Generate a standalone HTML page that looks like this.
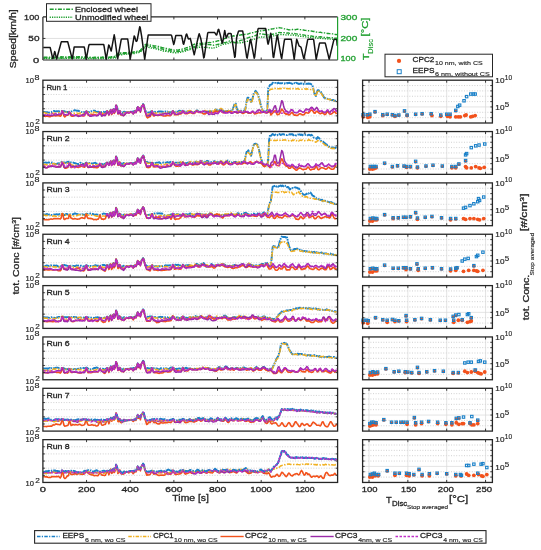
<!DOCTYPE html>
<html><head><meta charset="utf-8"><style>
html,body{margin:0;padding:0;background:#fff;}
svg{display:block;}
text{font-family:"Liberation Sans", Arial, sans-serif;stroke:#262626;stroke-width:0.3px;}
</style></head><body>
<svg width="541" height="550" viewBox="0 0 541 550">
<rect width="541" height="550" fill="#fff"/>
<line x1="42.9" y1="38.45" x2="337.6" y2="38.45" stroke="#d9d9d9" stroke-width="0.8"/>
<polyline points="43.5,58.5 44.5,58.43 45.5,58.55 46.5,58.62 47.5,58.7 48.5,58.57 49.5,58.48 50.5,58.45 51.5,58.62 52.5,58.72 53.5,58.55 54.5,58.36 55.5,58.38 56.5,58.68 57.5,58.51 58.5,58.27 59.5,58.46 60.5,58.32 61.5,58.37 62.5,58.38 63.5,58.35 64.5,58.49 65.5,58.41 66.5,58.34 67.5,58.45 68.5,58.49 69.5,58.19 70.5,58.35 71.5,58.25 72.5,58.34 73.5,58.2 74.5,58.35 75.5,58.33 76.5,58.29 77.5,58.19 78.5,58.26 79.5,58.17 80.5,58.15 81.5,58.36 82.5,58.22 83.5,58.51 84.5,58.48 85.5,58.17 86.5,58.46 87.5,58.32 88.5,58.47 89.5,58.5 90.5,58.27 91.5,58.5 92.5,58.52 93.5,58.69 94.5,58.45 95.5,58.68 96.5,58.43 97.5,58.49 98.5,58.41 99.5,58.65 100.5,58.52 101.5,58.72 102.5,58.48 103.5,58.47 104.5,58.45 105.5,58.25 106.5,58.28 107.5,58.43 108.5,58.19 109.5,58.24 110.5,58.18 111.5,58.22 112.5,58.07 113.5,58.05 114.5,58.07 115.5,58.01 116.5,56.4 117.5,55.11 118.5,54.76 119.5,54.7 120.5,54.61 121.5,54.8 122.5,54.56 123.5,54.4 124.5,54.3 125.5,54.41 126.5,54.15 127.5,54.05 128.5,54.19 129.5,53.9 130.5,53.88 131.5,53.76 132.5,53.55 133.5,53.43 134.5,53.44 135.5,53.06 136.5,52.81 137.5,52.58 138.5,52.62 139.5,52.44 140.5,51.94 141.5,50.87 142.5,49.88 143.5,48.87 144.5,47.91 145.5,47.01 146.5,46.58 147.5,46.89 148.5,47.35 149.5,47.43 150.5,47.44 151.5,48.08 152.5,48.17 153.5,48.26 154.5,48.73 155.5,48.88 156.5,49.05 157.5,49.3 158.5,49.51 159.5,49.88 160.5,50.24 161.5,50.3 162.5,50.61 163.5,51.01 164.5,50.87 165.5,51.27 166.5,51.43 167.5,51.56 168.5,51.75 169.5,52.01 170.5,52.21 171.5,52.24 172.5,52.45 173.5,52.67 174.5,52.76 175.5,52.85 176.5,52.68 177.5,52.57 178.5,52.62 179.5,52.36 180.5,52.19 181.5,52.14 182.5,51.73 183.5,51.49 184.5,51.31 185.5,50.98 186.5,50.78 187.5,50.28 188.5,49.79 189.5,49.89 190.5,49.45 191.5,48.83 192.5,48.77 193.5,48.24 194.5,47.66 195.5,47.61 196.5,47.51 197.5,47.67 198.5,47.3 199.5,47.28 200.5,47.19 201.5,47.09 202.5,46.93 203.5,47.1 204.5,47.34 205.5,47.42 206.5,47.38 207.5,47.49 208.5,47.78 209.5,47.83 210.5,47.97 211.5,47.99 212.5,48.56 213.5,48.3 214.5,47.67 215.5,47.48 216.5,47.13 217.5,46.27 218.5,46.08 219.5,45.69 220.5,45.4 221.5,44.9 222.5,44.48 223.5,44.18 224.5,44.18 225.5,44 226.5,43.45 227.5,43.18 228.5,43.39 229.5,42.72 230.5,42.54 231.5,42.53 232.5,42.64 233.5,42.76 234.5,42.74 235.5,42.65 236.5,42.87 237.5,42.89 238.5,43.14 239.5,42.97 240.5,42.71 241.5,42.5 242.5,42.55 243.5,42.06 244.5,41.62 245.5,41.56 246.5,41.38 247.5,41.27 248.5,40.75 249.5,40.71 250.5,40.42 251.5,39.89 252.5,39.6 253.5,39.49 254.5,39.13 255.5,38.68 256.5,38.26 257.5,38.01 258.5,37.51 259.5,37.16 260.5,36.89 261.5,36.97 262.5,36.94 263.5,37.26 264.5,36.89 265.5,37.04 266.5,37.03 267.5,36.83 268.5,36.97 269.5,36.55 270.5,36.7 271.5,36.56 272.5,35.94 273.5,35.86 274.5,35.89 275.5,35.5 276.5,35.17 277.5,35.03 278.5,34.78 279.5,34.7 280.5,34.58 281.5,34.55 282.5,34.55 283.5,34.68 284.5,34.9 285.5,34.84 286.5,34.93 287.5,34.89 288.5,34.8 289.5,34.93 290.5,35.14 291.5,35.13 292.5,35.06 293.5,35.07 294.5,35.41 295.5,35.48 296.5,35.61 297.5,35.75 298.5,35.95 299.5,36.08 300.5,36.29 301.5,36.42 302.5,36.59 303.5,36.66 304.5,36.65 305.5,36.82 306.5,37.01 307.5,37.05 308.5,37.28 309.5,37.48 310.5,37.38 311.5,37.39 312.5,37.88 313.5,37.84 314.5,38 315.5,37.84 316.5,38.28 317.5,38.24 318.5,38.22 319.5,38.27 320.5,38.4 321.5,38.45 322.5,38.51 323.5,38.49 324.5,38.85 325.5,38.77 326.5,38.87 327.5,38.95 328.5,38.73 329.5,39.15 330.5,39.13 331.5,39.21 332.5,39.33 333.5,39.29 334.5,39.58 335.5,39.48 336.5,39.49 337.5,39.5" fill="none" stroke="#1f9f2f" stroke-width="1.4" stroke-dasharray="1.3 1.2"/>
<polyline points="43.5,58.12 44.5,58.2 45.5,57.67 46.5,57.95 47.5,58.07 48.5,58.1 49.5,58.01 50.5,58.1 51.5,57.94 52.5,57.96 53.5,57.91 54.5,57.75 55.5,57.76 56.5,57.9 57.5,57.77 58.5,57.99 59.5,57.98 60.5,58.03 61.5,57.8 62.5,57.96 63.5,57.67 64.5,57.67 65.5,57.77 66.5,57.78 67.5,57.54 68.5,57.52 69.5,57.76 70.5,57.6 71.5,57.84 72.5,57.73 73.5,57.71 74.5,57.68 75.5,57.76 76.5,57.62 77.5,57.76 78.5,57.55 79.5,57.58 80.5,57.53 81.5,57.71 82.5,57.67 83.5,57.59 84.5,57.96 85.5,57.7 86.5,57.76 87.5,57.85 88.5,58.04 89.5,57.84 90.5,57.96 91.5,57.92 92.5,57.76 93.5,58.06 94.5,58.11 95.5,57.96 96.5,57.96 97.5,57.75 98.5,57.72 99.5,57.83 100.5,57.93 101.5,57.77 102.5,57.84 103.5,57.89 104.5,57.76 105.5,57.79 106.5,57.87 107.5,57.52 108.5,57.73 109.5,57.39 110.5,57.62 111.5,57.54 112.5,57.4 113.5,57.28 114.5,57.35 115.5,57.25 116.5,55.66 117.5,53.89 118.5,54 119.5,53.75 120.5,53.77 121.5,53.7 122.5,53.83 123.5,53.44 124.5,53.5 125.5,53.63 126.5,53.34 127.5,53.21 128.5,53.33 129.5,53.2 130.5,53.22 131.5,52.85 132.5,52.82 133.5,52.72 134.5,52.6 135.5,52.19 136.5,52.33 137.5,51.89 138.5,51.66 139.5,51.57 140.5,51.11 141.5,50.04 142.5,49.11 143.5,48.1 144.5,47.06 145.5,45.98 146.5,45.83 147.5,45.56 148.5,45.83 149.5,46.2 150.5,46.32 151.5,46.38 152.5,46.81 153.5,47.03 154.5,47.04 155.5,47.65 156.5,47.91 157.5,48.12 158.5,48.12 159.5,48.41 160.5,48.49 161.5,48.9 162.5,49.04 163.5,49.42 164.5,49.58 165.5,50 166.5,50.22 167.5,50.52 168.5,50.39 169.5,50.52 170.5,50.94 171.5,50.98 172.5,51.25 173.5,51.4 174.5,51.54 175.5,51.65 176.5,51.5 177.5,51.37 178.5,51.09 179.5,51.29 180.5,50.99 181.5,50.99 182.5,50.7 183.5,50.52 184.5,50.1 185.5,49.82 186.5,49.52 187.5,49.13 188.5,48.86 189.5,48.63 190.5,48.28 191.5,47.75 192.5,47.73 193.5,46.91 194.5,46.57 195.5,46.56 196.5,45.93 197.5,45.84 198.5,45.56 199.5,45.19 200.5,44.78 201.5,44.51 202.5,44.43 203.5,44.38 204.5,44.13 205.5,44.46 206.5,44.43 207.5,44.67 208.5,44.64 209.5,44.58 210.5,44.69 211.5,44.8 212.5,45.02 213.5,45.28 214.5,45.01 215.5,44.89 216.5,44.71 217.5,44.38 218.5,44.21 219.5,43.93 220.5,43.64 221.5,43.29 222.5,43.15 223.5,42.98 224.5,42.59 225.5,42.48 226.5,42.12 227.5,41.71 228.5,41.65 229.5,41.02 230.5,41.3 231.5,41.68 232.5,41.73 233.5,42.05 234.5,42.48 235.5,42.51 236.5,42.03 237.5,41.65 238.5,41.37 239.5,40.93 240.5,40.39 241.5,40.16 242.5,39.82 243.5,39.28 244.5,39.15 245.5,38.66 246.5,38.48 247.5,37.87 248.5,37.6 249.5,37.21 250.5,37.2 251.5,36.87 252.5,36.56 253.5,36.22 254.5,35.82 255.5,35.49 256.5,34.84 257.5,34.75 258.5,34.32 259.5,34.01 260.5,33.71 261.5,34.15 262.5,34.15 263.5,34.09 264.5,34.46 265.5,34.53 266.5,34.55 267.5,34.77 268.5,34.85 269.5,34.62 270.5,34.47 271.5,34.48 272.5,34.23 273.5,33.98 274.5,33.57 275.5,33.41 276.5,33.26 277.5,33.1 278.5,32.68 279.5,32.42 280.5,32.69 281.5,32.63 282.5,32.64 283.5,32.67 284.5,32.75 285.5,33.08 286.5,33.08 287.5,32.98 288.5,32.95 289.5,33.36 290.5,33.42 291.5,33.44 292.5,33.47 293.5,33.25 294.5,33.46 295.5,33.83 296.5,33.87 297.5,34.08 298.5,34.13 299.5,34.26 300.5,34.55 301.5,34.58 302.5,34.78 303.5,34.95 304.5,35.1 305.5,35.35 306.5,35.52 307.5,35.34 308.5,35.62 309.5,35.71 310.5,36.03 311.5,35.95 312.5,36.32 313.5,36.43 314.5,36.5 315.5,36.4 316.5,36.58 317.5,36.56 318.5,36.83 319.5,36.98 320.5,36.77 321.5,36.94 322.5,37.11 323.5,37.15 324.5,37.48 325.5,37.37 326.5,37.5 327.5,37.43 328.5,37.83 329.5,37.75 330.5,37.91 331.5,37.92 332.5,37.74 333.5,37.89 334.5,38.01 335.5,38.31 336.5,38.24 337.5,38.35" fill="none" stroke="#1f9f2f" stroke-width="1.4" stroke-dasharray="4 1.4 1.4 1.4"/>
<polyline points="43.5,57.29 44.5,57.32 45.5,57.23 46.5,57.15 47.5,57.18 48.5,57.11 49.5,57.22 50.5,57.36 51.5,57.13 52.5,57.1 53.5,57.22 54.5,57.19 55.5,57.14 56.5,57.01 57.5,57.1 58.5,57.17 59.5,56.92 60.5,57.01 61.5,56.82 62.5,56.88 63.5,56.8 64.5,56.98 65.5,56.84 66.5,57.01 67.5,56.99 68.5,56.93 69.5,56.64 70.5,56.86 71.5,56.91 72.5,56.91 73.5,56.7 74.5,56.82 75.5,56.74 76.5,56.75 77.5,56.96 78.5,56.72 79.5,56.8 80.5,56.92 81.5,56.78 82.5,56.87 83.5,56.93 84.5,56.96 85.5,56.84 86.5,57.03 87.5,57.21 88.5,56.9 89.5,57.22 90.5,57.16 91.5,57.11 92.5,57.46 93.5,57.34 94.5,57.14 95.5,57.3 96.5,57.34 97.5,57.23 98.5,57.31 99.5,57.2 100.5,57.27 101.5,57.34 102.5,57.07 103.5,57.15 104.5,57.05 105.5,57.11 106.5,56.93 107.5,56.98 108.5,57.01 109.5,57.12 110.5,57.1 111.5,56.73 112.5,56.72 113.5,56.82 114.5,56.43 115.5,56.54 116.5,54.89 117.5,53.35 118.5,53.22 119.5,53.03 120.5,52.96 121.5,52.91 122.5,53.06 123.5,52.76 124.5,52.72 125.5,52.73 126.5,52.61 127.5,52.54 128.5,52.36 129.5,52.43 130.5,52.27 131.5,52.3 132.5,52.08 133.5,51.84 134.5,51.76 135.5,51.48 136.5,51.49 137.5,51.2 138.5,51.11 139.5,50.73 140.5,50.26 141.5,48.86 142.5,47.67 143.5,46.72 144.5,45.49 145.5,44.47 146.5,44.5 147.5,44.32 148.5,44.54 149.5,44.83 150.5,45.05 151.5,45.16 152.5,45.37 153.5,45.69 154.5,45.88 155.5,45.91 156.5,46.24 157.5,46.47 158.5,46.55 159.5,46.92 160.5,47.02 161.5,47.49 162.5,47.65 163.5,47.89 164.5,48.05 165.5,48.36 166.5,48.39 167.5,48.74 168.5,49.14 169.5,49.02 170.5,49.57 171.5,49.44 172.5,49.93 173.5,49.92 174.5,50.3 175.5,50.24 176.5,49.9 177.5,50.09 178.5,49.97 179.5,49.65 180.5,49.48 181.5,49.35 182.5,49.01 183.5,48.91 184.5,48.36 185.5,48.07 186.5,47.63 187.5,47.3 188.5,46.87 189.5,46.83 190.5,46.23 191.5,45.87 192.5,45.25 193.5,44.67 194.5,44.21 195.5,43.89 196.5,43.86 197.5,43.72 198.5,43.64 199.5,43.41 200.5,43.39 201.5,43.59 202.5,43.22 203.5,43.08 204.5,43.15 205.5,43.18 206.5,42.75 207.5,42.8 208.5,42.66 209.5,42.43 210.5,42.64 211.5,42.39 212.5,42.18 213.5,41.85 214.5,41.78 215.5,41.44 216.5,41.26 217.5,40.92 218.5,40.69 219.5,40.77 220.5,40.24 221.5,39.94 222.5,39.5 223.5,39.05 224.5,38.64 225.5,38.38 226.5,37.86 227.5,37.48 228.5,37.1 229.5,36.84 230.5,36.51 231.5,36.32 232.5,36.06 233.5,35.81 234.5,35.94 235.5,35.79 236.5,35.51 237.5,35.44 238.5,35.32 239.5,35.17 240.5,35.04 241.5,34.72 242.5,34.81 243.5,34.33 244.5,34.43 245.5,34.23 246.5,34.13 247.5,34.1 248.5,33.9 249.5,33.44 250.5,33.17 251.5,33.22 252.5,32.75 253.5,32.62 254.5,32.48 255.5,31.93 256.5,31.62 257.5,31.66 258.5,31.38 259.5,31.1 260.5,30.93 261.5,30.67 262.5,30.44 263.5,30.46 264.5,30.21 265.5,29.98 266.5,30.09 267.5,29.87 268.5,29.77 269.5,29.46 270.5,29.31 271.5,29.05 272.5,28.84 273.5,28.75 274.5,28.41 275.5,28.32 276.5,28.1 277.5,28.08 278.5,27.44 279.5,27.72 280.5,27.83 281.5,28.07 282.5,28.12 283.5,28.47 284.5,28.84 285.5,28.97 286.5,29.21 287.5,29.4 288.5,29.8 289.5,29.88 290.5,29.69 291.5,29.79 292.5,29.54 293.5,29.3 294.5,29.54 295.5,29.68 296.5,29.44 297.5,29.2 298.5,29.26 299.5,29.64 300.5,29.66 301.5,29.78 302.5,29.91 303.5,30.05 304.5,30.28 305.5,30.39 306.5,30.48 307.5,30.47 308.5,30.79 309.5,30.79 310.5,31.16 311.5,31.02 312.5,31.31 313.5,31.47 314.5,31.47 315.5,31.98 316.5,32.1 317.5,32.02 318.5,32.32 319.5,32.41 320.5,32.17 321.5,32.64 322.5,32.72 323.5,32.86 324.5,32.84 325.5,33.06 326.5,33.2 327.5,33.48 328.5,33.5 329.5,33.58 330.5,33.89 331.5,33.76 332.5,33.9 333.5,33.85 334.5,34.38 335.5,34.43 336.5,34.55 337.5,34.58" fill="none" stroke="#1f9f2f" stroke-width="1.4" stroke-dasharray="4 1.4 1.4 1.4"/>
<polyline points="43.2,47.6 43.7,47.6 44.2,47.6 44.7,47.6 45.2,47.6 45.7,47.6 46.2,47.6 46.7,47.6 47.2,47.6 47.7,47.6 48.2,47.6 48.7,47.6 49.2,47.6 49.7,47.6 50.2,47.6 50.7,49.77 51.2,51.93 51.7,54.1 52.2,56.27 52.7,58.43 53.2,57.99 53.7,55.81 54.2,53.62 54.7,51.44 55.2,52.84 55.7,55.15 56.2,57.46 56.7,58.93 57.2,57.05 57.7,55.18 58.2,53.31 58.7,51.44 59.2,49.56 59.7,47.69 60.2,45.82 60.7,43.95 61.2,42.07 61.7,41.7 62.2,41.7 62.7,41.7 63.2,41.7 63.7,41.7 64.2,41.7 64.7,41.7 65.2,41.7 65.7,41.7 66.2,41.7 66.7,41.7 67.2,41.7 67.7,41.7 68.2,43.61 68.7,45.53 69.2,47.44 69.7,49.35 70.2,51.27 70.7,53.18 71.2,55.09 71.7,57 72.2,58.92 72.7,56.69 73.2,53.43 73.7,50.16 74.2,46.9 74.7,46.9 75.2,46.9 75.7,46.9 76.2,46.9 76.7,46.9 77.2,46.9 77.7,46.9 78.2,46.9 78.7,46.9 79.2,46.9 79.7,46.9 80.2,46.9 80.7,46.9 81.2,46.9 81.7,46.9 82.2,46.9 82.7,46.9 83.2,46.9 83.7,46.9 84.2,46.9 84.7,48.97 85.2,52.41 85.7,55.86 86.2,59.3 86.7,56.66 87.2,54.01 87.7,51.37 88.2,48.73 88.7,46.09 89.2,44.5 89.7,44.5 90.2,44.5 90.7,44.5 91.2,44.5 91.7,44.5 92.2,44.5 92.7,44.5 93.2,44.5 93.7,44.5 94.2,44.5 94.7,44.5 95.2,44.5 95.7,44.5 96.2,44.5 96.7,44.5 97.2,44.5 97.7,44.5 98.2,44.5 98.7,44.5 99.2,44.5 99.7,44.5 100.2,44.5 100.7,44.5 101.2,44.5 101.7,44.5 102.2,44.5 102.7,44.5 103.2,44.5 103.7,44.5 104.2,46.97 104.7,50.05 105.2,53.13 105.7,56.22 106.2,59.3 106.7,56.45 107.2,53.61 107.7,50.76 108.2,47.92 108.7,45.07 109.2,45.58 109.7,46.94 110.2,48.29 110.7,49.65 111.2,51 111.7,48.31 112.2,45.61 112.7,42.92 113.2,40.23 113.7,37.53 114.2,34.84 114.7,37.33 115.2,41.12 115.7,44.91 116.2,48.69 116.7,52.48 117.2,56.27 117.7,58.75 118.2,56.01 118.7,53.26 119.2,50.52 119.7,47.78 120.2,45.04 120.7,42.29 121.2,39.55 121.7,39 122.2,39 122.7,39 123.2,39 123.7,39 124.2,39 124.7,39 125.2,39 125.7,39 126.2,39 126.7,39 127.2,39 127.7,39 128.2,42.38 128.7,46.61 129.2,50.84 129.7,55.07 130.2,59.3 130.7,56.37 131.2,53.45 131.7,50.52 132.2,47.59 132.7,44.67 133.2,41.74 133.7,38.81 134.2,35.89 134.7,36.66 135.2,38.35 135.7,40.04 136.2,41.38 136.7,41.27 137.2,40.13 137.7,37.46 138.2,34.79 138.7,32.11 139.2,29.44 139.7,26.77 140.2,27.53 140.7,30.58 141.2,33.64 141.7,36.69 142.2,40.33 142.7,44.13 143.2,47.92 143.7,51.71 144.2,55.51 144.7,59.3 145.2,55.83 145.7,52.36 146.2,48.89 146.7,45.41 147.2,41.94 147.7,38.47 148.2,35 148.7,35 149.2,35 149.7,35 150.2,35 150.7,35 151.2,35 151.7,35 152.2,35 152.7,35 153.2,35 153.7,35 154.2,35 154.7,35 155.2,35 155.7,35 156.2,35 156.7,35 157.2,35 157.7,35 158.2,35 158.7,35 159.2,35 159.7,35 160.2,35 160.7,35 161.2,35 161.7,35 162.2,35 162.7,35 163.2,35 163.7,35 164.2,35 164.7,35 165.2,35 165.7,35 166.2,35 166.7,35 167.2,35 167.7,35 168.2,35 168.7,35 169.2,35 169.7,35 170.2,35 170.7,35 171.2,35 171.7,35.87 172.2,38.04 172.7,40.22 173.2,42.39 173.7,44.57 174.2,43.08 174.7,40.68 175.2,38.28 175.7,35.88 176.2,35.4 176.7,35.4 177.2,35.4 177.7,35.4 178.2,35.4 178.7,35.4 179.2,35.4 179.7,35.4 180.2,35.4 180.7,35.4 181.2,35.4 181.7,35.91 182.2,38.43 182.7,40.96 183.2,43.48 183.7,44.23 184.2,42.29 184.7,40.36 185.2,38.43 185.7,36.49 186.2,34.56 186.7,34.01 187.2,35.54 187.7,37.06 188.2,38.59 188.7,39.06 189.2,38.82 189.7,38.58 190.2,38.35 190.7,39.99 191.2,42.11 191.7,44.22 192.2,46.34 192.7,48.45 193.2,50.57 193.7,52.68 194.2,54.8 194.7,52.62 195.2,50.43 195.7,48.25 196.2,46.07 196.7,43.88 197.2,41.7 197.7,39.51 198.2,37.33 198.7,35.15 199.2,33.71 199.7,35.23 200.2,36.76 200.7,38.28 201.2,40.59 201.7,44.05 202.2,47.52 202.7,50.98 203.2,54.45 203.7,57.91 204.2,57.23 204.7,53.78 205.2,50.33 205.7,46.88 206.2,43.44 206.7,39.99 207.2,36.54 207.7,33.09 208.2,32.4 208.7,32.4 209.2,32.4 209.7,32.4 210.2,32.4 210.7,32.4 211.2,32.4 211.7,32.4 212.2,32.4 212.7,32.4 213.2,32.4 213.7,32.4 214.2,32.4 214.7,32.55 215.2,33.3 215.7,34.05 216.2,34.8 216.7,35.04 217.2,33.25 217.7,31.46 218.2,29.67 218.7,29.32 219.2,31.11 219.7,32.89 220.2,34.68 220.7,36.7 221.2,38.88 221.7,41.05 222.2,43.23 222.7,42.33 223.2,39.37 223.7,36.41 224.2,33.46 224.7,30.5 225.2,32.94 225.7,35.37 226.2,37.81 226.7,37.27 227.2,35.98 227.7,34.69 228.2,33.4 228.7,33.4 229.2,33.4 229.7,33.4 230.2,33.4 230.7,33.4 231.2,34.06 231.7,37.38 232.2,40.71 232.7,44.03 233.2,47.35 233.7,50.67 234.2,53.99 234.7,57.31 235.2,56.46 235.7,49.36 236.2,42.26 236.7,37.31 237.2,35.59 237.7,33.86 238.2,32.14 238.7,31.1 239.2,31.1 239.7,31.1 240.2,31.1 240.7,31.1 241.2,31.1 241.7,31.1 242.2,31.1 242.7,31.1 243.2,33.79 243.7,37.14 244.2,40.5 244.7,43.86 245.2,47.21 245.7,50.57 246.2,53.93 246.7,57.29 247.2,58.1 247.7,55.1 248.2,52.1 248.7,49.1 249.2,46.1 249.7,43.1 250.2,40.1 250.7,39.38 251.2,42.07 251.7,44.76 252.2,47.45 252.7,50.15 253.2,52.84 253.7,55.53 254.2,58.22 254.7,56.67 255.2,52.28 255.7,47.9 256.2,43.51 256.7,39.13 257.2,34.74 257.7,30.35 258.2,28.6 258.7,28.6 259.2,28.6 259.7,28.6 260.2,28.6 260.7,28.6 261.2,28.6 261.7,28.6 262.2,28.6 262.7,28.6 263.2,28.6 263.7,28.6 264.2,28.6 264.7,28.6 265.2,28.6 265.7,28.6 266.2,32.17 266.7,35.73 267.2,39.3 267.7,42.86 268.2,44.13 268.7,41.96 269.2,39.79 269.7,37.61 270.2,35.44 270.7,33.27 271.2,35.63 271.7,41.01 272.2,46.39 272.7,51.77 273.2,57.15 273.7,57.38 274.2,54.19 274.7,51 275.2,47.81 275.7,44.62 276.2,41.42 276.7,38.23 277.2,35.04 277.7,36.72 278.2,39.61 278.7,42.51 279.2,45.4 279.7,48.3 280.2,51.19 280.7,54.09 281.2,56.98 281.7,58.61 282.2,55.14 282.7,51.68 283.2,48.21 283.7,44.74 284.2,41.28 284.7,39.2 285.2,39.2 285.7,39.2 286.2,39.2 286.7,39.2 287.2,39.2 287.7,39.2 288.2,39.2 288.7,39.2 289.2,39.2 289.7,39.2 290.2,39.2 290.7,39.2 291.2,39.2 291.7,41.97 292.2,45.44 292.7,48.9 293.2,52.37 293.7,55.83 294.2,59.3 294.7,55.28 295.2,51.26 295.7,47.24 296.2,43.22 296.7,39.2 297.2,40.62 297.7,42.03 298.2,43.45 298.7,44.87 299.2,46.05 299.7,46.32 300.2,46.58 300.7,46.84 301.2,47.85 301.7,49.97 302.2,52.09 302.7,54.21 303.2,56.33 303.7,58.45 304.2,57.75 304.7,55.18 305.2,52.6 305.7,50.02 306.2,47.45 306.7,44.87 307.2,42.29 307.7,39.72 308.2,39.2 308.7,39.2 309.2,39.2 309.7,39.2 310.2,39.2 310.7,39.2 311.2,39.2 311.7,39.2 312.2,39.2 312.7,39.2 313.2,39.2 313.7,39.97 314.2,43.84 314.7,47.7 315.2,51.57 315.7,55.43 316.2,59.3 316.7,56.85 317.2,54.39 317.7,51.94 318.2,49.48 318.7,47.03 319.2,44.57 319.7,43.1 320.2,43.1 320.7,43.1 321.2,43.1 321.7,43.1 322.2,43.1 322.7,43.1 323.2,43.1 323.7,43.1 324.2,43.1 324.7,43.1 325.2,43.1 325.7,44.76 326.2,46.84 326.7,48.92 327.2,50.99 327.7,53.07 328.2,55.15 328.7,57.22 329.2,59.3 329.7,57.21 330.2,55.11 330.7,53.02 331.2,50.93 331.7,48.83 332.2,46.74 332.7,44.64 333.2,42.55 333.7,40.46 334.2,39.2 334.7,39.2 335.2,39.2 335.7,39.2 336.2,39.2 336.7,39.2 337.2,45.8" fill="none" stroke="#141414" stroke-width="1.5" stroke-linejoin="round"/>
<path d="M42.9 16.9H337.6M42.9 60H337.6" stroke="#262626" stroke-width="1.1" fill="none"/>
<line x1="42.9" y1="16.9" x2="42.9" y2="60" stroke="#262626" stroke-width="1.2"/>
<line x1="337.6" y1="16.9" x2="337.6" y2="60" stroke="#1f9f2f" stroke-width="1.2"/>
<path d="M86.56 16.9v2.5M86.56 60v-2.5M130.22 16.9v2.5M130.22 60v-2.5M173.88 16.9v2.5M173.88 60v-2.5M217.54 16.9v2.5M217.54 60v-2.5M261.2 16.9v2.5M261.2 60v-2.5M304.86 16.9v2.5M304.86 60v-2.5M42.9 38.45h2.5" stroke="#262626" stroke-width="0.9"/>
<path d="M337.6 38.45h-2.5" stroke="#1f9f2f" stroke-width="0.9"/>
<rect x="46.5" y="3.7" width="104.5" height="17.6" fill="#fff" stroke="#262626" stroke-width="1"/>
<line x1="49.7" y1="9.2" x2="72.9" y2="9.2" stroke="#1f9f2f" stroke-width="1.5" stroke-dasharray="4 1.4 1.4 1.4"/>
<line x1="49.7" y1="17.2" x2="72.9" y2="17.2" stroke="#1f9f2f" stroke-width="1.5" stroke-dasharray="1.2 1.1"/>
<text x="75.14" y="11.6" font-size="7.6" text-anchor="start" fill="#262626" textLength="62.81" lengthAdjust="spacingAndGlyphs">Enclosed wheel</text>
<text x="75.14" y="19.8" font-size="7.6" text-anchor="start" fill="#262626" textLength="73.31" lengthAdjust="spacingAndGlyphs">Unmodified wheel</text>
<text x="24.14" y="19.6" font-size="7.6" text-anchor="start" fill="#262626" textLength="15.11" lengthAdjust="spacingAndGlyphs">100</text>
<text x="28.34" y="41.1" font-size="7.6" text-anchor="start" fill="#262626" textLength="11.11" lengthAdjust="spacingAndGlyphs">50</text>
<text x="32.94" y="63.2" font-size="7.6" text-anchor="start" fill="#262626" textLength="6.21" lengthAdjust="spacingAndGlyphs">0</text>
<text x="340.54" y="20" font-size="7.6" text-anchor="start" fill="#1f9f2f" style="stroke:#1f9f2f" textLength="16.71" lengthAdjust="spacingAndGlyphs">300</text>
<text x="340.54" y="40.7" font-size="7.6" text-anchor="start" fill="#1f9f2f" style="stroke:#1f9f2f" textLength="16.71" lengthAdjust="spacingAndGlyphs">200</text>
<text x="340.54" y="60.9" font-size="7.6" text-anchor="start" fill="#1f9f2f" style="stroke:#1f9f2f" textLength="15.21" lengthAdjust="spacingAndGlyphs">100</text>
<text transform="translate(16.2,68.19) rotate(-90)" font-size="8.2" text-anchor="start" fill="#262626" textLength="58.98" lengthAdjust="spacingAndGlyphs">Speed[km/h]</text>
<text transform="translate(368.7,59.9) rotate(-90)" font-size="8.4" text-anchor="start" fill="#1f9f2f" style="stroke:#1f9f2f" textLength="6.61" lengthAdjust="spacingAndGlyphs">T</text>
<text transform="translate(373.1,53.68) rotate(-90)" font-size="6.4" text-anchor="start" fill="#1f9f2f" style="stroke:#1f9f2f;stroke-width:0.15px" textLength="14.57" lengthAdjust="spacingAndGlyphs">Disc</text>
<text transform="translate(368.2,36.5) rotate(-90)" font-size="8.4" text-anchor="start" fill="#1f9f2f" style="stroke:#1f9f2f" textLength="18.91" lengthAdjust="spacingAndGlyphs">[°C]</text>
<path d="M42.9 115.87H337.6M42.9 108.73H337.6M42.9 101.6H337.6M42.9 94.47H337.6M42.9 87.33H337.6" stroke="#bdbdbd" stroke-width="0.7" stroke-dasharray="1 1.6"/>
<clipPath id="cl0"><rect x="42.9" y="80.2" width="294.7" height="42.8"/></clipPath>
<g clip-path="url(#cl0)" fill="none" stroke-linejoin="round">
<polyline points="43.2,112.14 44.1,111.9 45,112.01 45.9,112.52 46.8,112.22 47.7,112.3 48.6,112.63 49.5,112.42 50.4,112.24 51.3,112.23 52.2,111.65 53.1,111.2 54,110.95 54.9,111.24 55.8,111.35 56.7,111.31 57.6,111.31 58.5,111.1 59.4,111.44 60.3,111.46 61.2,111.73 62.1,110.86 63,111.06 63.9,111.03 64.8,111.61 65.7,111.78 66.6,112 67.5,111.94 68.4,112.21 69.3,111.66 70.2,111.48 71.1,111.34 72,111.36 72.9,111.06 73.8,110.71 74.7,110.2 75.6,110.4 76.5,110.71 77.4,110.65 78.3,110.73 79.2,111.04 80.1,111.52 81,111.89 81.9,112.19 82.8,112.41 83.7,112.12 84.6,112.27 85.5,111.74 86.4,111.33 87.3,111.57 88.2,111.9 89.1,112.19 90,112.09 90.9,111.37 91.8,111.25 92.7,111.14 93.6,110.64 94.5,110.63 95.4,111.18 96.3,111.95 97.2,111.98 98.1,111.7 99,111.82 99.9,112.03 100.8,111.97 101.7,112.14 102.6,111.75 103.5,111.73 104.4,112.25 105.3,112.13 106.2,111.52 107.1,111.14 108,111.6 108.9,111.98 109.8,110.88 110.7,109.75 111.6,111.07 112.5,110.5 113.4,109.43 114.3,110.61 115.2,108.81 116.1,104.9 117,106.82 117.9,110.69 118.8,111.28 119.7,110.78 120.6,111.62 121.5,113.55 122.4,113.79 123.3,112.03 124.2,111.64 125.1,111.93 126,112.17 126.9,112.23 127.8,112.13 128.7,112.01 129.6,111.81 130.5,111.82 131.4,111.82 132.3,111.64 133.2,111.53 134.1,111.2 135,111.06 135.9,110.9 136.8,108.85 137.7,106.54 138.6,108.87 139.5,108.33 140.4,109.67 141.3,106.54 142.2,105.51 143.1,104.06 144,105.28 144.9,110.21 145.8,111.17 146.7,112.18 147.6,112.45 148.5,112.33 149.4,112.61 150.3,112.02 151.2,111.28 152.1,111.33 153,112 153.9,112.21 154.8,111.73 155.7,112.04 156.6,111.9 157.5,111.86 158.4,111.53 159.3,111.52 160.2,111.47 161.1,111.37 162,111.82 162.9,111.8 163.8,111.98 164.7,111.68 165.6,111.5 166.5,111.62 167.4,111.55 168.3,112.11 169.2,112.26 170.1,112.22 171,112.32 171.9,111.84 172.8,110.86 173.7,111.37 174.6,112.14 175.5,111.74 176.4,111.74 177.3,111.62 178.2,111.28 179.1,110.82 180,110.81 180.9,111.35 181.8,111.41 182.7,110.72 183.6,110.9 184.5,111.42 185.4,111.99 186.3,111.75 187.2,111.59 188.1,111.36 189,111.54 189.9,111.16 190.8,111.69 191.7,112.3 192.6,112.17 193.5,112.26 194.4,112.15 195.3,111.54 196.2,110.66 197.1,110.34 198,110.91 198.9,111.55 199.8,111.95 200.7,111.71 201.6,111.84 202.5,112.16 203.4,111.75 204.3,111.48 205.2,111.52 206.1,112.19 207,112.66 207.9,111.83 208.8,111.4 209.7,111.37 210.6,111.31 211.5,111.37 212.4,112 213.3,112.02 214.2,111.89 215.1,109.8 216,109.47 216.9,110.12 217.8,110.9 218.7,110.63 219.6,109.86 220.5,108.87 221.4,109.22 222.3,110.64 223.2,110.78 224.1,111.15 225,111.37 225.9,111.24 226.8,111.17 227.7,111.01 228.6,110.62 229.5,110.09 230.4,110.73 231.3,110.99 232.2,110.64 233.1,108.22 234,105.5 234.9,103.34 235.8,103.61 236.7,108.25 237.6,110.3 238.5,110.86 239.4,110.33 240.3,110.4 241.2,110.9 242.1,110.96 243,110.99 243.9,110.74 244.8,111.16 245.7,107.33 246.6,101.34 247.5,97.68 248.4,97.78 249.3,98.61 250.2,99.72 251.1,101.78 252,100.45 252.9,96.91 253.8,93.17 254.7,92.32 255.6,90.76 256.5,92.01 257.4,93.38 258.3,95.43 259.2,98.43 260.1,102.37 261,105.76 261.9,108.22 262.8,110.93 263.7,111.35 264.6,111.49 265.5,111.67 266.4,111.01 267.3,111.16 268.2,88.46 269.1,86.75 270,84.94 270.9,84.69 271.8,84.43 272.7,82.71 273.6,83.4 274.5,83.15 275.4,82.89 276.3,83.82 277.2,83.39 278.1,82.71 279,83.16 279.9,83.34 280.8,83.08 281.7,83.39 282.6,83.13 283.5,83.4 284.4,83.67 285.3,82.94 286.2,83.25 287.1,83.02 288,83.23 288.9,82.78 289.8,83 290.7,83.16 291.6,83.57 292.5,83.69 293.4,82.86 294.3,83.08 295.2,83.61 296.1,82.72 297,83.29 297.9,83.45 298.8,83.96 299.7,83.79 300.6,83.47 301.5,83.49 302.4,83.56 303.3,84.21 304.2,83.56 305.1,83.64 306,83.9 306.9,83.77 307.8,83.77 308.7,83.48 309.6,83.9 310.5,83.78 311.4,84.38 312.3,84.64 313.2,88.15 314.1,92.13 315,95.52 315.9,95.99 316.8,92.59 317.7,90.17 318.6,90.13 319.5,91.31 320.4,91.21 321.3,92.28 322.2,94.38 323.1,95.66 324,97.4 324.9,98.52 325.8,97.84 326.7,98.31 327.6,98.9 328.5,99.23 329.4,99.23 330.3,99.45 331.2,99.99 332.1,100.19 333,99.91 333.9,100.51 334.8,100.82 335.7,100.7 336.6,101.43" stroke="#1a80c8" stroke-width="1.9" stroke-dasharray="7 1 1.6 1"/>
<polyline points="43.2,112.75 44.1,112.31 45,112.72 45.9,113.54 46.8,113.13 47.7,113.43 48.6,114.04 49.5,113.65 50.4,113.65 51.3,113.64 52.2,113.32 53.1,113.27 54,113.12 54.9,113.4 55.8,113.3 56.7,112.93 57.6,112.75 58.5,112.48 59.4,112.8 60.3,113 61.2,112.73 62.1,111.09 63,111.45 63.9,112.34 64.8,113.13 65.7,112.52 66.6,111.91 67.5,111.77 68.4,112.57 69.3,111.94 70.2,112.51 71.1,113.73 72,113.53 72.9,113.39 73.8,113.18 74.7,113.18 75.6,113.09 76.5,112.86 77.4,113.12 78.3,113.56 79.2,113.48 80.1,113 81,112.9 81.9,113.37 82.8,113.63 83.7,113.5 84.6,113.06 85.5,111.8 86.4,111.18 87.3,112.14 88.2,112.54 89.1,113.25 90,113.49 90.9,113.22 91.8,113.49 92.7,113.07 93.6,112.28 94.5,111.92 95.4,112.41 96.3,112.87 97.2,112.64 98.1,112.59 99,112.4 99.9,112.14 100.8,112.37 101.7,112.92 102.6,113.3 103.5,113.72 104.4,113.8 105.3,113.67 106.2,112.36 107.1,111.1 108,111.89 108.9,112.4 109.8,111.06 110.7,109.74 111.6,112.54 112.5,111.71 113.4,109.35 114.3,111.51 115.2,110.15 116.1,105.25 117,107.53 117.9,112.01 118.8,112.39 119.7,110.6 120.6,113.25 121.5,114.24 122.4,114.19 123.3,113.02 124.2,112.42 125.1,112.41 126,112.28 126.9,112.22 127.8,112.24 128.7,112.17 129.6,111.94 130.5,111.65 131.4,111.63 132.3,111.98 133.2,112.56 134.1,112.03 135,111.23 135.9,111.69 136.8,109.57 137.7,106.8 138.6,109.15 139.5,108.15 140.4,109.87 141.3,106.58 142.2,105.49 143.1,104.1 144,105.34 144.9,110.42 145.8,111.68 146.7,113.91 147.6,114.56 148.5,114.12 149.4,113.68 150.3,113.36 151.2,112.13 152.1,110.92 153,112.52 153.9,113.28 154.8,113.27 155.7,113.32 156.6,112.97 157.5,113.12 158.4,113 159.3,113.11 160.2,113.31 161.1,112.98 162,113.11 162.9,113.21 163.8,113.65 164.7,113.41 165.6,112.88 166.5,112.61 167.4,112.01 168.3,112.07 169.2,112.08 170.1,112.31 171,112.36 171.9,112.14 172.8,110.85 173.7,111.6 174.6,112.74 175.5,112.53 176.4,112.49 177.3,112.41 178.2,112.46 179.1,111.88 180,111.9 180.9,111.99 181.8,111.96 182.7,110.95 183.6,111.37 184.5,112.34 185.4,111.94 186.3,111.44 187.2,111.72 188.1,110.9 189,110.74 189.9,110.59 190.8,110.69 191.7,111.56 192.6,112.02 193.5,112.01 194.4,111.49 195.3,111.25 196.2,110.99 197.1,110.42 198,111.47 198.9,112.3 199.8,111.96 200.7,112 201.6,112.04 202.5,112.1 203.4,112.08 204.3,111.04 205.2,110.47 206.1,110.88 207,111.14 207.9,111.26 208.8,111.23 209.7,110.62 210.6,110.66 211.5,110.4 212.4,110.8 213.3,111.14 214.2,110.99 215.1,109.62 216,109.59 216.9,110.52 217.8,111.04 218.7,109.88 219.6,109.38 220.5,108.47 221.4,108.43 222.3,109.54 223.2,110.27 224.1,110.64 225,110.64 225.9,110.78 226.8,110.28 227.7,110.1 228.6,110.61 229.5,111.02 230.4,111.49 231.3,111.59 232.2,110.92 233.1,109.13 234,106.56 234.9,104.68 235.8,104.59 236.7,109.56 237.6,110.64 238.5,110.95 239.4,111.46 240.3,110.77 241.2,111.72 242.1,110.99 243,111.8 243.9,111.38 244.8,111.92 245.7,107.78 246.6,102.2 247.5,99.21 248.4,99.88 249.3,100.04 250.2,101.28 251.1,102.82 252,101.6 252.9,98.15 253.8,93.95 254.7,93.28 255.6,92.23 256.5,92.87 257.4,93.96 258.3,96.75 259.2,99.84 260.1,103.69 261,106.92 261.9,108.99 262.8,111.03 263.7,111.97 264.6,112 265.5,111.74 266.4,111.63 267.3,111.29 268.2,92.48 269.1,91.53 270,89.58 270.9,89.1 271.8,89.15 272.7,89.1 273.6,88.17 274.5,88.55 275.4,88.44 276.3,88.11 277.2,88.86 278.1,88.64 279,88.68 279.9,88.44 280.8,88.81 281.7,88.53 282.6,88.65 283.5,88.37 284.4,88.35 285.3,89.12 286.2,88.58 287.1,88.83 288,88.74 288.9,88.63 289.8,88.61 290.7,88.97 291.6,88.69 292.5,88.75 293.4,88.81 294.3,89.16 295.2,89.02 296.1,88.94 297,88.67 297.9,88.43 298.8,89.14 299.7,89.16 300.6,88.83 301.5,89.05 302.4,89.13 303.3,89.15 304.2,89.19 305.1,88.78 306,89.38 306.9,88.56 307.8,89.2 308.7,89.1 309.6,89.23 310.5,89.54 311.4,89.43 312.3,88.65 313.2,88.49 314.1,92.56 315,95.74 315.9,96.11 316.8,93.5 317.7,90.27 318.6,90.71 319.5,92 320.4,92.52 321.3,93.56 322.2,95.06 323.1,96.19 324,97.29 324.9,98.06 325.8,98.18 326.7,98.34 327.6,99.27 328.5,99.31 329.4,99.66 330.3,99.45 331.2,99.76 332.1,99.91 333,100.21 333.9,100.8 334.8,100.77 335.7,101.38 336.6,101.64" stroke="#f0b020" stroke-width="1.5" stroke-dasharray="5 1.5 1.5 1.5"/>
<polyline points="43.2,115.66 44.1,116.22 45,116.11 45.9,116.36 46.8,116.08 47.7,116.13 48.6,116.48 49.5,116.73 50.4,116.64 51.3,116.03 52.2,115.87 53.1,115.86 54,115.46 54.9,115.65 55.8,115.9 56.7,115.78 57.6,115.74 58.5,115.52 59.4,115.8 60.3,116.26 61.2,115.33 62.1,111.1 63,112.42 63.9,115.9 64.8,116.9 65.7,116.04 66.6,115.2 67.5,115.22 68.4,114.71 69.3,112.23 70.2,113.27 71.1,115.89 72,116.28 72.9,116.23 73.8,115.65 74.7,115.17 75.6,115.11 76.5,114.71 77.4,115.08 78.3,115.66 79.2,115.65 80.1,115.4 81,115.34 81.9,115.6 82.8,116 83.7,115.92 84.6,115.47 85.5,112.96 86.4,111.39 87.3,113.82 88.2,115.08 89.1,115.59 90,115.57 90.9,114.97 91.8,114.91 92.7,114.36 93.6,114.31 94.5,114.8 95.4,114.8 96.3,115.13 97.2,115.14 98.1,115.12 99,113.87 99.9,112.17 100.8,113.55 101.7,115.25 102.6,114.85 103.5,114.58 104.4,115.36 105.3,115.49 106.2,113.71 107.1,111.08 108,112.9 108.9,114.94 109.8,112.71 110.7,110.01 111.6,114.47 112.5,113.21 113.4,109.37 114.3,113.42 115.2,111.71 116.1,105.29 117,108.39 117.9,113.91 118.8,113.47 119.7,110.68 120.6,114.84 121.5,114.88 122.4,114.64 123.3,115.66 124.2,115.16 125.1,114.31 126,113.01 126.9,112.36 127.8,112.61 128.7,113.13 129.6,112.83 130.5,111.99 131.4,111.94 132.3,112.88 133.2,113.81 134.1,112.75 135,111.28 135.9,112.54 136.8,110.94 137.7,106.95 138.6,110.49 139.5,108.35 140.4,112.14 141.3,107.73 142.2,106.16 143.1,104.47 144,106.17 144.9,111.19 145.8,113.79 146.7,116.96 147.6,117.84 148.5,117.31 149.4,116.83 150.3,116.46 151.2,113.88 152.1,111.29 153,115.04 153.9,116.1 154.8,115.22 155.7,115.31 156.6,115.25 157.5,115.49 158.4,115.39 159.3,115.3 160.2,115.02 161.1,114.95 162,115.44 162.9,115.66 163.8,116.03 164.7,116.02 165.6,115.85 166.5,115.66 167.4,115.29 168.3,115.51 169.2,115.8 170.1,115.72 171,115.16 171.9,113.84 172.8,111.1 173.7,112.54 174.6,114.83 175.5,114.72 176.4,114.77 177.3,114.79 178.2,114.7 179.1,113.99 180,113.71 180.9,113.96 181.8,113.15 182.7,110.76 183.6,111.45 184.5,113.33 185.4,113.78 186.3,113.68 187.2,113.75 188.1,113.32 189,113.08 189.9,112.69 190.8,112.53 191.7,113.04 192.6,113.55 193.5,113.52 194.4,113.46 195.3,112.65 196.2,111.5 197.1,110.97 198,111.96 198.9,112.45 199.8,112.34 200.7,112.6 201.6,112.45 202.5,113.27 203.4,113.85 204.3,113.83 205.2,114.02 206.1,113.16 207,112.67 207.9,112.7 208.8,112.39 209.7,112.04 210.6,112.2 211.5,112.43 212.4,112.78 213.3,112.52 214.2,112.64 215.1,111.26 216,110.93 216.9,111.36 217.8,112.07 218.7,111.82 219.6,111.15 220.5,110.74 221.4,111.5 222.3,112.33 223.2,112.76 224.1,112.69 225,111.94 225.9,112.04 226.8,112.05 227.7,111.71 228.6,111.69 229.5,111.6 230.4,111.98 231.3,112.01 232.2,112.14 233.1,112.23 234,112.04 234.9,112.12 235.8,112.34 236.7,112.86 237.6,113 238.5,112.77 239.4,111.97 240.3,111.69 241.2,112.4 242.1,113 243,113.55 243.9,113.06 244.8,112.5 245.7,112.3 246.6,112.16 247.5,112.63 248.4,113.2 249.3,113.03 250.2,113.16 251.1,112.96 252,111.93 252.9,111.59 253.8,112.87 254.7,113.86 255.6,113.78 256.5,113.51 257.4,113.14 258.3,112.73 259.2,112.58 260.1,113.06 261,112.66 261.9,112.24 262.8,112.05 263.7,112.04 264.6,112.52 265.5,112.78 266.4,113.06 267.3,112.8 268.2,112.33 269.1,111.72 270,111.49 270.9,115 271.8,114.01 272.7,113.05 273.6,111.87 274.5,110.91 275.4,110.7 276.3,112.81 277.2,114.66 278.1,114.45 279,114.44 279.9,112.78 280.8,111.08 281.7,109.12 282.6,110.05 283.5,111.18 284.4,113.2 285.3,113.4 286.2,114.49 287.1,113.53 288,114.55 288.9,114.93 289.8,114.48 290.7,113.5 291.6,112.45 292.5,112.79 293.4,114.22 294.3,115.13 295.2,114.92 296.1,115.26 297,115.59 297.9,115.15 298.8,114.23 299.7,113.76 300.6,113.72 301.5,114.6 302.4,114.9 303.3,114.78 304.2,114.68 305.1,113.3 306,112.38 306.9,112.8 307.8,113.1 308.7,112.88 309.6,111.98 310.5,110.66 311.4,109.94 312.3,110.43 313.2,111.53 314.1,112.99 315,113.25 315.9,111.94 316.8,111.2 317.7,111.81 318.6,112.58 319.5,113.46 320.4,113.69 321.3,113.24 322.2,112.73 323.1,113.27 324,114 324.9,114.64 325.8,114.08 326.7,112.42 327.6,111.36 328.5,112.26 329.4,113.75 330.3,114.17 331.2,113.98 332.1,113.47 333,112.63 333.9,111.89 334.8,111.79 335.7,112.87 336.6,114.01" stroke="#f2521c" stroke-width="1.6"/>
<polyline points="43.2,115.44 44.1,115.57 45,115.09 45.9,115.19 46.8,115.3 47.7,115.37 48.6,115.4 49.5,115.26 50.4,115.41 51.3,115.56 52.2,115.42 53.1,115.23 54,114.67 54.9,115.08 55.8,115.04 56.7,114.72 57.6,114.85 58.5,114.33 59.4,114.41 60.3,114.37 61.2,113.93 62.1,111.02 63,112.1 63.9,114.48 64.8,114.78 65.7,114.74 66.6,114.9 67.5,114.68 68.4,114.28 69.3,112.11 70.2,113.04 71.1,115.06 72,115.32 72.9,115.26 73.8,115.65 74.7,115.67 75.6,115.48 76.5,115.6 77.4,116.02 78.3,116.4 79.2,116.28 80.1,116.08 81,115.93 81.9,115.21 82.8,114.65 83.7,114.52 84.6,114.66 85.5,112.54 86.4,111.28 87.3,113.21 88.2,114.05 89.1,115.08 90,116.36 90.9,116.3 91.8,115.97 92.7,115.77 93.6,115.79 94.5,115.29 95.4,115.44 96.3,115.88 97.2,115.82 98.1,115.61 99,114.54 99.9,112.28 100.8,114.18 101.7,116.22 102.6,115.89 103.5,115.07 104.4,115.51 105.3,115.45 106.2,113.39 107.1,111.23 108,112.99 108.9,114.86 109.8,112.5 110.7,109.9 111.6,113.79 112.5,112.51 113.4,108.89 114.3,112.62 115.2,111.28 116.1,105.1 117,108.11 117.9,113.52 118.8,113.47 119.7,110.95 120.6,114.39 121.5,114.76 122.4,114.61 123.3,115.72 124.2,115.22 125.1,114.31 126,113.07 126.9,112.34 127.8,112.55 128.7,112.91 129.6,112.55 130.5,111.79 131.4,111.75 132.3,112.84 133.2,114.02 134.1,112.85 135,111.14 135.9,112.59 136.8,110.78 137.7,106.69 138.6,110.26 139.5,108.31 140.4,111.88 141.3,107.55 142.2,106.13 143.1,104.63 144,106.13 144.9,111.03 145.8,113.3 146.7,115.6 147.6,116.01 148.5,115.74 149.4,115.74 150.3,115.56 151.2,113.17 152.1,111.13 153,113.76 153.9,114.99 154.8,115.02 155.7,115.2 156.6,115.15 157.5,115.12 158.4,114.85 159.3,115.24 160.2,114.72 161.1,114.06 162,114.35 162.9,114.07 163.8,114 164.7,113.44 165.6,113.24 166.5,113.7 167.4,113.41 168.3,113.45 169.2,113.68 170.1,114.24 171,114.58 171.9,113.49 172.8,110.92 173.7,112.15 174.6,113.99 175.5,114.1 176.4,114.36 177.3,114.16 178.2,114.1 179.1,113.58 180,113.18 180.9,113.36 181.8,112.94 182.7,110.81 183.6,111.5 184.5,113.27 185.4,113.21 186.3,112.88 187.2,113.18 188.1,112.58 189,112.37 189.9,111.9 190.8,111.42 191.7,111.96 192.6,112.93 193.5,113.11 194.4,112.57 195.3,111.73 196.2,111.05 197.1,110.95 198,111.76 198.9,111.96 199.8,111.97 200.7,112.12 201.6,111.64 202.5,111.52 203.4,111.34 204.3,111.19 205.2,111.63 206.1,111.84 207,111.44 207.9,112.85 208.8,114.57 209.7,114.02 210.6,113.88 211.5,113.98 212.4,114.28 213.3,114.13 214.2,114.39 215.1,113.38 216,113.11 216.9,113.52 217.8,113.44 218.7,112.2 219.6,111.44 220.5,110.45 221.4,110.37 222.3,111.37 223.2,112.39 224.1,112.46 225,112.32 225.9,112.62 226.8,112.86 227.7,112.92 228.6,112.49 229.5,112.05 230.4,112.67 231.3,113.35 232.2,113.31 233.1,113 234,112.08 234.9,111.81 235.8,112.15 236.7,112.48 237.6,112.8 238.5,112.58 239.4,112.16 240.3,112.16 241.2,112.53 242.1,112.6 243,112.39 243.9,112.13 244.8,111.91 245.7,111.54 246.6,111.72 247.5,112.26 248.4,112.83 249.3,112.8 250.2,112.67 251.1,112.6 252,111.79 252.9,111.07 253.8,112.05 254.7,112.73 255.6,112.68 256.5,111.58 257.4,110.34 258.3,110.19 259.2,109.8 260.1,110.27 261,111.55 261.9,112.61 262.8,112.28 263.7,111.6 264.6,111.72 265.5,112.45 266.4,112.88 267.3,112.6 268.2,111.86 269.1,111.01 270,109.56 270.9,112.56 271.8,110.78 272.7,110.72 273.6,108.55 274.5,106.15 275.4,105.77 276.3,109.24 277.2,112.4 278.1,111.91 279,111.72 279.9,107.95 280.8,104.73 281.7,100.71 282.6,101.31 283.5,105.47 284.4,108.79 285.3,109.95 286.2,111.71 287.1,111.24 288,111.92 288.9,112.23 289.8,112.09 290.7,110.55 291.6,109.55 292.5,110.19 293.4,111.52 294.3,112.43 295.2,112.64 296.1,112.9 297,112.54 297.9,112.46 298.8,111.09 299.7,110.13 300.6,110.44 301.5,111.27 302.4,111.95 303.3,112.15 304.2,111.58 305.1,110.09 306,108.98 306.9,109.05 307.8,109.64 308.7,109.87 309.6,109.16 310.5,108.16 311.4,107.31 312.3,107.48 313.2,108.85 314.1,109.71 315,109.45 315.9,108.27 316.8,107.4 317.7,108.88 318.6,110.6 319.5,111.51 320.4,111.59 321.3,111.02 322.2,111.11 323.1,111.89 324,112.32 324.9,112.71 325.8,111.95 326.7,110.71 327.6,110.31 328.5,111.16 329.4,112.4 330.3,112.03 331.2,110.68 332.1,110.12 333,109.37 333.9,108.48 334.8,108.7 335.7,110.03 336.6,111.32" stroke="#9a2aa8" stroke-width="1.5"/>
<polyline points="43.2,114.39 44.1,114.68 45,114.9 45.9,115.05 46.8,114.67 47.7,114.5 48.6,114.87 49.5,115.08 50.4,114.88 51.3,114.1 52.2,113.53 53.1,113.99 54,113.88 54.9,113.53 55.8,113.5 56.7,113.79 57.6,113.94 58.5,113.83 59.4,114.01 60.3,114.16 61.2,113.72 62.1,110.95 63,111.9 63.9,114.4 64.8,114.67 65.7,114.33 66.6,114.48 67.5,114.32 68.4,113.96 69.3,112.05 70.2,112.92 71.1,114.59 72,114.77 72.9,115.04 73.8,114.89 74.7,114.64 75.6,114.92 76.5,114.96 77.4,115.29 78.3,115.78 79.2,115.41 80.1,115.36 81,115.36 81.9,115.48 82.8,115.88 83.7,115.39 84.6,115.1 85.5,112.79 86.4,111.25 87.3,113.93 88.2,115.14 89.1,115.27 90,115.2 90.9,115 91.8,115.14 92.7,115.06 93.6,115.08 94.5,115.13 95.4,115.22 96.3,115.31 97.2,114.7 98.1,114.46 99,113.81 99.9,112.42 100.8,113.39 101.7,114.44 102.6,114.44 103.5,114.33 104.4,114.24 105.3,114.18 106.2,112.92 107.1,111.18 108,112.46 108.9,113.77 109.8,111.73 110.7,109.75 111.6,113.29 112.5,112.53 113.4,109.41 114.3,112.14 115.2,110.73 116.1,105.3 117,107.75 117.9,112.34 118.8,112.56 119.7,110.8 120.6,113.12 121.5,114.11 122.4,114.14 123.3,113.93 124.2,113.38 125.1,113.04 126,112.51 126.9,112.15 127.8,112.39 128.7,112.8 129.6,112.5 130.5,111.82 131.4,111.78 132.3,112.55 133.2,113.36 134.1,112.47 135,111.27 135.9,112.29 136.8,110.47 137.7,106.92 138.6,109.94 139.5,108.38 140.4,111.05 141.3,107.26 142.2,105.93 143.1,104.28 144,105.64 144.9,110.55 145.8,112.18 146.7,114.25 147.6,114.54 148.5,114.29 149.4,114.45 150.3,114.02 151.2,112.57 152.1,111.36 153,112.88 153.9,113.77 154.8,114.19 155.7,114.44 156.6,114.15 157.5,114.25 158.4,114.4 159.3,114.62 160.2,114.7 161.1,114.74 162,114.94 162.9,115.16 163.8,115.48 164.7,115.03 165.6,114.77 166.5,114.49 167.4,114.22 168.3,114.59 169.2,114.66 170.1,114.96 171,114.78 171.9,113.08 172.8,110.99 173.7,112.17 174.6,113.4 175.5,113.37 176.4,113.68 177.3,113.24 178.2,113.14 179.1,112.89 180,113.03 180.9,113.02 181.8,112.48 182.7,110.9 183.6,111.44 184.5,112.8 185.4,113.04 186.3,113.09 187.2,113.35 188.1,112.57 189,111.97 189.9,111.62 190.8,111.96 191.7,112.5 192.6,112.63 193.5,113.12 194.4,113.27 195.3,112.14 196.2,111.26 197.1,111.28 198,111.7 198.9,111.99 199.8,112.46 200.7,112.74 201.6,111.91 202.5,110.86 203.4,110.49 204.3,110.78 205.2,112.37 206.1,113.12 207,112.8 207.9,113.16 208.8,112.95 209.7,112.16 210.6,112.39 211.5,112.59 212.4,113.18 213.3,113.32 214.2,113.46 215.1,112.56 216,112.56 216.9,113.23 217.8,113.77 218.7,112.71 219.6,111.88 220.5,111.53 221.4,111.73 222.3,112.08 223.2,112.52 224.1,113.05 225,113.25 225.9,113.03 226.8,112.99 227.7,112.94 228.6,112.46 229.5,111.94 230.4,112.48 231.3,113.09 232.2,113.01 233.1,112.43 234,111.93 234.9,111.84 235.8,111.44 236.7,111.45 237.6,111.71 238.5,111.59 239.4,111.41 240.3,111.11 241.2,111.45 242.1,112.09 243,111.9 243.9,111.7 244.8,111.01 245.7,110.63 246.6,111.36 247.5,111.36 248.4,111.54 249.3,112.23 250.2,112.47 251.1,112.03 252,111.26 252.9,110.87 253.8,111.95 254.7,112.79 255.6,112.83 256.5,112.6 257.4,112.1 258.3,111.98 259.2,111.55 260.1,111.74 261,112.07 261.9,111.92 262.8,111.52 263.7,111.37 264.6,111.81 265.5,112.27 266.4,111.92 267.3,111.28 268.2,110.56 269.1,109.79 270,109.53 270.9,110.14 271.8,111.09 272.7,111.92 273.6,112.12 274.5,112.28 275.4,112.11 276.3,111.42 277.2,110.74 278.1,110.66 279,111.16 279.9,111.29 280.8,112.74 281.7,113.35 282.6,113.09 283.5,113.05 284.4,112.59 285.3,111.45 286.2,110.99 287.1,112.25 288,113.24 288.9,113.19 289.8,111.9 290.7,110.01 291.6,109.12 292.5,109.71 293.4,110.98 294.3,111.92 295.2,112.13 296.1,112.42 297,112.67 297.9,112.32 298.8,111.34 299.7,110.97 300.6,111.12 301.5,112.08 302.4,112.4 303.3,112.51 304.2,112.11 305.1,110.67 306,109.73 306.9,110.18 307.8,111.66 308.7,111.6 309.6,110.3 310.5,109.32 311.4,108.3 312.3,108.9 313.2,110.39 314.1,110.67 315,110.07 315.9,109.81 316.8,109.86 317.7,109.99 318.6,110.73 319.5,111.82 320.4,111.44 321.3,110.65 322.2,110.45 323.1,111.2 324,111.82 324.9,112.24 325.8,111.53 326.7,110.47 327.6,109.69 328.5,110.34 329.4,112.41 330.3,113.17 331.2,112.87 332.1,112.46 333,111.21 333.9,109.92 334.8,109.91 335.7,110.74 336.6,111.73" stroke="#c030c8" stroke-width="1.3" stroke-dasharray="2.5 1.5"/>
</g>
<rect x="42.9" y="80.2" width="294.7" height="42.8" fill="none" stroke="#262626" stroke-width="1.3"/>
<text x="46.44" y="89.7" font-size="7.6" text-anchor="start" fill="#262626" textLength="21.01" lengthAdjust="spacingAndGlyphs">Run 1</text>
<text x="25.54" y="82.8" font-size="7.6" text-anchor="start" fill="#262626" style="stroke-width:0.2px" textLength="8.41" lengthAdjust="spacingAndGlyphs">10</text>
<text x="34.52" y="79.6" font-size="6.4" text-anchor="start" fill="#262626" style="stroke-width:0.15px" textLength="4.97" lengthAdjust="spacingAndGlyphs">8</text>
<text x="25.54" y="126.9" font-size="7.6" text-anchor="start" fill="#262626" style="stroke-width:0.2px" textLength="8.41" lengthAdjust="spacingAndGlyphs">10</text>
<text x="35.32" y="123.9" font-size="6.4" text-anchor="start" fill="#262626" style="stroke-width:0.15px" textLength="4.57" lengthAdjust="spacingAndGlyphs">2</text>
<path d="M42.9 167.22H337.6M42.9 160.08H337.6M42.9 152.95H337.6M42.9 145.82H337.6M42.9 138.68H337.6" stroke="#bdbdbd" stroke-width="0.7" stroke-dasharray="1 1.6"/>
<clipPath id="cl1"><rect x="42.9" y="131.55" width="294.7" height="42.8"/></clipPath>
<g clip-path="url(#cl1)" fill="none" stroke-linejoin="round">
<polyline points="43.2,162.72 44.1,162.58 45,162.62 45.9,162.51 46.8,162.83 47.7,162.65 48.6,162.36 49.5,162.62 50.4,162.42 51.3,162.74 52.2,162.53 53.1,162.72 54,163.56 54.9,163.99 55.8,164.18 56.7,163.83 57.6,163.5 58.5,163.51 59.4,162.93 60.3,162.44 61.2,162.22 62.1,161.98 63,162.09 63.9,162.43 64.8,162.81 65.7,162.74 66.6,162.45 67.5,161.9 68.4,161.64 69.3,162.93 70.2,162.66 71.1,162.29 72,162.13 72.9,162.43 73.8,162.78 74.7,163.21 75.6,163.23 76.5,163.67 77.4,163.85 78.3,164.16 79.2,163.52 80.1,162.69 81,162.82 81.9,163.4 82.8,163.7 83.7,163.85 84.6,164.22 85.5,163.22 86.4,162.48 87.3,163.73 88.2,163.45 89.1,163.1 90,162.91 90.9,163.19 91.8,163.36 92.7,163.33 93.6,163.2 94.5,162.86 95.4,162.82 96.3,163.65 97.2,163.68 98.1,163.59 99,164.06 99.9,163.62 100.8,163.74 101.7,163.95 102.6,164.23 103.5,164.41 104.4,164.18 105.3,163.67 106.2,162.91 107.1,162.62 108,162.77 108.9,162.56 109.8,161.99 110.7,161.27 111.6,162.97 112.5,162.41 113.4,160.5 114.3,161.97 115.2,160.09 116.1,156.5 117,158.2 117.9,161.48 118.8,162.49 119.7,162.14 120.6,162.81 121.5,164.74 122.4,164.98 123.3,163.04 124.2,163.11 125.1,163.1 126,163.49 126.9,163.56 127.8,163.5 128.7,163.32 129.6,163.28 130.5,163.19 131.4,163.18 132.3,163.09 133.2,163.22 134.1,163.03 135,162.6 135.9,162.69 136.8,160.8 137.7,158.16 138.6,160.39 139.5,159.59 140.4,161.46 141.3,158.14 142.2,156.95 143.1,155.44 144,156.48 144.9,161.63 145.8,161.98 146.7,161.89 147.6,162.22 148.5,162.84 149.4,162.77 150.3,162.7 151.2,163.01 152.1,162.56 153,163.03 153.9,163.61 154.8,163.53 155.7,162.97 156.6,162.63 157.5,162.67 158.4,162.49 159.3,162.22 160.2,162.96 161.1,163.15 162,162.75 162.9,162.62 163.8,162.46 164.7,162.91 165.6,162.75 166.5,162.34 167.4,162.03 168.3,162.44 169.2,162.72 170.1,161.9 171,162.11 171.9,162.42 172.8,162.02 173.7,162.38 174.6,162.58 175.5,162.68 176.4,162.64 177.3,162.6 178.2,162.65 179.1,162.61 180,162.74 180.9,162.88 181.8,163.13 182.7,162.22 183.6,162.42 184.5,163.02 185.4,163.3 186.3,163.3 187.2,162.67 188.1,162.74 189,162.35 189.9,162.05 190.8,162.25 191.7,162.95 192.6,163.21 193.5,162.88 194.4,162.37 195.3,162.11 196.2,161.61 197.1,162.2 198,162.65 198.9,162.39 199.8,161.52 200.7,160.75 201.6,160.91 202.5,161.61 203.4,162 204.3,162.49 205.2,162.03 206.1,161.5 207,160.88 207.9,160.86 208.8,161.82 209.7,162.04 210.6,162.09 211.5,161.9 212.4,161.7 213.3,161.88 214.2,161.13 215.1,161.61 216,162.14 216.9,162.24 217.8,162.06 218.7,162.37 219.6,162.11 220.5,161.52 221.4,161.38 222.3,162.58 223.2,163.26 224.1,163.08 225,162.49 225.9,161.67 226.8,160.86 227.7,160.58 228.6,161.35 229.5,161.88 230.4,162.16 231.3,162.29 232.2,162.79 233.1,163.09 234,162.02 234.9,161.83 235.8,161.95 236.7,162.11 237.6,162.45 238.5,162.42 239.4,162.2 240.3,162.04 241.2,161.89 242.1,162.35 243,161.9 243.9,161.46 244.8,160.42 245.7,155.47 246.6,151.87 247.5,151.61 248.4,150.31 249.3,152.52 250.2,153.98 251.1,155.71 252,151.66 252.9,147.75 253.8,144.64 254.7,143.81 255.6,143.59 256.5,144.2 257.4,144.57 258.3,147.06 259.2,150.74 260.1,155.15 261,158.26 261.9,160.96 262.8,163.72 263.7,165.64 264.6,164.98 265.5,165.68 266.4,165.51 267.3,165.47 268.2,159.5 269.1,140.13 270,134.91 270.9,135.85 271.8,134.77 272.7,134.05 273.6,134.72 274.5,135.25 275.4,134.55 276.3,135.27 277.2,135.26 278.1,134.41 279,133.84 279.9,134.27 280.8,135.11 281.7,134.4 282.6,134.15 283.5,134.2 284.4,134.67 285.3,134.65 286.2,134.96 287.1,134.99 288,134.31 288.9,134.58 289.8,134.23 290.7,134.64 291.6,134.21 292.5,134.19 293.4,135.34 294.3,134.6 295.2,134.81 296.1,135.47 297,134.85 297.9,134.53 298.8,134.58 299.7,134.29 300.6,134.95 301.5,134.48 302.4,135.25 303.3,134.54 304.2,134.57 305.1,134.57 306,134.97 306.9,134.85 307.8,135.29 308.7,134.65 309.6,134.97 310.5,135.58 311.4,134.85 312.3,135.53 313.2,137.06 314.1,137.82 315,138.08 315.9,138.25 316.8,138.89 317.7,137.08 318.6,137.86 319.5,138.54 320.4,140.64 321.3,140.88 322.2,141.33 323.1,141.62 324,142.68 324.9,143.21 325.8,144.13 326.7,144.47 327.6,145.69 328.5,146.75 329.4,146.77 330.3,147.37 331.2,147.71 332.1,147.51 333,147.53 333.9,147.59 334.8,148.2 335.7,147.39 336.6,147.88" stroke="#1a80c8" stroke-width="1.9" stroke-dasharray="7 1 1.6 1"/>
<polyline points="43.2,164.38 44.1,164.62 45,164.29 45.9,164.64 46.8,165.06 47.7,164.48 48.6,164.28 49.5,164.46 50.4,163.82 51.3,164.11 52.2,163.98 53.1,163.58 54,163.63 54.9,164.05 55.8,164.31 56.7,164.12 57.6,163.96 58.5,164.3 59.4,164.06 60.3,163.63 61.2,162.75 62.1,162.22 63,162.47 63.9,162.96 64.8,163.31 65.7,163.32 66.6,163.03 67.5,163.3 68.4,163.24 69.3,163.12 70.2,163.5 71.1,164.54 72,164.78 72.9,165.29 73.8,165.39 74.7,165.13 75.6,164.96 76.5,165.49 77.4,165.91 78.3,166.01 79.2,165.59 80.1,165.15 81,164.71 81.9,164.59 82.8,164.14 83.7,163.79 84.6,163.99 85.5,163.21 86.4,162.58 87.3,163.73 88.2,163.86 89.1,163.3 90,163.74 90.9,164.4 91.8,164.34 92.7,164.66 93.6,164.47 94.5,164.3 95.4,164.6 96.3,165.04 97.2,165.04 98.1,164.95 99,164.62 99.9,163.43 100.8,164.25 101.7,164.73 102.6,164.83 103.5,165.15 104.4,165.17 105.3,164.89 106.2,163.43 107.1,162.46 108,162.96 108.9,163.71 109.8,162.73 110.7,161.19 111.6,163.06 112.5,162.46 113.4,160.63 114.3,162.42 115.2,160.75 116.1,156.53 117,158.44 117.9,161.91 118.8,162.56 119.7,161.97 120.6,163.3 121.5,164.92 122.4,165.16 123.3,163.83 124.2,163.76 125.1,163.55 126,163.44 126.9,163.41 127.8,163.35 128.7,163.26 129.6,163.12 130.5,162.92 131.4,162.91 132.3,163.29 133.2,164.07 134.1,163.31 135,162.55 135.9,162.8 136.8,160.99 137.7,158.17 138.6,160.53 139.5,159.66 140.4,161.42 141.3,158.18 142.2,157.07 143.1,155.58 144,156.68 144.9,161.59 145.8,162.22 146.7,162.81 147.6,163.23 148.5,163.43 149.4,163.35 150.3,163.31 151.2,162.94 152.1,162.49 153,163.16 153.9,163.84 154.8,164.48 155.7,164.45 156.6,164.32 157.5,164.42 158.4,164.62 159.3,164.79 160.2,164.9 161.1,164.73 162,164.51 162.9,164.56 163.8,164.5 164.7,164.42 165.6,164.09 166.5,164.11 167.4,164.18 168.3,164.05 169.2,164.39 170.1,164.24 171,164.27 171.9,163.74 172.8,162.16 173.7,162.93 174.6,163.79 175.5,164 176.4,163.84 177.3,163.78 178.2,162.7 179.1,161.71 180,161.6 180.9,162.23 181.8,162.86 182.7,162.2 183.6,162.51 184.5,164.02 185.4,164.28 186.3,164.47 187.2,164.4 188.1,163.93 189,162.87 189.9,161.9 190.8,161.48 191.7,162.15 192.6,162.21 193.5,162.12 194.4,161.55 195.3,161.37 196.2,161.42 197.1,161.99 198,162.25 198.9,161.99 199.8,161.19 200.7,160.51 201.6,160.95 202.5,162.05 203.4,162.32 204.3,162.93 205.2,162.67 206.1,162.13 207,161.98 207.9,162.24 208.8,162.76 209.7,163.19 210.6,163.84 211.5,164.05 212.4,163.54 213.3,163.15 214.2,162.85 215.1,162.17 216,161.74 216.9,162.48 217.8,162.41 218.7,162.68 219.6,162.28 220.5,161.1 221.4,160.99 222.3,162.1 223.2,162.29 224.1,162.3 225,162.31 225.9,161.25 226.8,160.59 227.7,161.12 228.6,162.38 229.5,163.27 230.4,163.46 231.3,163.46 232.2,163.4 233.1,163.14 234,161.96 234.9,161.64 235.8,162.09 236.7,162.51 237.6,162.58 238.5,162.17 239.4,161.63 240.3,161.89 241.2,162.08 242.1,162.28 243,161.61 243.9,161.55 244.8,161.58 245.7,156.85 246.6,153.32 247.5,152.4 248.4,152.73 249.3,153.54 250.2,154.71 251.1,155.84 252,152.18 252.9,148.37 253.8,144.97 254.7,145.04 255.6,143.88 256.5,144.44 257.4,146.06 258.3,148.36 259.2,151.72 260.1,155.56 261,159.93 261.9,161.57 262.8,164.31 263.7,166.12 264.6,166.35 265.5,166.14 266.4,165.97 267.3,166.23 268.2,160.09 269.1,143.04 270,140.35 270.9,140.19 271.8,140.26 272.7,140.29 273.6,140.46 274.5,140.19 275.4,140.48 276.3,140.55 277.2,140.23 278.1,139.97 279,140.54 279.9,140.35 280.8,139.64 281.7,139.98 282.6,140.32 283.5,139.87 284.4,140.07 285.3,139.77 286.2,140.4 287.1,140.36 288,140.34 288.9,140.73 289.8,140.19 290.7,140.21 291.6,140.9 292.5,139.91 293.4,140.52 294.3,139.91 295.2,140.38 296.1,140.94 297,140.39 297.9,140.08 298.8,141.03 299.7,140.16 300.6,140.26 301.5,140.41 302.4,139.92 303.3,140.66 304.2,140.82 305.1,140.56 306,140.43 306.9,140.29 307.8,140.61 308.7,139.4 309.6,140.31 310.5,140.42 311.4,139.75 312.3,140.66 313.2,141.03 314.1,141.56 315,141.83 315.9,142.2 316.8,141.59 317.7,140.46 318.6,140.75 319.5,141.1 320.4,141.52 321.3,141.83 322.2,142.81 323.1,143.43 324,144.01 324.9,144.84 325.8,145.44 326.7,145.57 327.6,146.25 328.5,147.03 329.4,147.8 330.3,147.77 331.2,148.29 332.1,148.67 333,148.22 333.9,148.68 334.8,148.31 335.7,148.09 336.6,148.13" stroke="#f0b020" stroke-width="1.5" stroke-dasharray="5 1.5 1.5 1.5"/>
<polyline points="43.2,166.85 44.1,166.69 45,167.01 45.9,167.45 46.8,167.72 47.7,167.47 48.6,166.74 49.5,166.37 50.4,166.08 51.3,166.06 52.2,165.66 53.1,165.95 54,166.19 54.9,166.23 55.8,166.63 56.7,166.89 57.6,166.67 58.5,166.57 59.4,166.58 60.3,166.82 61.2,165.53 62.1,162.48 63,163.63 63.9,167.05 64.8,168.03 65.7,168.28 66.6,167.88 67.5,167.58 68.4,166.65 69.3,163.34 70.2,164.58 71.1,167.47 72,167.31 72.9,166.92 73.8,166.83 74.7,166.78 75.6,166.62 76.5,166.98 77.4,167.17 78.3,167.37 79.2,167.06 80.1,166.82 81,166.3 81.9,166.27 82.8,166.62 83.7,167.01 84.6,167.17 85.5,164.57 86.4,162.71 87.3,166.18 88.2,167.42 89.1,167.33 90,167.02 90.9,166.85 91.8,166.91 92.7,167.26 93.6,167.44 94.5,167.43 95.4,167.49 96.3,167.66 97.2,167.72 98.1,167.33 99,165.84 99.9,163.55 100.8,165.35 101.7,166.95 102.6,166.61 103.5,166.79 104.4,166.71 105.3,166.49 106.2,164.68 107.1,162.42 108,163.85 108.9,165.19 109.8,163.39 110.7,161.34 111.6,165.34 112.5,164.09 113.4,160.58 114.3,164.61 115.2,162.79 116.1,156.67 117,159.55 117.9,165.12 118.8,165.05 119.7,162.28 120.6,165.85 121.5,165.78 122.4,165.6 123.3,166.33 124.2,166.1 125.1,164.93 126,163.96 126.9,163.47 127.8,163.7 128.7,164 129.6,163.84 130.5,163.18 131.4,163.13 132.3,163.95 133.2,164.74 134.1,163.87 135,162.53 135.9,163.3 136.8,161.62 137.7,158.33 138.6,161.33 139.5,159.72 140.4,163.22 141.3,158.87 142.2,157.41 143.1,155.91 144,157.36 144.9,162.12 145.8,164.38 146.7,167.27 147.6,167.55 148.5,167.58 149.4,167.42 150.3,166.76 151.2,164.81 152.1,162.56 153,165.84 153.9,167.02 154.8,166.67 155.7,166.65 156.6,166.63 157.5,166.58 158.4,166.64 159.3,166.64 160.2,166.62 161.1,166.53 162,166.49 162.9,166.65 163.8,166.68 164.7,166.95 165.6,166.44 166.5,166.1 167.4,165.8 168.3,165.86 169.2,166.32 170.1,166.11 171,165.79 171.9,164.73 172.8,162.12 173.7,163.48 174.6,165.11 175.5,165.94 176.4,166.25 177.3,166.27 178.2,166.05 179.1,166.06 180,166.31 180.9,165.15 181.8,163.96 182.7,162.41 183.6,162.8 184.5,163.87 185.4,164.46 186.3,165.04 187.2,165.3 188.1,164.73 189,163.73 189.9,163.62 190.8,163.8 191.7,164.59 192.6,165.09 193.5,164.9 194.4,164.43 195.3,164.49 196.2,164.52 197.1,164.63 198,164.38 198.9,164.23 199.8,163.4 200.7,162.74 201.6,162.66 202.5,163.54 203.4,164.12 204.3,164.29 205.2,163.79 206.1,163.48 207,163.59 207.9,164.17 208.8,165.03 209.7,164.95 210.6,164.87 211.5,163.88 212.4,162.93 213.3,162.82 214.2,162.07 215.1,162.7 216,163.36 216.9,163.76 217.8,163.62 218.7,163.91 219.6,163.48 220.5,162.48 221.4,162.83 222.3,164.4 223.2,164.91 224.1,164.78 225,164.19 225.9,163.15 226.8,162.6 227.7,163.07 228.6,164.27 229.5,164.13 230.4,163.84 231.3,164.23 232.2,163.96 233.1,163.37 234,162.73 234.9,162.86 235.8,163.25 236.7,164.2 237.6,164.52 238.5,164.11 239.4,163.38 240.3,163.66 241.2,163.89 242.1,164.05 243,163.52 243.9,163.05 244.8,163 245.7,163.36 246.6,163.53 247.5,163.48 248.4,162.73 249.3,162.23 250.2,161.67 251.1,162.27 252,162.92 252.9,163.36 253.8,163.19 254.7,162.28 255.6,161.87 256.5,161.4 257.4,161.48 258.3,162.25 259.2,162.65 260.1,162.98 261,163.35 261.9,163.97 262.8,165.12 263.7,166.17 264.6,166.62 265.5,165.56 266.4,164.26 267.3,164.48 268.2,165.44 269.1,166.76 270,167.59 270.9,166.1 271.8,164.97 272.7,164.84 273.6,163.86 274.5,161.65 275.4,161.9 276.3,164.82 277.2,165.48 278.1,165.45 279,165.87 279.9,163.51 280.8,161.01 281.7,158.81 282.6,160.07 283.5,162.38 284.4,164.34 285.3,165.26 286.2,166.33 287.1,166.2 288,166.96 288.9,168.22 289.8,168.31 290.7,167.93 291.6,166.39 292.5,166.62 293.4,168.06 294.3,168.65 295.2,169.45 296.1,170.24 297,169.94 297.9,168.89 298.8,168.27 299.7,167.88 300.6,168.23 301.5,168.92 302.4,169.28 303.3,169.76 304.2,169.29 305.1,169.26 306,169.12 306.9,168.19 307.8,167.07 308.7,167.54 309.6,168.93 310.5,169.89 311.4,169.76 312.3,169.18 313.2,168.99 314.1,169.29 315,168.14 315.9,165.76 316.8,167.02 317.7,169.27 318.6,169.77 319.5,169.22 320.4,168.46 321.3,167.68 322.2,167.82 323.1,168.02 324,168.31 324.9,168.76 325.8,169.14 326.7,168.94 327.6,168 328.5,167.08 329.4,167.67 330.3,168.58 331.2,169.14 332.1,169.3 333,169.21 333.9,168.82 334.8,166.9 335.7,165.78 336.6,165.7" stroke="#f2521c" stroke-width="1.6"/>
<polyline points="43.2,167.02 44.1,167.33 45,167.58 45.9,167.94 46.8,167.8 47.7,167.15 48.6,166.71 49.5,166.63 50.4,166.33 51.3,166.4 52.2,166.27 53.1,166.36 54,166.38 54.9,166.72 55.8,166.91 56.7,167.05 57.6,166.92 58.5,166.85 59.4,166.95 60.3,166.93 61.2,165.42 62.1,162.48 63,163.58 63.9,166.86 64.8,167.65 65.7,167.26 66.6,166.89 67.5,166.87 68.4,166.02 69.3,163.62 70.2,164.72 71.1,166.7 72,166.23 72.9,166.35 73.8,166.15 74.7,166.22 75.6,166.22 76.5,166.16 77.4,166.03 78.3,166.47 79.2,165.59 80.1,165.09 81,164.95 81.9,164.52 82.8,164.77 83.7,165.1 84.6,166.29 85.5,164.69 86.4,162.84 87.3,166.31 88.2,167.33 89.1,167.27 90,167.34 90.9,167.28 91.8,166.83 92.7,166.45 93.6,166.55 94.5,166.85 95.4,166.58 96.3,166.39 97.2,166.48 98.1,166.2 99,165.77 99.9,163.62 100.8,165.61 101.7,167.28 102.6,167.54 103.5,167.2 104.4,166.82 105.3,166.6 106.2,164.63 107.1,162.55 108,164.01 108.9,165.41 109.8,163.31 110.7,161.23 111.6,165.33 112.5,164.37 113.4,160.6 114.3,164.47 115.2,162.71 116.1,156.54 117,159.32 117.9,164.63 118.8,164.95 119.7,162.25 120.6,165.5 121.5,165.67 122.4,165.68 123.3,166.57 124.2,166.26 125.1,165.26 126,164.19 126.9,163.47 127.8,163.71 128.7,164.07 129.6,163.76 130.5,163.13 131.4,163.11 132.3,163.93 133.2,164.91 134.1,164.2 135,162.35 135.9,164.04 136.8,162.5 137.7,158.32 138.6,161.97 139.5,159.47 140.4,163.24 141.3,159.14 142.2,157.55 143.1,156 144,157.41 144.9,162.15 145.8,163.9 146.7,166.28 147.6,166.95 148.5,166.49 149.4,166.01 150.3,165.81 151.2,164.24 152.1,162.66 153,164.9 153.9,165.94 154.8,165.97 155.7,166.05 156.6,165.81 157.5,165.74 158.4,166.38 159.3,167.58 160.2,168.19 161.1,168.06 162,167.76 162.9,167.3 163.8,167.13 164.7,167.16 165.6,167.15 166.5,167.05 167.4,166.71 168.3,166.53 169.2,166.62 170.1,166.39 171,165.99 171.9,164.44 172.8,162.09 173.7,163.24 174.6,164.83 175.5,165.07 176.4,164.95 177.3,165 178.2,164.96 179.1,164.74 180,164.75 180.9,164.98 181.8,164.99 182.7,162.47 183.6,163.11 184.5,165.06 185.4,165.46 186.3,165.09 187.2,164.81 188.1,164.51 189,164.02 189.9,163.36 190.8,163.35 191.7,164.25 192.6,164.31 193.5,164.22 194.4,163.63 195.3,163.6 196.2,163.81 197.1,164.23 198,163.81 198.9,163.88 199.8,163.41 200.7,162.23 201.6,162.29 202.5,163.39 203.4,164.46 204.3,164.87 205.2,164.23 206.1,163.87 207,163.27 207.9,163.05 208.8,163.61 209.7,163.64 210.6,163.67 211.5,163.51 212.4,163.55 213.3,163.69 214.2,163.29 215.1,163.34 216,163.1 216.9,163.88 217.8,163.78 218.7,163.25 219.6,162.22 220.5,161.56 221.4,161.64 222.3,162.73 223.2,163.68 224.1,163.43 225,162.82 225.9,161.63 226.8,161.48 227.7,162.74 228.6,163.77 229.5,164.34 230.4,164.5 231.3,164.47 232.2,164.47 233.1,163.66 234,162.44 234.9,162.27 235.8,163.01 236.7,163.75 237.6,163.54 238.5,163.37 239.4,163.01 240.3,163.28 241.2,163.26 242.1,163.13 243,162.43 243.9,161.63 244.8,161.54 245.7,162.28 246.6,163.18 247.5,164.08 248.4,163.46 249.3,162.98 250.2,163.11 251.1,164 252,164.1 252.9,164.21 253.8,164.17 254.7,163.59 255.6,162.38 256.5,161.55 257.4,162.18 258.3,162.92 259.2,162.69 260.1,162.35 261,162.15 261.9,162.8 262.8,163.95 263.7,164.23 264.6,164.42 265.5,164.58 266.4,164.27 267.3,164.21 268.2,165.16 269.1,166.26 270,166.39 270.9,163.2 271.8,161.98 272.7,161.95 273.6,159.6 274.5,155.2 275.4,155.35 276.3,160.19 277.2,163.15 278.1,163.11 279,162.97 279.9,159.31 280.8,155.05 281.7,150.57 282.6,151.59 283.5,155.67 284.4,160.82 285.3,162.2 286.2,163.65 287.1,165.71 288,165.38 288.9,165.8 289.8,166.28 290.7,166.03 291.6,164.58 292.5,164.68 293.4,165.78 294.3,166.28 295.2,167.17 296.1,168.05 297,167.72 297.9,167.12 298.8,165.89 299.7,165.21 300.6,166.11 301.5,166.4 302.4,166.03 303.3,166.46 304.2,166.37 305.1,166.15 306,165.64 306.9,164.61 307.8,163.7 308.7,164.17 309.6,165.34 310.5,166.49 311.4,167.2 312.3,167.19 313.2,166.99 314.1,166.8 315,165.76 315.9,163.99 316.8,164.92 317.7,165.66 318.6,165.22 319.5,164.9 320.4,163.99 321.3,162.94 322.2,162.82 323.1,164.18 324,165.92 324.9,166.15 325.8,166.36 326.7,166.25 327.6,165.05 328.5,164.27 329.4,164.96 330.3,165.6 331.2,166.06 332.1,166.82 333,166.61 333.9,166.16 334.8,164.93 335.7,164.05 336.6,163.79" stroke="#9a2aa8" stroke-width="1.5"/>
<polyline points="43.2,165.88 44.1,165.77 45,166.12 45.9,166.21 46.8,166.02 47.7,166.29 48.6,165.84 49.5,165.48 50.4,165.64 51.3,165.72 52.2,165.35 53.1,165.2 54,165.06 54.9,165.74 55.8,166.43 56.7,166.18 57.6,165.62 58.5,164.94 59.4,164.64 60.3,164.89 61.2,163.86 62.1,162.24 63,162.86 63.9,164.88 64.8,165.46 65.7,165.39 66.6,164.93 67.5,165.69 68.4,166.21 69.3,163.54 70.2,164.8 71.1,167.39 72,167.48 72.9,167.58 73.8,167.69 74.7,167.92 75.6,167.26 76.5,166.47 77.4,166.4 78.3,166.74 79.2,166.31 80.1,166.27 81,165.9 81.9,165.76 82.8,166.19 83.7,166.68 84.6,166.27 85.5,164.02 86.4,162.67 87.3,164.88 88.2,165.8 89.1,165.96 90,165.56 90.9,165.64 91.8,165.67 92.7,165.54 93.6,165.67 94.5,165.67 95.4,165.6 96.3,165.78 97.2,165.92 98.1,165.72 99,164.92 99.9,163.43 100.8,164.57 101.7,165.5 102.6,165.49 103.5,165.72 104.4,165.78 105.3,165.89 106.2,164.46 107.1,162.48 108,163.81 108.9,164.75 109.8,163.07 110.7,161.18 111.6,165.69 112.5,164.42 113.4,160.47 114.3,164.11 115.2,162.27 116.1,156.44 117,159.29 117.9,164.19 118.8,164.07 119.7,162.07 120.6,164.63 121.5,165.44 122.4,165.56 123.3,165.69 124.2,165.28 125.1,164.56 126,164.05 126.9,163.6 127.8,163.83 128.7,164.22 129.6,163.82 130.5,163.17 131.4,163.14 132.3,163.89 133.2,164.69 134.1,163.66 135,162.4 135.9,163.32 136.8,161.65 137.7,158.39 138.6,161.35 139.5,159.64 140.4,162.61 141.3,158.8 142.2,157.36 143.1,155.61 144,156.96 144.9,161.79 145.8,163.39 146.7,164.81 147.6,165.58 148.5,166.12 149.4,165.49 150.3,165.55 151.2,164.33 152.1,162.52 153,165.04 153.9,166.13 154.8,166.52 155.7,166.66 156.6,166.28 157.5,166.18 158.4,166.3 159.3,166.43 160.2,166.62 161.1,166.49 162,166.56 162.9,166.13 163.8,166.04 164.7,166.46 165.6,166.07 166.5,165.15 167.4,164.51 168.3,164.77 169.2,164.72 170.1,164.27 171,164.34 171.9,163.91 172.8,162.11 173.7,163.32 174.6,164.89 175.5,165.09 176.4,164.91 177.3,164.9 178.2,165.5 179.1,165.69 180,165.87 180.9,166.33 181.8,165.41 182.7,162.3 183.6,163.21 184.5,164.98 185.4,164.92 186.3,164.9 187.2,164.66 188.1,164.89 189,164.05 189.9,163.13 190.8,163.4 191.7,164.33 192.6,163.9 193.5,163.33 194.4,162.77 195.3,162.44 196.2,162.34 197.1,163.19 198,163.27 198.9,162.72 199.8,161.58 200.7,160.52 201.6,161.5 202.5,163.1 203.4,163.59 204.3,163.75 205.2,163.19 206.1,163 207,162.77 207.9,163.01 208.8,163.16 209.7,162.88 210.6,163.36 211.5,163.15 212.4,162.81 213.3,162.68 214.2,162.31 215.1,162.76 216,162.87 216.9,163.6 217.8,164.22 218.7,164.29 219.6,163.2 220.5,162.44 221.4,162.59 222.3,163.7 223.2,164.17 224.1,163.76 225,163.27 225.9,163.1 226.8,162.35 227.7,162.27 228.6,163.58 229.5,164.63 230.4,164.79 231.3,164.35 232.2,164.17 233.1,163.63 234,162.51 234.9,162.68 235.8,163.54 236.7,163.91 237.6,163.93 238.5,163.88 239.4,163.36 240.3,163.84 241.2,164.17 242.1,163.24 243,161.66 243.9,161.32 244.8,161.73 245.7,162.27 246.6,162.29 247.5,162.95 248.4,162.45 249.3,162.31 250.2,163 251.1,163.87 252,164.15 252.9,164.02 253.8,163.27 254.7,162.44 255.6,162.18 256.5,161.99 257.4,162.2 258.3,162.38 259.2,162.23 260.1,161.92 261,161.54 261.9,162.25 262.8,163.19 263.7,163.52 264.6,164.43 265.5,164.89 266.4,164.32 267.3,164.44 268.2,165.5 269.1,166.43 270,166.5 270.9,166.84 271.8,166.91 272.7,165.96 273.6,163.83 274.5,162.96 275.4,163.7 276.3,165.43 277.2,165.86 278.1,165.68 279,165.37 279.9,164.9 280.8,164.25 281.7,163.37 282.6,163.23 283.5,163.87 284.4,164.38 285.3,164.66 286.2,164.39 287.1,163.73 288,163.74 288.9,165.01 289.8,165.83 290.7,165.87 291.6,164.66 292.5,164.3 293.4,165.18 294.3,166.14 295.2,166.69 296.1,166.39 297,165.76 297.9,164.99 298.8,164.12 299.7,163.82 300.6,164.17 301.5,165.6 302.4,166.42 303.3,166.99 304.2,167 305.1,166.65 306,166.5 306.9,165.3 307.8,164.29 308.7,164.78 309.6,165.69 310.5,167.17 311.4,167.59 312.3,167.2 313.2,166.82 314.1,166.35 315,165.31 315.9,163.74 316.8,164.73 317.7,166.24 318.6,166.75 319.5,166.58 320.4,166.01 321.3,164.92 322.2,164.4 323.1,164.62 324,165.1 324.9,165.4 325.8,165.89 326.7,165.81 327.6,164.82 328.5,163.87 329.4,164.61 330.3,165.71 331.2,166.08 332.1,166.2 333,165.97 333.9,165.45 334.8,164.02 335.7,163.33 336.6,163.51" stroke="#c030c8" stroke-width="1.3" stroke-dasharray="2.5 1.5"/>
</g>
<rect x="42.9" y="131.55" width="294.7" height="42.8" fill="none" stroke="#262626" stroke-width="1.3"/>
<text x="46.44" y="141.05" font-size="7.6" text-anchor="start" fill="#262626" textLength="23.21" lengthAdjust="spacingAndGlyphs">Run 2</text>
<text x="25.54" y="134.15" font-size="7.6" text-anchor="start" fill="#262626" style="stroke-width:0.2px" textLength="8.41" lengthAdjust="spacingAndGlyphs">10</text>
<text x="34.52" y="130.95" font-size="6.4" text-anchor="start" fill="#262626" style="stroke-width:0.15px" textLength="4.97" lengthAdjust="spacingAndGlyphs">8</text>
<text x="25.54" y="178.25" font-size="7.6" text-anchor="start" fill="#262626" style="stroke-width:0.2px" textLength="8.41" lengthAdjust="spacingAndGlyphs">10</text>
<text x="35.32" y="175.25" font-size="6.4" text-anchor="start" fill="#262626" style="stroke-width:0.15px" textLength="4.57" lengthAdjust="spacingAndGlyphs">2</text>
<path d="M42.9 218.57H337.6M42.9 211.43H337.6M42.9 204.3H337.6M42.9 197.17H337.6M42.9 190.03H337.6" stroke="#bdbdbd" stroke-width="0.7" stroke-dasharray="1 1.6"/>
<clipPath id="cl2"><rect x="42.9" y="182.9" width="294.7" height="42.8"/></clipPath>
<g clip-path="url(#cl2)" fill="none" stroke-linejoin="round">
<polyline points="43.2,214.56 44.1,214.6 45,214.54 45.9,214.73 46.8,214 47.7,214.37 48.6,214.57 49.5,214.57 50.4,214.84 51.3,214.84 52.2,214.84 53.1,214.79 54,214.51 54.9,214.64 55.8,214.4 56.7,214.15 57.6,214.53 58.5,214.61 59.4,214.06 60.3,214.42 61.2,214.89 62.1,213.53 63,213.9 63.9,214.88 64.8,215.23 65.7,214.16 66.6,213.97 67.5,214.24 68.4,214.79 69.3,214.37 70.2,214.4 71.1,214.56 72,214.58 72.9,214.22 73.8,214.04 74.7,213.35 75.6,213.53 76.5,213.92 77.4,214.19 78.3,213.85 79.2,214.09 80.1,214.42 81,214.6 81.9,214.22 82.8,214.55 83.7,214.67 84.6,214.85 85.5,214.32 86.4,213.75 87.3,214.01 88.2,213.89 89.1,213.83 90,213.65 90.9,213.34 91.8,213.52 92.7,214.03 93.6,214.26 94.5,214.74 95.4,214.82 96.3,214.36 97.2,214.52 98.1,214.63 99,214.52 99.9,215.01 100.8,214.61 101.7,214.29 102.6,213.93 103.5,213.53 104.4,213.58 105.3,213.87 106.2,213.85 107.1,213.84 108,214.12 108.9,214.29 109.8,213.22 110.7,212.43 111.6,214.18 112.5,213.78 113.4,212.04 114.3,213.68 115.2,211.89 116.1,207.79 117,209.71 117.9,213.4 118.8,214.05 119.7,213.36 120.6,214.08 121.5,215.98 122.4,216.4 123.3,214.92 124.2,214.48 125.1,214.65 126,214.63 126.9,214.63 127.8,214.64 128.7,214.69 129.6,214.51 130.5,214.4 131.4,214.39 132.3,214.41 133.2,214.3 134.1,214.22 135,214.01 135.9,213.58 136.8,211.8 137.7,209.63 138.6,211.6 139.5,210.84 140.4,212.45 141.3,209.38 142.2,208.3 143.1,207.07 144,208.25 144.9,213.12 145.8,214.01 146.7,214.83 147.6,214.99 148.5,214.9 149.4,214.63 150.3,214.75 151.2,214.3 152.1,213.83 153,214.17 153.9,213.63 154.8,213.48 155.7,213.31 156.6,213.23 157.5,213.65 158.4,213.36 159.3,213.24 160.2,213.65 161.1,213.38 162,213.47 162.9,214.57 163.8,215.14 164.7,215.2 165.6,216.05 166.5,215.95 167.4,215.53 168.3,215.31 169.2,215.25 170.1,214.87 171,214.33 171.9,214.06 172.8,213.46 173.7,213.75 174.6,213.94 175.5,214 176.4,214.43 177.3,214.22 178.2,214.57 179.1,214.58 180,214.69 180.9,214.81 181.8,215.03 182.7,213.69 183.6,214.01 184.5,214.75 185.4,214.52 186.3,214.25 187.2,214.33 188.1,214.38 189,214.13 189.9,213.42 190.8,213.64 191.7,214.55 192.6,215.05 193.5,214.97 194.4,214.71 195.3,214.35 196.2,214.12 197.1,213.65 198,213.96 198.9,214.03 199.8,213.74 200.7,213.93 201.6,214.65 202.5,214.84 203.4,214.06 204.3,213.92 205.2,214.44 206.1,215.01 207,214.97 207.9,215.15 208.8,214.32 209.7,213.4 210.6,213.1 211.5,213.55 212.4,214.38 213.3,215.15 214.2,215.3 215.1,215.39 216,214.76 216.9,214.34 217.8,214.87 218.7,215.03 219.6,215.1 220.5,214.87 221.4,214.99 222.3,215.2 223.2,215.06 224.1,215.07 225,214.81 225.9,214.88 226.8,214.78 227.7,214.74 228.6,214.74 229.5,214.62 230.4,214.28 231.3,213.91 232.2,214.13 233.1,214.28 234,214.8 234.9,214.75 235.8,214.72 236.7,214.17 237.6,213.26 238.5,213.33 239.4,213.72 240.3,213.52 241.2,213.99 242.1,214.14 243,213.95 243.9,213.3 244.8,212.84 245.7,212.81 246.6,213.23 247.5,213.93 248.4,214.27 249.3,214.5 250.2,214.46 251.1,214.41 252,214.07 252.9,213.54 253.8,213.58 254.7,214.1 255.6,215.02 256.5,215.03 257.4,213.97 258.3,212.75 259.2,212.81 260.1,213.82 261,214.03 261.9,213.95 262.8,213.41 263.7,212.42 264.6,212.86 265.5,214.38 266.4,214.91 267.3,213.69 268.2,209.53 269.1,205.32 270,202.3 270.9,200.84 271.8,192.25 272.7,186.64 273.6,186.3 274.5,186.03 275.4,185.51 276.3,186.61 277.2,185.99 278.1,186.78 279,186.07 279.9,185.8 280.8,185.47 281.7,186.19 282.6,185.52 283.5,186.25 284.4,185.56 285.3,185.89 286.2,185.65 287.1,187.36 288,186.87 288.9,187.89 289.8,189.43 290.7,188.81 291.6,189.03 292.5,187.99 293.4,188.44 294.3,187.73 295.2,187.31 296.1,187.78 297,187.6 297.9,188.44 298.8,188.38 299.7,189.63 300.6,190.83 301.5,192.03 302.4,193.28 303.3,194.47 304.2,194.87 305.1,194.85 306,194.13 306.9,193.75 307.8,193.03 308.7,193.61 309.6,192.21 310.5,192.4 311.4,193.79 312.3,195.25 313.2,195.95 314.1,196.33 315,197.01 315.9,197.79 316.8,198.88 317.7,198.78 318.6,199.31 319.5,199.35 320.4,199.89 321.3,200.14 322.2,199.71 323.1,201.27 324,200.72 324.9,200.7 325.8,200.82 326.7,201.29 327.6,201.65 328.5,202.11 329.4,202.16 330.3,202.58 331.2,202.11 332.1,202.66 333,202.82 333.9,203.48 334.8,203.82 335.7,203.4 336.6,204.1" stroke="#1a80c8" stroke-width="1.9" stroke-dasharray="7 1 1.6 1"/>
<polyline points="43.2,215.15 44.1,215.05 45,215.33 45.9,215.71 46.8,215.33 47.7,215.51 48.6,215.76 49.5,215.84 50.4,215.43 51.3,215.32 52.2,215.94 53.1,216.2 54,215.75 54.9,215.99 55.8,216.22 56.7,216.48 57.6,216.61 58.5,216.32 59.4,216.11 60.3,216.67 61.2,215.58 62.1,213.5 63,214.03 63.9,215.19 64.8,215.3 65.7,215.08 66.6,215.21 67.5,215.13 68.4,215.72 69.3,214.53 70.2,214.77 71.1,215.92 72,216.46 72.9,215.96 73.8,216.01 74.7,216.01 75.6,215.85 76.5,215.81 77.4,215.52 78.3,214.89 79.2,214.76 80.1,214.71 81,214.74 81.9,214.71 82.8,215.22 83.7,214.95 84.6,214.88 85.5,214.52 86.4,213.97 87.3,214.73 88.2,215.11 89.1,215.35 90,215.3 90.9,215.28 91.8,215.31 92.7,215.1 93.6,215.27 94.5,215.53 95.4,215.72 96.3,216.25 97.2,216.14 98.1,216.14 99,215.76 99.9,215 100.8,215.82 101.7,216.66 102.6,216.12 103.5,216.04 104.4,216.09 105.3,216.38 106.2,215.4 107.1,214.1 108,215.09 108.9,216.12 109.8,213.92 110.7,212.65 111.6,214.97 112.5,214.46 113.4,211.84 114.3,214.32 115.2,212.3 116.1,207.77 117,209.8 117.9,213.47 118.8,214.38 119.7,213.43 120.6,214.98 121.5,216.43 122.4,216.52 123.3,214.97 124.2,214.56 125.1,214.51 126,214.66 126.9,214.79 127.8,214.66 128.7,214.52 129.6,214.33 130.5,214.26 131.4,214.26 132.3,214.6 133.2,215.19 134.1,214.45 135,213.96 135.9,214.07 136.8,212.1 137.7,209.63 138.6,211.63 139.5,210.95 140.4,212.44 141.3,209.42 142.2,208.28 143.1,206.73 144,208 144.9,212.98 145.8,214.06 146.7,215.15 147.6,215.31 148.5,215.65 149.4,215.4 150.3,215.05 151.2,214.79 152.1,213.97 153,214.85 153.9,215.43 154.8,215.55 155.7,215.2 156.6,215.36 157.5,215.81 158.4,216.34 159.3,216.06 160.2,215.54 161.1,215.71 162,216.28 162.9,216.4 163.8,215.42 164.7,215.24 165.6,216 166.5,215.59 167.4,215.3 168.3,215.33 169.2,215.24 170.1,215.52 171,215.71 171.9,215.03 172.8,213.66 173.7,214.03 174.6,214.64 175.5,214.55 176.4,214.74 177.3,214.46 178.2,214.28 179.1,214.33 180,214.9 180.9,214.93 181.8,215.12 182.7,213.59 183.6,214.05 184.5,215.12 185.4,215 186.3,214.75 187.2,214.52 188.1,215.09 189,215.27 189.9,214.8 190.8,214.3 191.7,213.8 192.6,213.99 193.5,214.53 194.4,214.55 195.3,213.78 196.2,213.48 197.1,213.28 198,213.4 198.9,213.45 199.8,214.01 200.7,214.58 201.6,214.42 202.5,214.43 203.4,214.38 204.3,214.03 205.2,213.63 206.1,214 207,214.54 207.9,214.94 208.8,214.32 209.7,213.46 210.6,212.91 211.5,213.28 212.4,213.97 213.3,214.96 214.2,215.57 215.1,216.01 216,215.31 216.9,214.08 217.8,214.5 218.7,214.94 219.6,214.35 220.5,214.13 221.4,214.7 222.3,214.47 223.2,214.1 224.1,213.98 225,214.01 225.9,213.99 226.8,213.95 227.7,214.29 228.6,213.71 229.5,213.74 230.4,213.54 231.3,212.83 232.2,213.67 233.1,214.11 234,214.27 234.9,214.38 235.8,214.39 236.7,214 237.6,213.62 238.5,213.63 239.4,214.22 240.3,214.68 241.2,215.18 242.1,215.22 243,215.36 243.9,215.05 244.8,214.37 245.7,213.85 246.6,214.49 247.5,214.99 248.4,215.11 249.3,215.41 250.2,215.48 251.1,215.5 252,215.16 252.9,215.24 253.8,215.16 254.7,215.33 255.6,215.81 256.5,215.55 257.4,215.39 258.3,214.4 259.2,214.03 260.1,214.62 261,215.06 261.9,215.19 262.8,214.61 263.7,213.35 264.6,212.69 265.5,214.16 266.4,216.03 267.3,214.76 268.2,210.67 269.1,205.96 270,202.72 270.9,201.84 271.8,196.46 272.7,191.76 273.6,192.02 274.5,192.24 275.4,192.17 276.3,192.05 277.2,192.51 278.1,192.53 279,192.37 279.9,192.4 280.8,192.08 281.7,191.75 282.6,192.76 283.5,191.81 284.4,192.77 285.3,192.06 286.2,192.17 287.1,192.05 288,192.39 288.9,191.95 289.8,192.65 290.7,192.26 291.6,192.15 292.5,193.56 293.4,194.78 294.3,194.25 295.2,194.37 296.1,193.65 297,192.6 297.9,193.23 298.8,191.75 299.7,193.68 300.6,193.7 301.5,195.32 302.4,196.26 303.3,196.28 304.2,196.22 305.1,197.16 306,196.46 306.9,196.76 307.8,197.82 308.7,197.35 309.6,197.88 310.5,198.24 311.4,198.14 312.3,198.44 313.2,198.57 314.1,198.77 315,199.24 315.9,199.34 316.8,199.34 317.7,199.7 318.6,199.51 319.5,199.68 320.4,199.86 321.3,200.64 322.2,201.13 323.1,200.91 324,200.54 324.9,201.22 325.8,201.77 326.7,201.97 327.6,202.17 328.5,202.7 329.4,202.94 330.3,202.51 331.2,203.3 332.1,203.2 333,203.71 333.9,204.22 334.8,204.61 335.7,204.48 336.6,204.34" stroke="#f0b020" stroke-width="1.5" stroke-dasharray="5 1.5 1.5 1.5"/>
<polyline points="43.2,219.31 44.1,219.53 45,219.77 45.9,219.72 46.8,219.43 47.7,219.74 48.6,219.61 49.5,219.43 50.4,219.07 51.3,218.93 52.2,219.24 53.1,218.97 54,218.56 54.9,218.6 55.8,218.59 56.7,218.7 57.6,218.61 58.5,218.63 59.4,218.68 60.3,218.92 61.2,217.66 62.1,213.63 63,215.18 63.9,219.17 64.8,219.53 65.7,218.69 66.6,218.36 67.5,218.44 68.4,218.39 69.3,215.06 70.2,216.22 71.1,218.13 72,218.38 72.9,218.99 73.8,218.97 74.7,218.49 75.6,218.67 76.5,218.97 77.4,219.24 78.3,218.98 79.2,218.93 80.1,218.47 81,218.02 81.9,217.6 82.8,217.95 83.7,218.31 84.6,218.42 85.5,215.88 86.4,214.13 87.3,217.36 88.2,218.38 89.1,218.49 90,218.35 90.9,218.63 91.8,218.64 92.7,219.07 93.6,219.61 94.5,219.43 95.4,219.57 96.3,219.68 97.2,219.19 98.1,219.28 99,217.83 99.9,214.97 100.8,217.26 101.7,219.24 102.6,218.96 103.5,219.45 104.4,219.1 105.3,218.73 106.2,216.23 107.1,214.04 108,215.74 108.9,217.81 109.8,215.05 110.7,212.7 111.6,217.07 112.5,216.36 113.4,212.03 114.3,215.74 115.2,214.06 116.1,207.97 117,210.85 117.9,216.07 118.8,215.82 119.7,213.44 120.6,216.85 121.5,217.45 122.4,217.34 123.3,217.75 124.2,217.45 125.1,216.48 126,215.14 126.9,214.5 127.8,214.73 128.7,215.27 129.6,215.06 130.5,214.38 131.4,214.32 132.3,215.16 133.2,216.01 134.1,215.49 135,214 135.9,215.33 136.8,213.56 137.7,209.6 138.6,213.3 139.5,211.05 140.4,214.47 141.3,210.33 142.2,208.93 143.1,207.43 144,208.79 144.9,213.35 145.8,215.32 146.7,218.12 147.6,218.07 148.5,217.73 149.4,218.25 150.3,217.8 151.2,215.58 152.1,213.95 153,216.53 153.9,217.64 154.8,217.66 155.7,217.52 156.6,217.4 157.5,217.53 158.4,217.37 159.3,217.21 160.2,217.98 161.1,218.78 162,218.88 162.9,218.39 163.8,218.01 164.7,217.5 165.6,217.42 166.5,217.52 167.4,217.05 168.3,216.82 169.2,216.74 170.1,217.9 171,219.26 171.9,217.7 172.8,213.61 173.7,215.72 174.6,219.07 175.5,219.43 176.4,219.08 177.3,218.97 178.2,219.02 179.1,218.7 180,218.13 180.9,217.13 181.8,216.46 182.7,213.83 183.6,214.73 184.5,216.84 185.4,216.83 186.3,216.6 187.2,216.33 188.1,216.35 189,216.33 189.9,216.14 190.8,216.57 191.7,216.61 192.6,216.61 193.5,216.75 194.4,217.14 195.3,216.89 196.2,216.18 197.1,215.44 198,215.64 198.9,215.89 199.8,215.71 200.7,215.84 201.6,216.17 202.5,216.43 203.4,216.09 204.3,215.08 205.2,214.82 206.1,215.92 207,216.32 207.9,216 208.8,215.25 209.7,214.85 210.6,214.2 211.5,214.42 212.4,215.29 213.3,216.08 214.2,215.33 215.1,214.42 216,214.22 216.9,213.97 217.8,214.4 218.7,214.63 219.6,214.62 220.5,215.85 221.4,217.21 222.3,217.85 223.2,217.63 224.1,216.17 225,215.39 225.9,215.71 226.8,215.53 227.7,215.61 228.6,215.77 229.5,215.57 230.4,215.07 231.3,214.43 232.2,215.06 233.1,215.46 234,215.95 234.9,216.2 235.8,215.68 236.7,214.89 237.6,214.62 238.5,214.69 239.4,215.42 240.3,216.2 241.2,216.48 242.1,216.14 243,216.22 243.9,216.25 244.8,214.83 245.7,213.75 246.6,214.5 247.5,215.02 248.4,215.18 249.3,215.15 250.2,215.67 251.1,216.07 252,215.6 252.9,215.63 253.8,216.03 254.7,216.29 255.6,216.27 256.5,216.36 257.4,216.02 258.3,214.72 259.2,214.3 260.1,215.29 261,216.33 261.9,215.7 262.8,214.52 263.7,213.7 264.6,213.52 265.5,214.55 266.4,215.98 267.3,217.08 268.2,217.16 269.1,217.65 270,217.08 270.9,216.07 271.8,215.44 272.7,216.31 273.6,217.98 274.5,218.42 275.4,218 276.3,216.46 277.2,215.64 278.1,216.6 279,217.45 279.9,217.28 280.8,217.3 281.7,218.05 282.6,217.64 283.5,216.72 284.4,215.63 285.3,215.38 286.2,216.19 287.1,216.81 288,216.82 288.9,216.33 289.8,216.63 290.7,216.15 291.6,215.34 292.5,215.28 293.4,215.4 294.3,216.29 295.2,217.91 296.1,219.18 297,219.12 297.9,219.5 298.8,219.39 299.7,217.85 300.6,216.46 301.5,217 302.4,218.42 303.3,218.67 304.2,217.85 305.1,216.74 306,215.95 306.9,214.7 307.8,215.11 308.7,216.97 309.6,217.59 310.5,217.01 311.4,216.72 312.3,216.05 313.2,216.15 314.1,218.17 315,218.87 315.9,218.51 316.8,217.34 317.7,216.59 318.6,216.25 319.5,216.9 320.4,218.07 321.3,218.55 322.2,217.99 323.1,217.57 324,217.21 324.9,216.6 325.8,216.39 326.7,217.29 327.6,217.24 328.5,217.5 329.4,217.93 330.3,217.47 331.2,215.25 332.1,214.02 333,215.64 333.9,217.73 334.8,218.79 335.7,218.51 336.6,218.7" stroke="#f2521c" stroke-width="1.6"/>
<polyline points="106.2,216.1 107.1,213.88 108,215.61 108.9,217.51 109.8,215.08 110.7,212.78 111.6,216.71 112.5,216.26 113.4,211.92 114.3,215.99 115.2,214.22 116.1,208.03 117,211.08 117.9,216.78 118.8,215.99 119.7,213.59 120.6,216.69 121.5,217 122.4,217.05 123.3,218.65 124.2,218.11 125.1,216.81 126,215.46 126.9,214.82 127.8,215.15 128.7,215.68 129.6,215.34 130.5,214.67 131.4,214.62 132.3,215.49 133.2,216.27 134.1,215.19 135,213.77 135.9,214.75 136.8,213.07 137.7,209.43 138.6,212.62 139.5,210.74 140.4,213.93 141.3,210.16 142.2,208.79 143.1,207.2 144,208.55 144.9,213.54 145.8,215.22 146.7,217.25 147.6,218.06 148.5,218.56 149.4,218.21 150.3,218.11 151.2,216.06 152.1,213.94 153,217.18 153.9,218.79 154.8,218.59 155.7,218.15 156.6,218.53 157.5,218.86 158.4,219.08 159.3,218.8 160.2,218.88 161.1,218.81 162,218.59 162.9,218.65 163.8,218.35 164.7,218.27 165.6,218.86 166.5,218.6 167.4,218.36 168.3,218.01 169.2,217.05 170.1,216.85 171,217.16 171.9,216.42 172.8,213.61 173.7,215.1 174.6,217.45 175.5,216.89 176.4,216.1 177.3,215.86 178.2,216.07 179.1,215.72 180,215.56 180.9,215.89 181.8,215.91 182.7,213.78 183.6,214.31 184.5,215.49 185.4,216.24 186.3,216.52 187.2,216.51 188.1,216.66 189,216.28 189.9,215.82 190.8,215.77 191.7,216.34 192.6,216.78 193.5,216.69 194.4,216.76 195.3,215.57 196.2,214.45 197.1,213.85 198,213.77 198.9,213.96 199.8,214.12 200.7,215.76 201.6,217.27 202.5,217.56 203.4,217.16 204.3,216.05 205.2,216.35 206.1,217.71 207,217.6 207.9,217.22 208.8,215.67 209.7,213.98 210.6,213.79 211.5,214.18 212.4,214.92 213.3,216.12 214.2,216.17 215.1,216.16 216,215.82 216.9,215.7 217.8,216.15 218.7,216.38 219.6,216.64 220.5,216.49 221.4,216.43 222.3,216.42 223.2,216.18 224.1,215.87 225,215.47 225.9,215.13 226.8,215.4 227.7,215.4 228.6,214.72 229.5,214.97 230.4,214.83 231.3,213.86 232.2,214.31 233.1,215.34 234,216.46 234.9,216.71 235.8,216.51 236.7,215.59 237.6,214.61 238.5,215.03 239.4,215.78 240.3,216.12 241.2,216.46 242.1,216.17 243,216.73 243.9,216.54 244.8,214.99 245.7,214.45 246.6,215.27 247.5,215.87 248.4,215.81 249.3,215.71 250.2,215.76 251.1,215.34 252,214.74 252.9,214.63 253.8,214.72 254.7,214.96 255.6,215.45 256.5,215.9 257.4,215.48 258.3,213.92 259.2,213.48 260.1,215.36 261,217.09 261.9,216.96 262.8,216.41 263.7,215.8 264.6,214.04 265.5,213.73 266.4,214.84 267.3,215.61 268.2,215.62 269.1,215.12 270,214.41 270.9,213.16 271.8,212.23 272.7,213.49 273.6,215.12 274.5,215.5 275.4,215.1 276.3,214.15 277.2,213.71 278.1,214.4 279,215.18 279.9,215.36 280.8,215.35 281.7,215.24 282.6,214.75 283.5,214.32 284.4,213.39 285.3,213.21 286.2,214.03 287.1,214.4 288,214.89 288.9,216.03 289.8,216.43 290.7,215.7 291.6,214.59 292.5,213.96 293.4,214.67 294.3,215.52 295.2,215.81 296.1,216.35 297,216.74 297.9,216.19 298.8,215.16 299.7,213.93 300.6,212.68 301.5,213.16 302.4,214.59 303.3,214.99 304.2,214.95 305.1,214.77 306,213.83 306.9,212.55 307.8,212.66 308.7,214 309.6,215.27 310.5,215.57 311.4,214.36 312.3,212.99 313.2,213.66 314.1,215.1 315,215.4 315.9,215.3 316.8,214.28 317.7,212.5 318.6,211.47 319.5,212.5 320.4,213.6 321.3,214.48 322.2,214.45 323.1,214.18 324,213.47 324.9,213.25 325.8,214.03 326.7,215.43 327.6,215.7 328.5,216.08 329.4,216.23 330.3,215.62 331.2,213.57 332.1,212.33 333,213.52 333.9,214.69 334.8,215.21 335.7,215.04 336.6,215.46" stroke="#9a2aa8" stroke-width="1.5"/>
<polyline points="106.2,215.21 107.1,213.91 108,214.84 108.9,216.1 109.8,214.41 110.7,212.7 111.6,215.94 112.5,215.27 113.4,211.73 114.3,215.34 115.2,213.62 116.1,207.8 117,210.64 117.9,215.6 118.8,215.41 119.7,213.52 120.6,215.9 121.5,216.84 122.4,216.87 123.3,216.76 124.2,216.2 125.1,216.24 126,215.49 126.9,214.93 127.8,215.19 128.7,215.45 129.6,215.02 130.5,214.65 131.4,214.62 132.3,215.05 133.2,215.47 134.1,214.62 135,213.69 135.9,214.54 136.8,213.2 137.7,209.54 138.6,212.62 139.5,211.07 140.4,213.92 141.3,210.02 142.2,208.63 143.1,207.11 144,208.51 144.9,213.33 145.8,214.8 146.7,217.45 147.6,217.85 148.5,217.76 149.4,217.6 150.3,217.45 151.2,215.76 152.1,213.99 153,216.78 153.9,217.08 154.8,216.26 155.7,216.42 156.6,216.76 157.5,216.95 158.4,217 159.3,216.7 160.2,216.54 161.1,217.05 162,217.04 162.9,216.69 163.8,216.87 164.7,216.8 165.6,217.12 166.5,217.16 167.4,216.93 168.3,216.82 169.2,216.94 170.1,217.05 171,216.93 171.9,215.94 172.8,213.47 173.7,214.63 174.6,216.17 175.5,216.47 176.4,216.16 177.3,215.97 178.2,216.08 179.1,215.66 180,215.87 180.9,215.95 181.8,215.43 182.7,213.45 183.6,214.15 184.5,215.91 185.4,216.65 186.3,216.44 187.2,216.01 188.1,215.97 189,216.28 189.9,216.64 190.8,216.73 191.7,216.73 192.6,216.96 193.5,216.79 194.4,216.85 195.3,215.96 196.2,214.73 197.1,214.33 198,214.44 198.9,214.35 199.8,214.51 200.7,214.73 201.6,214.94 202.5,215.18 203.4,214.97 204.3,214.54 205.2,214.22 206.1,215.04 207,215.3 207.9,214.75 208.8,214.42 209.7,214.6 210.6,214.31 211.5,214.83 212.4,215.57 213.3,216.58 214.2,217.09 215.1,217.01 216,216.78 216.9,216.52 217.8,216.43 218.7,216.34 219.6,216.19 220.5,216.07 221.4,216.56 222.3,216.71 223.2,216.25 224.1,215.82 225,215.8 225.9,215.96 226.8,215.84 227.7,215.7 228.6,215.59 229.5,215.97 230.4,215.87 231.3,214.97 232.2,215.25 233.1,215.81 234,216.54 234.9,216.75 235.8,216.59 236.7,215.83 237.6,214.97 238.5,214.73 239.4,215.46 240.3,215.9 241.2,216.25 242.1,216.17 243,215.84 243.9,215.41 244.8,214.63 245.7,213.94 246.6,214.41 247.5,215.92 248.4,216.65 249.3,216.42 250.2,215.93 251.1,215.92 252,215.49 252.9,214.64 253.8,214.92 254.7,215.13 255.6,215.16 256.5,215.57 257.4,215.23 258.3,214.1 259.2,214.16 260.1,215.24 261,215.88 261.9,215.09 262.8,214.1 263.7,213.19 264.6,212.41 265.5,213.96 266.4,215.2 267.3,215.91 268.2,216.24 269.1,216.23 270,215.44 270.9,214.59 271.8,214.34 272.7,215.4 273.6,216.74 274.5,215.74 275.4,214.44 276.3,213.36 277.2,213.24 278.1,213.9 279,214.54 279.9,215.44 280.8,215.34 281.7,215.29 282.6,215.3 283.5,214.46 284.4,212.78 285.3,212.69 286.2,213.57 287.1,214.79 288,215.86 288.9,216.11 289.8,216.18 290.7,215.32 291.6,214.34 292.5,213.8 293.4,214.62 294.3,215.86 295.2,216.15 296.1,216.57 297,215.79 297.9,215.09 298.8,214.99 299.7,213.93 300.6,212.88 301.5,213.11 302.4,214.17 303.3,215.74 304.2,217.31 305.1,217.05 306,216.04 306.9,214.85 307.8,214.56 308.7,215.59 309.6,216.74 310.5,216.83 311.4,213.84 312.3,211.24 313.2,211.82 314.1,213.24 315,213.72 315.9,213.77 316.8,212.98 317.7,212.16 318.6,212.14 319.5,213.44 320.4,214.46 321.3,215.2 322.2,215.69 323.1,215.14 324,214.09 324.9,214.13 325.8,214.51 326.7,215.13 327.6,215.29 328.5,215.47 329.4,214.91 330.3,214.15 331.2,212.78 332.1,211.74 333,212.8 333.9,214.39 334.8,215.66 335.7,216.09 336.6,216.12" stroke="#c030c8" stroke-width="1.3" stroke-dasharray="2.5 1.5"/>
</g>
<rect x="42.9" y="182.9" width="294.7" height="42.8" fill="none" stroke="#262626" stroke-width="1.3"/>
<text x="46.44" y="192.4" font-size="7.6" text-anchor="start" fill="#262626" textLength="23.21" lengthAdjust="spacingAndGlyphs">Run 3</text>
<text x="25.54" y="185.5" font-size="7.6" text-anchor="start" fill="#262626" style="stroke-width:0.2px" textLength="8.41" lengthAdjust="spacingAndGlyphs">10</text>
<text x="34.52" y="182.3" font-size="6.4" text-anchor="start" fill="#262626" style="stroke-width:0.15px" textLength="4.97" lengthAdjust="spacingAndGlyphs">8</text>
<text x="25.54" y="229.6" font-size="7.6" text-anchor="start" fill="#262626" style="stroke-width:0.2px" textLength="8.41" lengthAdjust="spacingAndGlyphs">10</text>
<text x="35.32" y="226.6" font-size="6.4" text-anchor="start" fill="#262626" style="stroke-width:0.15px" textLength="4.57" lengthAdjust="spacingAndGlyphs">2</text>
<path d="M42.9 269.92H337.6M42.9 262.78H337.6M42.9 255.65H337.6M42.9 248.52H337.6M42.9 241.38H337.6" stroke="#bdbdbd" stroke-width="0.7" stroke-dasharray="1 1.6"/>
<clipPath id="cl3"><rect x="42.9" y="234.25" width="294.7" height="42.8"/></clipPath>
<g clip-path="url(#cl3)" fill="none" stroke-linejoin="round">
<polyline points="43.2,265.9 44.1,266.55 45,266.36 45.9,265.67 46.8,265.37 47.7,265.57 48.6,265.93 49.5,266.15 50.4,265.49 51.3,265.46 52.2,265.59 53.1,265.85 54,265.41 54.9,265.81 55.8,265.81 56.7,265.5 57.6,266.09 58.5,266.64 59.4,266.56 60.3,266.7 61.2,266.13 62.1,264.88 63,265.13 63.9,265.19 64.8,264.92 65.7,265.54 66.6,265.57 67.5,265.83 68.4,265.99 69.3,265.87 70.2,265.99 71.1,265.79 72,265.66 72.9,265.78 73.8,265.84 74.7,266.07 75.6,265.96 76.5,265.38 77.4,265.6 78.3,265.66 79.2,265.52 80.1,265.82 81,265.57 81.9,265.89 82.8,266.28 83.7,266.46 84.6,266.55 85.5,265.64 86.4,265.22 87.3,265.56 88.2,266.03 89.1,266.23 90,266.06 90.9,266.01 91.8,266.24 92.7,266.07 93.6,266.27 94.5,265.58 95.4,265.18 96.3,265.51 97.2,265.77 98.1,265.72 99,265.68 99.9,266.22 100.8,265.68 101.7,265.74 102.6,264.98 103.5,264.98 104.4,265.07 105.3,265.66 106.2,265.44 107.1,265.18 108,265.36 108.9,265.66 109.8,264.74 110.7,263.82 111.6,266.16 112.5,265.44 113.4,263.08 114.3,264.7 115.2,263.3 116.1,259.32 117,261.29 117.9,264.86 118.8,265.1 119.7,264.96 120.6,265.86 121.5,267.48 122.4,267.64 123.3,265.78 124.2,265.83 125.1,265.74 126,265.96 126.9,266.21 127.8,266.12 128.7,266.15 129.6,265.89 130.5,265.76 131.4,265.74 132.3,265.83 133.2,266.05 134.1,265.74 135,265.21 135.9,265.28 136.8,263.41 137.7,260.9 138.6,263.16 139.5,262.08 140.4,263.74 141.3,260.68 142.2,259.59 143.1,258.1 144,259.25 144.9,264.32 145.8,265.02 146.7,265.86 147.6,266.59 148.5,266.68 149.4,266.41 150.3,266.54 151.2,265.73 152.1,265.15 153,265.76 153.9,266.57 154.8,266.3 155.7,266.13 156.6,266.21 157.5,266.78 158.4,266.32 159.3,266.09 160.2,266.42 161.1,266.56 162,266.24 162.9,266.08 163.8,266 164.7,265.8 165.6,265.27 166.5,265.33 167.4,265.51 168.3,265.48 169.2,265.37 170.1,265.3 171,265.22 171.9,264.85 172.8,264.73 173.7,264.95 174.6,264.97 175.5,264.64 176.4,265.02 177.3,264.95 178.2,264.78 179.1,265.21 180,265.41 180.9,265.28 181.8,265.03 182.7,264.71 183.6,265.12 184.5,265.87 185.4,265.48 186.3,265.55 187.2,265.27 188.1,265.15 189,264.95 189.9,265.29 190.8,265.96 191.7,266.41 192.6,266.44 193.5,266.42 194.4,266.21 195.3,265.19 196.2,263.95 197.1,263.96 198,264.58 198.9,265.05 199.8,265.03 200.7,264.59 201.6,263.7 202.5,263.12 203.4,263.04 204.3,263.7 205.2,265.38 206.1,266.75 207,266.67 207.9,266.38 208.8,266.41 209.7,265.93 210.6,264.84 211.5,263.98 212.4,264.75 213.3,265.75 214.2,265.64 215.1,265.54 216,265.04 216.9,264.69 217.8,264.52 218.7,264.58 219.6,265.23 220.5,265.62 221.4,264.6 222.3,263.99 223.2,264.02 224.1,264.36 225,264.96 225.9,264.93 226.8,265.6 227.7,265.97 228.6,265.62 229.5,265.6 230.4,265.88 231.3,266.27 232.2,265.81 233.1,265.34 234,265.41 234.9,264.98 235.8,264.7 236.7,265.23 237.6,265.73 238.5,265.49 239.4,265.5 240.3,265.55 241.2,264.63 242.1,264.1 243,264.11 243.9,264.92 244.8,265.18 245.7,265.42 246.6,265.53 247.5,264.89 248.4,263.71 249.3,263.97 250.2,264.47 251.1,264.91 252,265.41 252.9,265.54 253.8,265.67 254.7,265.83 255.6,265.49 256.5,265.31 257.4,265.97 258.3,265.86 259.2,265.24 260.1,264.74 261,264.39 261.9,263.88 262.8,263.83 263.7,264.32 264.6,263.96 265.5,263.05 266.4,262.09 267.3,263.22 268.2,264.98 269.1,265.9 270,265.75 270.9,265.31 271.8,256.33 272.7,246.86 273.6,245.95 274.5,246.52 275.4,246.53 276.3,246.92 277.2,247.57 278.1,247.96 279,244.83 279.9,240.53 280.8,238.39 281.7,236.56 282.6,236.84 283.5,237.05 284.4,236.84 285.3,236.93 286.2,237.66 287.1,237.53 288,241.94 288.9,245.97 289.8,247.91 290.7,250.11 291.6,250.68 292.5,250.73 293.4,250 294.3,248.95 295.2,249 296.1,249.05 297,248.59 297.9,249.37 298.8,249.97 299.7,249.7 300.6,250.53 301.5,250.53 302.4,250.74 303.3,251.38 304.2,251.02 305.1,251.18 306,251.42 306.9,251.24 307.8,251.22 308.7,251.31 309.6,251.96 310.5,251.99 311.4,251.76 312.3,252.45 313.2,252.23 314.1,251.81 315,252.61 315.9,252.47 316.8,252.17 317.7,252.93 318.6,252.75 319.5,252.85 320.4,253.3 321.3,252.44 322.2,252.87 323.1,253.27 324,253.62 324.9,253.41 325.8,253.4 326.7,253.49 327.6,253.92 328.5,254.31 329.4,253.67 330.3,253.56 331.2,254.31 332.1,254.4 333,254.33 333.9,254.98 334.8,255.17 335.7,254.81 336.6,255.01" stroke="#1a80c8" stroke-width="1.9" stroke-dasharray="7 1 1.6 1"/>
<polyline points="43.2,266.97 44.1,266.81 45,266.87 45.9,266.68 46.8,267.07 47.7,267.44 48.6,266.92 49.5,266.71 50.4,266.57 51.3,266.42 52.2,266.31 53.1,266.93 54,266.98 54.9,267 55.8,267.02 56.7,267.03 57.6,266.74 58.5,266.7 59.4,267.25 60.3,267.76 61.2,267.52 62.1,265.24 63,265.73 63.9,267.29 64.8,267.61 65.7,268.18 66.6,268.72 67.5,268.43 68.4,267.47 69.3,265.93 70.2,266.17 71.1,266.57 72,266.99 72.9,267.33 73.8,267.01 74.7,266.83 75.6,267.25 76.5,267.22 77.4,267.22 78.3,267.42 79.2,267.82 80.1,268.15 81,268.1 81.9,268.53 82.8,268.13 83.7,268 84.6,268.02 85.5,266.5 86.4,265.49 87.3,266.7 88.2,266.83 89.1,266.73 90,267.3 90.9,267.21 91.8,266.98 92.7,266.86 93.6,266.96 94.5,266.27 95.4,266.44 96.3,266.79 97.2,266.8 98.1,266.81 99,266.42 99.9,266.33 100.8,266.81 101.7,267.41 102.6,266.96 103.5,267.24 104.4,267.41 105.3,267.66 106.2,266.53 107.1,265.19 108,265.83 108.9,266.75 109.8,265.57 110.7,264 111.6,266.48 112.5,265.76 113.4,263.22 114.3,265.89 115.2,264.26 116.1,259.08 117,261.56 117.9,266.07 118.8,266.02 119.7,264.63 120.6,266.49 121.5,267.98 122.4,268.1 123.3,267.23 124.2,266.82 125.1,266.4 126,266.21 126.9,266.1 127.8,266.16 128.7,266.15 129.6,265.95 130.5,265.86 131.4,265.86 132.3,265.98 133.2,266.13 134.1,265.85 135,265 135.9,265.49 136.8,263.49 137.7,260.81 138.6,263.14 139.5,262.21 140.4,264.15 141.3,261.07 142.2,259.93 143.1,258.38 144,259.57 144.9,264.57 145.8,265.69 146.7,267.03 147.6,267.31 148.5,266.66 149.4,266.42 150.3,266.53 151.2,265.52 152.1,265.02 153,265.55 153.9,266.37 154.8,266.38 155.7,266.43 156.6,266.46 157.5,266.37 158.4,266.04 159.3,266.63 160.2,266.33 161.1,266.06 162,266.25 162.9,266.28 163.8,266.73 164.7,266.82 165.6,266.35 166.5,266.6 167.4,266.82 168.3,266.89 169.2,266.79 170.1,266.81 171,266.66 171.9,265.95 172.8,264.85 173.7,265.58 174.6,266.76 175.5,266.45 176.4,266.51 177.3,266.26 178.2,266.25 179.1,266.66 180,266.67 180.9,266.71 181.8,265.99 182.7,264.93 183.6,265.45 184.5,266.14 185.4,265.9 186.3,266.06 187.2,265.73 188.1,265.6 189,265.27 189.9,265.3 190.8,265.27 191.7,265.33 192.6,265.6 193.5,265.97 194.4,265.47 195.3,263.88 196.2,263.76 197.1,265.26 198,265.8 198.9,265.46 199.8,265.22 200.7,265.08 201.6,264.43 202.5,263.76 203.4,263.65 204.3,264.71 205.2,265.26 206.1,264.94 207,264.74 207.9,265.43 208.8,266.1 209.7,265.54 210.6,265.31 211.5,264.84 212.4,265.27 213.3,266.22 214.2,265.95 215.1,265.66 216,264.71 216.9,264.75 217.8,264.54 218.7,264.58 219.6,265.16 220.5,264.7 221.4,263.82 222.3,263.72 223.2,264.24 224.1,264.47 225,265.1 225.9,265.49 226.8,265.89 227.7,265.75 228.6,265.11 229.5,265.38 230.4,265.7 231.3,266.02 232.2,266.24 233.1,266.15 234,265.63 234.9,264.88 235.8,265 236.7,265.54 237.6,266.08 238.5,266.36 239.4,266.36 240.3,265.81 241.2,264.97 242.1,264.28 243,263.83 243.9,264.74 244.8,265.14 245.7,265.41 246.6,265.3 247.5,264.57 248.4,263.5 249.3,263.58 250.2,263.8 251.1,264.37 252,264.95 252.9,265.3 253.8,265.78 254.7,265.65 255.6,265.72 256.5,266 257.4,266.07 258.3,265.78 259.2,265.88 260.1,265.7 261,264.65 261.9,264.18 262.8,264.42 263.7,265.4 264.6,265.65 265.5,264.68 266.4,263.19 267.3,262.93 268.2,263.84 269.1,265.33 270,265.58 270.9,264.71 271.8,257.48 272.7,247.68 273.6,246.58 274.5,247.26 275.4,247.29 276.3,247.91 277.2,247.86 278.1,248.15 279,246.35 279.9,243.51 280.8,242.59 281.7,241.95 282.6,242.77 283.5,242.58 284.4,241.8 285.3,242.08 286.2,243.03 287.1,243.27 288,245.25 288.9,247.29 289.8,249.09 290.7,251.04 291.6,251.41 292.5,251.22 293.4,251.07 294.3,251.12 295.2,250.47 296.1,249.64 297,249.52 297.9,249.96 298.8,250.16 299.7,250.81 300.6,251.27 301.5,250.91 302.4,251.49 303.3,251.24 304.2,251.47 305.1,251.22 306,252.33 306.9,251.96 307.8,252.25 308.7,251.94 309.6,251.76 310.5,252.66 311.4,252.18 312.3,252.98 313.2,252.52 314.1,253.15 315,252.53 315.9,252.31 316.8,253.14 317.7,253 318.6,253.11 319.5,253.51 320.4,253.03 321.3,253.02 322.2,253.16 323.1,253.12 324,253.19 324.9,253.45 325.8,253.65 326.7,253.92 327.6,253.8 328.5,254.23 329.4,254.6 330.3,254.42 331.2,254.74 332.1,254.47 333,254.96 333.9,255.14 334.8,254.94 335.7,254.8 336.6,255.33" stroke="#f0b020" stroke-width="1.5" stroke-dasharray="5 1.5 1.5 1.5"/>
<polyline points="43.2,269.98 44.1,269.91 45,269.92 45.9,269.5 46.8,269.58 47.7,269.95 48.6,269.64 49.5,270.04 50.4,269.61 51.3,269.7 52.2,269.85 53.1,269.8 54,269.83 54.9,270.06 55.8,269.72 56.7,269.82 57.6,270.41 58.5,270.66 59.4,270.7 60.3,270.75 61.2,269.43 62.1,265.35 63,266.51 63.9,269.1 64.8,268.74 65.7,269.21 66.6,269.6 67.5,269.65 68.4,269.05 69.3,266.16 70.2,267.28 71.1,269.25 72,269.09 72.9,269.16 73.8,269.36 74.7,269.21 75.6,268.89 76.5,268.66 77.4,268.52 78.3,268.41 79.2,268.57 80.1,269.54 81,270.28 81.9,270.48 82.8,270.65 83.7,270.91 84.6,270.07 85.5,267.28 86.4,265.55 87.3,268.89 88.2,270.33 89.1,270.2 90,269.75 90.9,268.9 91.8,269.09 92.7,269.15 93.6,269.24 94.5,268.62 95.4,268.6 96.3,269.14 97.2,269.53 98.1,269.31 99,268.12 99.9,266.39 100.8,267.65 101.7,269.38 102.6,269.8 103.5,270.24 104.4,271.01 105.3,270.96 106.2,268.08 107.1,265.38 108,267.26 108.9,269.35 109.8,267.16 110.7,264.24 111.6,269.35 112.5,268.16 113.4,263.2 114.3,267.77 115.2,265.87 116.1,259.34 117,262.56 117.9,268.5 118.8,267.81 119.7,264.57 120.6,268.47 121.5,268.7 122.4,268.48 123.3,269.22 124.2,268.9 125.1,268.02 126,266.89 126.9,266.23 127.8,266.55 128.7,267.06 129.6,266.81 130.5,265.95 131.4,265.87 132.3,266.89 133.2,267.92 134.1,266.86 135,265.27 135.9,266.52 136.8,264.65 137.7,260.61 138.6,264.28 139.5,262.22 140.4,265.63 141.3,261.43 142.2,260.06 143.1,258.68 144,260.11 144.9,264.74 145.8,266.75 146.7,269.4 147.6,269.69 148.5,269.9 149.4,270.73 150.3,270.67 151.2,267.54 152.1,265.18 153,268.26 153.9,269.84 154.8,269.69 155.7,270.07 156.6,270.1 157.5,270.42 158.4,270.33 159.3,270.29 160.2,270.18 161.1,270.48 162,270.39 162.9,270.13 163.8,270.22 164.7,270.12 165.6,269.95 166.5,269.87 167.4,269.67 168.3,269.73 169.2,269.67 170.1,269.61 171,269.34 171.9,268.02 172.8,265.2 173.7,266.71 174.6,269.13 175.5,268.9 176.4,268.72 177.3,268.71 178.2,268.78 179.1,269 180,269.11 180.9,268.99 181.8,267.79 182.7,265.06 183.6,265.88 184.5,267.41 185.4,267.29 186.3,267.58 187.2,267.22 188.1,266.83 189,266.37 189.9,266.59 190.8,266.89 191.7,266.93 192.6,266.7 193.5,266.41 194.4,266.16 195.3,265.19 196.2,264.86 197.1,266.16 198,266.9 198.9,267.04 199.8,266.89 200.7,266.3 201.6,265.53 202.5,265 203.4,264.96 204.3,265.64 205.2,265.99 206.1,266.33 207,266.62 207.9,266.76 208.8,266.99 209.7,266.96 210.6,266.91 211.5,266.41 212.4,266.82 213.3,267.84 214.2,267.96 215.1,267.64 216,266.28 216.9,265.62 217.8,265.17 218.7,265.49 219.6,266.03 220.5,265.61 221.4,265.27 222.3,265.32 223.2,265.84 224.1,266.31 225,266.98 225.9,266.99 226.8,267.02 227.7,267.49 228.6,267.15 229.5,266.93 230.4,267 231.3,267.64 232.2,268.32 233.1,268.46 234,268.27 234.9,267.76 235.8,267.58 236.7,267.69 237.6,267.64 238.5,266.99 239.4,267 240.3,266.72 241.2,265.99 242.1,265.71 243,265.09 243.9,266 244.8,266.88 245.7,267.4 246.6,267.43 247.5,267.1 248.4,266.18 249.3,266.1 250.2,266.71 251.1,266.77 252,266.6 252.9,267.15 253.8,267.29 254.7,267.04 255.6,266.98 256.5,267.15 257.4,267.63 258.3,267.51 259.2,266.59 260.1,265.63 261,264.96 261.9,264.59 262.8,265.41 263.7,266.1 264.6,266.02 265.5,265.09 266.4,264.28 267.3,265.57 268.2,267.55 269.1,268.96 270,269.05 270.9,268.67 271.8,267.52 272.7,266.57 273.6,266.96 274.5,268.63 275.4,269.91 276.3,270.24 277.2,270.26 278.1,269.49 279,267.7 279.9,267.93 280.8,268.98 281.7,269.05 282.6,268.31 283.5,267.04 284.4,266.5 285.3,267.42 286.2,269.5 287.1,270.19 288,269.62 288.9,269.99 289.8,269.69 290.7,267.98 291.6,266.99 292.5,267.24 293.4,267.67 294.3,268.85 295.2,269.48 296.1,269.33 297,269.08 297.9,267.47 298.8,266.27 299.7,266.71 300.6,268.39 301.5,269.35 302.4,269.51 303.3,268.84 304.2,268.84 305.1,268.83 306,267.65 306.9,266.45 307.8,265.91 308.7,267.24 309.6,268.44 310.5,268.75 311.4,269.01 312.3,269.35 313.2,269.35 314.1,268.84 315,267.94 315.9,267.55 316.8,268.19 317.7,269.22 318.6,269.7 319.5,269.83 320.4,268.84 321.3,268.47 322.2,267.79 323.1,268.51 324,269.35 324.9,269.67 325.8,269.72 326.7,268.67 327.6,266.68 328.5,266.03 329.4,267.6 330.3,269.49 331.2,269.2 332.1,268.47 333,267.24 333.9,267.53 334.8,268.63 335.7,269.22 336.6,268.46" stroke="#f2521c" stroke-width="1.6"/>
<polyline points="43.2,269.38 44.1,268.63 45,268.89 45.9,269 46.8,268.94 47.7,268.83 48.6,268.71 49.5,268.73 50.4,268.58 51.3,269.22 52.2,269.38 53.1,269.73 54,269.71 54.9,269.62 55.8,269.37 56.7,269.65 57.6,269.74 58.5,269.46 59.4,269.41 60.3,269.41 61.2,268.4 62.1,265.14 63,266.27 63.9,268.99 64.8,269.33 65.7,269.8 66.6,269.83 67.5,269.98 68.4,269.21 69.3,266.06 70.2,267.06 71.1,269.54 72,269.71 72.9,269.48 73.8,269.75 74.7,270.07 75.6,270.3 76.5,270.24 77.4,270.38 78.3,270.49 79.2,270.62 80.1,270.9 81,270.81 81.9,270.38 82.8,270.16 83.7,270.03 84.6,269.2 85.5,266.77 86.4,265.3 87.3,268.61 88.2,270.04 89.1,269.86 90,270.35 90.9,270.1 91.8,269.43 92.7,269.2 93.6,269.6 94.5,269.56 95.4,269.58 96.3,269.09 97.2,269.15 98.1,269.74 99,268.34 99.9,266.3 100.8,267.55 101.7,268.98 102.6,269.1 103.5,270.02 104.4,270.47 105.3,269.88 106.2,267.65 107.1,265.21 108,266.69 108.9,268.05 109.8,266.3 110.7,264.37 111.6,267.59 112.5,266.49 113.4,263.36 114.3,266.5 115.2,264.75 116.1,259.29 117,261.85 117.9,266.73 118.8,266.66 119.7,264.89 120.6,267.38 121.5,268.88 122.4,268.97 123.3,270.36 124.2,269.84 125.1,268.55 126,266.95 126.9,266.16 127.8,266.63 128.7,267.41 129.6,266.96 130.5,265.95 131.4,265.87 132.3,266.97 133.2,267.88 134.1,266.9 135,265.36 135.9,266.58 136.8,264.69 137.7,260.92 138.6,264.24 139.5,262.55 140.4,265.64 141.3,261.6 142.2,260.18 143.1,258.61 144,260.06 144.9,264.93 145.8,266.85 146.7,269.18 147.6,269.31 148.5,269.45 149.4,269.65 150.3,269.52 151.2,267.34 152.1,265.35 153,268.02 153.9,269.63 154.8,269.04 155.7,269.12 156.6,269.15 157.5,269.36 158.4,269.51 159.3,269.9 160.2,269.73 161.1,269.63 162,269.14 162.9,268.94 163.8,269.25 164.7,269.22 165.6,269 166.5,269.09 167.4,269.24 168.3,269.44 169.2,269.6 170.1,269.34 171,268.78 171.9,267.29 172.8,264.72 173.7,266.02 174.6,268.05 175.5,267.91 176.4,268.06 177.3,267.88 178.2,267.97 179.1,267.95 180,267.79 180.9,268.2 181.8,267.27 182.7,264.81 183.6,265.5 184.5,267.28 185.4,267.41 186.3,267.7 187.2,267.67 188.1,267.66 189,267.43 189.9,267.59 190.8,267.6 191.7,267.62 192.6,267.35 193.5,266.68 194.4,266.55 195.3,265.59 196.2,265.1 197.1,265.95 198,266.12 198.9,266.02 199.8,265.95 200.7,265.5 201.6,264.79 202.5,264.46 203.4,264.31 204.3,264.82 205.2,265.11 206.1,265.62 207,266.01 207.9,266.42 208.8,266.71 209.7,266.15 210.6,265.4 211.5,264.62 212.4,265.17 213.3,265.99 214.2,265.93 215.1,266.57 216,266.43 216.9,265.69 217.8,265.44 218.7,265.39 219.6,265.24 220.5,265.18 221.4,264.67 222.3,264.52 223.2,264.74 224.1,265.01 225,265.93 225.9,266.27 226.8,266.75 227.7,266.72 228.6,265.77 229.5,265.89 230.4,266.33 231.3,266.92 232.2,267.18 233.1,266.88 234,266.62 234.9,265.54 235.8,265.1 236.7,265.44 237.6,265.78 238.5,265.39 239.4,265.25 240.3,265.2 241.2,264.33 242.1,264.14 243,263.88 243.9,264.7 244.8,266.24 245.7,267.4 246.6,267.02 247.5,265.99 248.4,265.17 249.3,265.14 250.2,265.45 251.1,266.13 252,266.45 252.9,266.84 253.8,266.76 254.7,266.39 255.6,266.4 256.5,267.03 257.4,267.85 258.3,267.63 259.2,267.43 260.1,266.95 261,266.05 261.9,265.43 262.8,266.1 263.7,266.81 264.6,265.79 265.5,264.28 266.4,263.44 267.3,264.27 268.2,265.41 269.1,266.55 270,266.9 270.9,266.43 271.8,265.29 272.7,264.61 273.6,264.63 274.5,265.82 275.4,267.39 276.3,267.62 277.2,266.79 278.1,266.22 279,264.81 279.9,264.94 280.8,266.17 281.7,266.3 282.6,265.73 283.5,264.12 284.4,263.62 285.3,264.96 286.2,266.37 287.1,266.93 288,266.86 288.9,267.28 289.8,267.05 290.7,265.93 291.6,264.35 292.5,263.77 293.4,264.92 294.3,266.28 295.2,266.94 296.1,267.74 297,268.04 297.9,265.88 298.8,264.49 299.7,265.32 300.6,267.22 301.5,267.7 302.4,266.89 303.3,266.22 304.2,266.84 305.1,266.55 306,265.23 306.9,264.19 307.8,263.58 308.7,264.3 309.6,265.39 310.5,266.2 311.4,266.18 312.3,266.2 313.2,266.64 314.1,266.62 315,265.82 315.9,265.34 316.8,265.96 317.7,266.76 318.6,266.93 319.5,267.1 320.4,266.33 321.3,266.44 322.2,266.02 323.1,266.78 324,267.74 324.9,268.18 325.8,268.3 326.7,266.74 327.6,264.86 328.5,264.93 329.4,266.02 330.3,266.26 331.2,265.21 332.1,264.64 333,263.65 333.9,265.01 334.8,266.33 335.7,266.99 336.6,266.09" stroke="#9a2aa8" stroke-width="1.5"/>
<polyline points="43.2,268.68 44.1,268.07 45,268.04 45.9,268.09 46.8,268.21 47.7,268.48 48.6,268.38 49.5,268.03 50.4,267.91 51.3,268.81 52.2,269.53 53.1,270.2 54,269.99 54.9,269.9 55.8,269.78 56.7,270.09 57.6,270.09 58.5,269.73 59.4,269.39 60.3,268.76 61.2,267.36 62.1,265.11 63,265.72 63.9,267.42 64.8,268.07 65.7,268.58 66.6,268.15 67.5,267.97 68.4,267.94 69.3,266.07 70.2,267 71.1,268.96 72,268.7 72.9,268.6 73.8,269.06 74.7,269.04 75.6,269.03 76.5,268.73 77.4,268.29 78.3,267.92 79.2,267.78 80.1,267.41 81,267.42 81.9,268.52 82.8,268.45 83.7,268.26 84.6,268.54 85.5,266.75 86.4,265.33 87.3,267.73 88.2,268.95 89.1,268.68 90,269.03 90.9,268.82 91.8,268.57 92.7,268.66 93.6,269.03 94.5,268.94 95.4,268.7 96.3,268.5 97.2,268.76 98.1,268.58 99,267.67 99.9,266.24 100.8,267.52 101.7,268.79 102.6,268.78 103.5,269.03 104.4,269.35 105.3,269.44 106.2,267.32 107.1,265.19 108,266.36 108.9,267.98 109.8,266.27 110.7,264.14 111.6,267.67 112.5,266.77 113.4,263.04 114.3,266.6 115.2,264.62 116.1,259.31 117,261.67 117.9,265.99 118.8,266.1 119.7,264.85 120.6,267.99 121.5,268.45 122.4,268.22 123.3,268.72 124.2,268.36 125.1,267.51 126,266.66 126.9,266.23 127.8,266.48 128.7,266.77 129.6,266.51 130.5,265.72 131.4,265.66 132.3,266.67 133.2,267.58 134.1,266.42 135,265.16 135.9,266.23 136.8,264.44 137.7,260.94 138.6,264.04 139.5,262.18 140.4,265.04 141.3,261.37 142.2,260.11 143.1,258.54 144,259.88 144.9,264.59 145.8,266.07 146.7,268.14 147.6,268.2 148.5,268.1 149.4,267.98 150.3,267.96 151.2,266.73 152.1,265.44 153,267.58 153.9,269.17 154.8,268.74 155.7,268.72 156.6,268.67 157.5,268.9 158.4,268.83 159.3,268.85 160.2,268.81 161.1,268.95 162,268.57 162.9,268.07 163.8,268.06 164.7,267.99 165.6,268.13 166.5,268.14 167.4,268.02 168.3,268.13 169.2,267.77 170.1,267.43 171,267.26 171.9,266.87 172.8,264.82 173.7,266.3 174.6,268.53 175.5,268.44 176.4,268.3 177.3,268.16 178.2,268.39 179.1,268.76 180,268.72 180.9,268.43 181.8,267.64 182.7,265.3 183.6,266.17 184.5,268.13 185.4,268.1 186.3,268.51 187.2,268.45 188.1,268.16 189,267.78 189.9,267.72 190.8,267.67 191.7,267.53 192.6,267.24 193.5,267.46 194.4,267.14 195.3,265.62 196.2,265.29 197.1,266.43 198,267.05 198.9,267.06 199.8,266.84 200.7,266.91 201.6,266.33 202.5,265.58 203.4,265.34 204.3,265.86 205.2,266.48 206.1,266.62 207,266.23 207.9,266.67 208.8,267.22 209.7,266.2 210.6,265.2 211.5,264.95 212.4,265.56 213.3,265.91 214.2,265.64 215.1,265.82 216,265.1 216.9,264.6 217.8,264.59 218.7,265.15 219.6,265.26 220.5,265.08 221.4,264.06 222.3,263.21 223.2,264.34 224.1,265.25 225,266.11 225.9,266.21 226.8,266.16 227.7,266.2 228.6,265.73 229.5,265.86 230.4,266.25 231.3,267.03 232.2,267.31 233.1,266.71 234,266.64 234.9,266.51 235.8,266 236.7,266.1 237.6,266.74 238.5,266.81 239.4,266.64 240.3,265.78 241.2,264.37 242.1,264.19 243,263.81 243.9,264.02 244.8,264.83 245.7,265.45 246.6,265.13 247.5,264.56 248.4,263.91 249.3,263.77 250.2,264.84 251.1,266.33 252,266.66 252.9,266.89 253.8,266.94 254.7,266.62 255.6,266.45 256.5,266.83 257.4,267.05 258.3,266.9 259.2,267.12 260.1,266.55 261,265.4 261.9,265 262.8,265.36 263.7,266.01 264.6,265.99 265.5,264.85 266.4,263.73 267.3,264.27 268.2,265.58 269.1,266.79 270,266.91 270.9,266.28 271.8,264.73 272.7,263.54 273.6,263.92 274.5,265.52 275.4,266.77 276.3,267.47 277.2,267.18 278.1,266.69 279,265.56 279.9,265.51 280.8,266.75 281.7,267.04 282.6,266.01 283.5,264.47 284.4,263.37 285.3,263.82 286.2,265.43 287.1,266.01 288,265.78 288.9,266.01 289.8,265.65 290.7,264.52 291.6,263.54 292.5,264.09 293.4,265.46 294.3,266.39 295.2,267.01 296.1,267.06 297,266.7 297.9,265.19 298.8,264.15 299.7,264.58 300.6,266.11 301.5,266.96 302.4,267.39 303.3,267.19 304.2,266.41 305.1,266.09 306,265.43 306.9,264.3 307.8,263.97 308.7,264.87 309.6,266.06 310.5,266.89 311.4,267.04 312.3,267.11 313.2,267.19 314.1,266.83 315,265.6 315.9,265.39 316.8,266.11 317.7,266.87 318.6,266.93 319.5,266.77 320.4,266 321.3,265.45 322.2,265.09 323.1,265.76 324,266.48 324.9,266.91 325.8,266.78 326.7,265.73 327.6,263.79 328.5,263.19 329.4,264.56 330.3,266.46 331.2,266.89 332.1,265.96 333,264.85 333.9,265.06 334.8,265.5 335.7,266.05 336.6,264.7" stroke="#c030c8" stroke-width="1.3" stroke-dasharray="2.5 1.5"/>
</g>
<rect x="42.9" y="234.25" width="294.7" height="42.8" fill="none" stroke="#262626" stroke-width="1.3"/>
<text x="46.44" y="243.75" font-size="7.6" text-anchor="start" fill="#262626" textLength="23.21" lengthAdjust="spacingAndGlyphs">Run 4</text>
<text x="25.54" y="236.85" font-size="7.6" text-anchor="start" fill="#262626" style="stroke-width:0.2px" textLength="8.41" lengthAdjust="spacingAndGlyphs">10</text>
<text x="34.52" y="233.65" font-size="6.4" text-anchor="start" fill="#262626" style="stroke-width:0.15px" textLength="4.97" lengthAdjust="spacingAndGlyphs">8</text>
<text x="25.54" y="280.95" font-size="7.6" text-anchor="start" fill="#262626" style="stroke-width:0.2px" textLength="8.41" lengthAdjust="spacingAndGlyphs">10</text>
<text x="35.32" y="277.95" font-size="6.4" text-anchor="start" fill="#262626" style="stroke-width:0.15px" textLength="4.57" lengthAdjust="spacingAndGlyphs">2</text>
<path d="M42.9 321.27H337.6M42.9 314.13H337.6M42.9 307H337.6M42.9 299.87H337.6M42.9 292.73H337.6" stroke="#bdbdbd" stroke-width="0.7" stroke-dasharray="1 1.6"/>
<clipPath id="cl4"><rect x="42.9" y="285.6" width="294.7" height="42.8"/></clipPath>
<g clip-path="url(#cl4)" fill="none" stroke-linejoin="round">
<polyline points="43.2,317 44.1,317.11 45,317.51 45.9,317.46 46.8,317.39 47.7,317.41 48.6,317.66 49.5,317.83 50.4,317.6 51.3,317.23 52.2,317.4 53.1,317.09 54,317.51 54.9,317.99 55.8,318.03 56.7,317.43 57.6,317.34 58.5,316.93 59.4,316.83 60.3,317 61.2,317.27 62.1,316.19 63,316.49 63.9,317.43 64.8,317.2 65.7,317.2 66.6,317.23 67.5,317.17 68.4,317.17 69.3,317.01 70.2,316.95 71.1,317.06 72,317.44 72.9,317.15 73.8,316.9 74.7,317.3 75.6,317.14 76.5,317.13 77.4,317.91 78.3,318.24 79.2,317.63 80.1,317.26 81,317.48 81.9,317.61 82.8,317.43 83.7,317.74 84.6,317.88 85.5,317.21 86.4,316.83 87.3,317.19 88.2,317.46 89.1,317.36 90,317.47 90.9,317.64 91.8,317.61 92.7,317.76 93.6,317.87 94.5,318.13 95.4,317.56 96.3,317.49 97.2,317.31 98.1,317.32 99,317.6 99.9,317.67 100.8,317.72 101.7,317.83 102.6,318.05 103.5,318 104.4,317.5 105.3,317.9 106.2,317.58 107.1,316.65 108,317.08 108.9,317.59 109.8,316.23 110.7,315.31 111.6,317.48 112.5,316.86 113.4,314.48 114.3,316.11 115.2,314.6 116.1,310.42 117,312.41 117.9,315.87 118.8,316.38 119.7,316.23 120.6,316.74 121.5,318.83 122.4,319.04 123.3,317.39 124.2,317.26 125.1,317.44 126,317.57 126.9,317.67 127.8,317.52 128.7,317.24 129.6,317.22 130.5,317.26 131.4,317.29 132.3,317.35 133.2,317.47 134.1,316.89 135,316.59 135.9,316.33 136.8,314.26 137.7,312.11 138.6,314.22 139.5,313.86 140.4,314.75 141.3,311.75 142.2,310.81 143.1,309.23 144,310.36 144.9,315.57 145.8,316.08 146.7,316.62 147.6,316.79 148.5,316.86 149.4,316.52 150.3,316.49 151.2,316.49 152.1,316.56 153,316.96 153.9,317.22 154.8,317.02 155.7,317.17 156.6,317.9 157.5,317.67 158.4,317.23 159.3,317.17 160.2,316.77 161.1,317.11 162,316.98 162.9,317.07 163.8,317.23 164.7,317.29 165.6,317.11 166.5,317 167.4,317.23 168.3,317.74 169.2,318.32 170.1,318.03 171,317.82 171.9,317.13 172.8,316.18 173.7,316.6 174.6,317.54 175.5,317.71 176.4,317.4 177.3,317.35 178.2,317.73 179.1,318.11 180,318.01 180.9,317.67 181.8,317.15 182.7,316.19 183.6,316.49 184.5,317.58 185.4,317.65 186.3,317.72 187.2,318.07 188.1,318.14 189,317.36 189.9,317.17 190.8,317.38 191.7,317.24 192.6,317.08 193.5,317.07 194.4,316.06 195.3,316.02 196.2,316.58 197.1,316.75 198,316.9 198.9,316.97 199.8,316.54 200.7,316.26 201.6,316.34 202.5,317.29 203.4,317.39 204.3,317.39 205.2,317.51 206.1,317.49 207,317.59 207.9,316.65 208.8,315.81 209.7,316.02 210.6,316.58 211.5,317.33 212.4,317.88 213.3,317.66 214.2,317.86 215.1,317.64 216,317.57 216.9,317.49 217.8,318.17 218.7,318 219.6,317.57 220.5,317.96 221.4,317.54 222.3,316.77 223.2,316.1 224.1,315.64 225,315.66 225.9,316.1 226.8,316.96 227.7,317.66 228.6,318.12 229.5,317.54 230.4,318.04 231.3,318.16 232.2,317.66 233.1,317.2 234,317.04 234.9,317 235.8,317.47 236.7,317.85 237.6,317.29 238.5,316.86 239.4,316.21 240.3,316.17 241.2,317.22 242.1,317.53 243,316.58 243.9,316.51 244.8,317.16 245.7,317.7 246.6,317.75 247.5,317.86 248.4,317.85 249.3,317.48 250.2,317.45 251.1,317.06 252,316.15 252.9,315.7 253.8,316.49 254.7,317.56 255.6,318.19 256.5,317.7 257.4,316.73 258.3,316.43 259.2,317.02 260.1,317.72 261,317.71 261.9,317.36 262.8,316.73 263.7,316.33 264.6,316.41 265.5,317.33 266.4,317.92 267.3,317.76 268.2,317.63 269.1,317.11 270,318.01 270.9,318.62 271.8,318.92 272.7,318.8 273.6,319.06 274.5,319.11 275.4,318.68 276.3,317.73 277.2,316.2 278.1,315.3 279,314.24 279.9,313.65 280.8,312.45 281.7,311.84 282.6,310.73 283.5,311.72 284.4,310.93 285.3,311 286.2,310.52 287.1,310.32 288,310.49 288.9,310.49 289.8,310 290.7,309.9 291.6,310.07 292.5,309.36 293.4,308.96 294.3,309.45 295.2,308.9 296.1,308.29 297,308.5 297.9,308.44 298.8,308.01 299.7,307.73 300.6,308.09 301.5,308.33 302.4,307.97 303.3,307.82 304.2,308.24 305.1,308.39 306,308.06 306.9,308.39 307.8,308.65 308.7,308.3 309.6,308.18 310.5,308.67 311.4,308.73 312.3,309.11 313.2,308.37 314.1,308.68 315,308.68 315.9,308.42 316.8,309.14 317.7,309.34 318.6,308.96 319.5,309.77 320.4,309.63 321.3,309.62 322.2,309.61 323.1,309.86 324,309.13 324.9,309.87 325.8,309.93 326.7,309.16 327.6,310.02 328.5,309.97 329.4,310.48 330.3,310.21 331.2,310.51 332.1,310.79 333,310.52 333.9,311.19 334.8,311.1 335.7,311.46 336.6,311.26" stroke="#1a80c8" stroke-width="1.9" stroke-dasharray="7 1 1.6 1"/>
<polyline points="43.2,318.15 44.1,317.76 45,318.34 45.9,318.2 46.8,318.24 47.7,318.25 48.6,318.3 49.5,318.58 50.4,318.49 51.3,318.57 52.2,318.55 53.1,318.5 54,319.26 54.9,318.69 55.8,318.13 56.7,317.37 57.6,317.54 58.5,317.94 59.4,317.76 60.3,317.5 61.2,317.33 62.1,316.31 63,316.71 63.9,318.31 64.8,318.83 65.7,318.95 66.6,319.07 67.5,318.86 68.4,318.65 69.3,317.27 70.2,317.53 71.1,317.45 72,317.7 72.9,317.79 73.8,317.48 74.7,317.82 75.6,317.41 76.5,317.53 77.4,317.83 78.3,317.67 79.2,317.3 80.1,317.35 81,317.87 81.9,318.31 82.8,318.4 83.7,318.45 84.6,318.53 85.5,317.67 86.4,316.77 87.3,318.32 88.2,318.78 89.1,318.63 90,318.63 90.9,318.76 91.8,318.67 92.7,319.07 93.6,319.14 94.5,318.78 95.4,318.47 96.3,318.77 97.2,318.82 98.1,318.89 99,318.18 99.9,317.66 100.8,318.17 101.7,319.09 102.6,318.86 103.5,318.02 104.4,318.15 105.3,318.27 106.2,317.35 107.1,316.76 108,317.26 108.9,318.65 109.8,316.98 110.7,315.31 111.6,318.28 112.5,317.74 113.4,314.47 114.3,317.03 115.2,315.16 116.1,310.54 117,312.78 117.9,317.06 118.8,317.08 119.7,316.07 120.6,317.64 121.5,319.24 122.4,319.43 123.3,318.7 124.2,318.34 125.1,318.18 126,317.89 126.9,317.65 127.8,317.73 128.7,317.74 129.6,317.62 130.5,317.16 131.4,317.12 132.3,317.35 133.2,317.4 134.1,317.02 135,316.61 135.9,316.81 136.8,315.05 137.7,312 138.6,315.02 139.5,313.53 140.4,315.89 141.3,312.4 142.2,311.17 143.1,309.73 144,311.06 144.9,316.18 145.8,317.58 146.7,319.01 147.6,318.91 148.5,318.18 149.4,317.62 150.3,318.22 151.2,317.29 152.1,316.54 153,317.09 153.9,317.51 154.8,317.75 155.7,317.96 156.6,318.05 157.5,317.87 158.4,318.17 159.3,318.41 160.2,318.15 161.1,318.27 162,318.1 162.9,318.09 163.8,318.14 164.7,318.6 165.6,318.74 166.5,318.52 167.4,318.5 168.3,318.15 169.2,317.65 170.1,317.09 171,316.71 171.9,316.35 172.8,316.03 173.7,316.42 174.6,317.65 175.5,317.94 176.4,318.01 177.3,317.85 178.2,317.94 179.1,317.95 180,317.6 180.9,317.69 181.8,317.65 182.7,316.38 183.6,317.04 184.5,318.98 185.4,319.17 186.3,319.02 187.2,319.22 188.1,319.68 189,318.05 189.9,316.85 190.8,317.02 191.7,317 192.6,316.79 193.5,316.89 194.4,316.46 195.3,316.61 196.2,317.24 197.1,317.55 198,317.11 198.9,316.95 199.8,316.4 200.7,315.65 201.6,315.98 202.5,317 203.4,317.92 204.3,317.83 205.2,317.35 206.1,317.77 207,317.54 207.9,316.68 208.8,315.38 209.7,315.38 210.6,316.31 211.5,316.68 212.4,317.39 213.3,317.99 214.2,318.27 215.1,317.51 216,316.48 216.9,316.09 217.8,316.59 218.7,317.19 219.6,317.65 220.5,317.43 221.4,317.1 222.3,317.37 223.2,317.4 224.1,316.33 225,316.19 225.9,316.9 226.8,317.6 227.7,317.55 228.6,317.96 229.5,317.94 230.4,317.98 231.3,317.73 232.2,317.25 233.1,317 234,317.22 234.9,317.4 235.8,317.87 236.7,318.1 237.6,317.25 238.5,316.29 239.4,315.46 240.3,315.47 241.2,316.2 242.1,316.5 243,316.34 243.9,316.22 244.8,316.23 245.7,316.78 246.6,317.48 247.5,318.33 248.4,318.34 249.3,317.78 250.2,317.8 251.1,316.82 252,315.92 252.9,316.02 253.8,317.05 254.7,317.86 255.6,317.94 256.5,317.75 257.4,317 258.3,317.26 259.2,317.72 260.1,317.61 261,317.75 261.9,317.86 262.8,317.51 263.7,316.86 264.6,316.45 265.5,317.37 266.4,318.02 267.3,317.9 268.2,318.12 269.1,317.63 270,318.19 270.9,318.99 271.8,319.6 272.7,319.38 273.6,319.41 274.5,319.93 275.4,318.88 276.3,317.75 277.2,317.07 278.1,316.28 279,315.46 279.9,313.48 280.8,313.23 281.7,312.22 282.6,311.84 283.5,311.37 284.4,311.84 285.3,310.88 286.2,311.24 287.1,311.32 288,310.31 288.9,310.56 289.8,310.12 290.7,310.44 291.6,310.69 292.5,310.67 293.4,309.35 294.3,309.54 295.2,309.75 296.1,309.83 297,309.31 297.9,308.78 298.8,308.92 299.7,308.65 300.6,308.42 301.5,308.2 302.4,308.56 303.3,308.57 304.2,308.48 305.1,308.47 306,308.18 306.9,308.45 307.8,309.03 308.7,308.69 309.6,308.39 310.5,309.3 311.4,309.14 312.3,309.69 313.2,309.15 314.1,309.07 315,308.83 315.9,309.73 316.8,310.16 317.7,309.21 318.6,309.32 319.5,309.76 320.4,309.39 321.3,309.62 322.2,309.66 323.1,309.89 324,310.22 324.9,309.96 325.8,310.29 326.7,309.95 327.6,310.3 328.5,309.72 329.4,310.08 330.3,310.9 331.2,310.64 332.1,311.15 333,311.29 333.9,311.68 334.8,311.68 335.7,311.9 336.6,311.71" stroke="#f0b020" stroke-width="1.5" stroke-dasharray="5 1.5 1.5 1.5"/>
<polyline points="43.2,321.42 44.1,321.43 45,321.56 45.9,321.44 46.8,321.6 47.7,321.66 48.6,321.57 49.5,321.25 50.4,321.43 51.3,321.49 52.2,321.65 53.1,321.61 54,321.49 54.9,321.38 55.8,321.8 56.7,321.29 57.6,321.45 58.5,321.59 59.4,321.21 60.3,321.04 61.2,320.05 62.1,316.53 63,317.58 63.9,320.35 64.8,320.46 65.7,320.57 66.6,320.79 67.5,320.72 68.4,319.93 69.3,317.39 70.2,318.45 71.1,320.83 72,321.55 72.9,321.71 73.8,321.56 74.7,320.88 75.6,320.24 76.5,320.49 77.4,320.47 78.3,320.3 79.2,320.02 80.1,319.71 81,320.01 81.9,320.35 82.8,320 83.7,320.21 84.6,320.45 85.5,318.56 86.4,316.8 87.3,319.56 88.2,320.71 89.1,320.64 90,320.31 90.9,320.03 91.8,319.89 92.7,320.38 93.6,320.44 94.5,320.28 95.4,320.27 96.3,321.04 97.2,321.52 98.1,321.14 99,319.69 99.9,317.66 100.8,319.13 101.7,320.91 102.6,321.93 103.5,322.4 104.4,321.99 105.3,321.93 106.2,319.5 107.1,316.68 108,318.74 108.9,321.54 109.8,318.76 110.7,315.61 111.6,320.25 112.5,318.73 113.4,314.6 114.3,318.11 115.2,316.14 116.1,310.71 117,313.47 117.9,318.99 118.8,318.77 119.7,316.2 120.6,319.27 121.5,319.74 122.4,319.72 123.3,320.45 124.2,320.04 125.1,319.37 126,318.28 126.9,317.63 127.8,318.01 128.7,318.6 129.6,318.3 130.5,317.56 131.4,317.52 132.3,318.62 133.2,319.86 134.1,318.46 135,316.55 135.9,317.96 136.8,315.9 137.7,312.21 138.6,315.54 139.5,313.8 140.4,316.79 141.3,312.66 142.2,311.3 143.1,309.77 144,311.25 144.9,316.07 145.8,318.31 146.7,321.15 147.6,321.31 148.5,321.12 149.4,321.16 150.3,320.88 151.2,318.73 152.1,316.73 153,319.3 153.9,320.55 154.8,320.62 155.7,321.48 156.6,322.6 157.5,322.46 158.4,322.37 159.3,322.08 160.2,321.29 161.1,321.27 162,321.07 162.9,321.38 163.8,321.24 164.7,321.57 165.6,321.61 166.5,321.3 167.4,321.05 168.3,320.76 169.2,320.89 170.1,320.58 171,320.5 171.9,319.01 172.8,316.06 173.7,317.37 174.6,318.69 175.5,319.35 176.4,319.91 177.3,319.84 178.2,320.05 179.1,319.93 180,319.7 180.9,320.01 181.8,319.21 182.7,316.41 183.6,317.31 184.5,319.48 185.4,319.38 186.3,319.26 187.2,319.3 188.1,319.47 189,318.87 189.9,318.72 190.8,318.48 191.7,318.18 192.6,318.03 193.5,318.34 194.4,318.08 195.3,318.16 196.2,318.73 197.1,319.08 198,318.86 198.9,318.68 199.8,318.23 200.7,316.76 201.6,316.17 202.5,317.21 203.4,317.54 204.3,317.58 205.2,318.21 206.1,318.85 207,318.77 207.9,318.06 208.8,316.63 209.7,316.04 210.6,316.67 211.5,317.69 212.4,318.24 213.3,318.98 214.2,319.16 215.1,318.7 216,318.44 216.9,318.25 217.8,318.91 218.7,318.59 219.6,318.21 220.5,318.13 221.4,318.43 222.3,318.59 223.2,317.79 224.1,317.42 225,317.97 225.9,318.04 226.8,319.06 227.7,319.9 228.6,320.09 229.5,319.82 230.4,319.98 231.3,319.59 232.2,319.36 233.1,319.01 234,318.85 234.9,319.24 235.8,318.79 236.7,318.08 237.6,318.28 238.5,318.03 239.4,316.77 240.3,316.82 241.2,317.75 242.1,317.93 243,318.02 243.9,318.24 244.8,318.16 245.7,318.72 246.6,318.79 247.5,318.69 248.4,319.07 249.3,318.87 250.2,318.78 251.1,317.9 252,316.93 252.9,317.06 253.8,318.36 254.7,318.9 255.6,318.57 256.5,318.43 257.4,318.17 258.3,317.8 259.2,317.89 260.1,318.66 261,319.69 261.9,320.42 262.8,319.9 263.7,319.24 264.6,319.21 265.5,319.47 266.4,319.31 267.3,319.24 268.2,319.02 269.1,318.39 270,319.37 270.9,319.91 271.8,320.76 272.7,321.33 273.6,321.56 274.5,321.79 275.4,321.93 276.3,321.19 277.2,319.71 278.1,319.75 279,320.79 279.9,321.89 280.8,322.07 281.7,322.04 282.6,321.61 283.5,320.69 284.4,319.24 285.3,317.74 286.2,318.71 287.1,320.09 288,320.93 288.9,321.24 289.8,320.82 290.7,320.39 291.6,319.73 292.5,318.46 293.4,318.49 294.3,319.65 295.2,320.57 296.1,320.36 297,319.48 297.9,318.58 298.8,318.6 299.7,319.86 300.6,320.37 301.5,319.9 302.4,318.91 303.3,318.29 304.2,318.31 305.1,318.96 306,320.39 306.9,321.12 307.8,320.85 308.7,320.66 309.6,321.24 310.5,322.01 311.4,322.39 312.3,322.44 313.2,322.46 314.1,321.88 315,320.75 315.9,320.09 316.8,320.99 317.7,321.65 318.6,322.04 319.5,321.75 320.4,321.66 321.3,321.8 322.2,320.54 323.1,317.86 324,318.07 324.9,320.22 325.8,320.73 326.7,319.92 327.6,318.41 328.5,317.18 329.4,316.98 330.3,319.05 331.2,321.8 332.1,322.66 333,323.3 333.9,322.89 334.8,322.06 335.7,319.97 336.6,319.13" stroke="#f2521c" stroke-width="1.6"/>
<polyline points="43.2,320.37 44.1,320.63 45,320.73 45.9,321.02 46.8,321.36 47.7,320.73 48.6,320.67 49.5,320.55 50.4,320.63 51.3,320.66 52.2,320.57 53.1,320.23 54,320.12 54.9,320.06 55.8,320.98 56.7,321.45 57.6,321.58 58.5,321.08 59.4,321.18 60.3,321.23 61.2,320.37 62.1,316.67 63,317.82 63.9,321.19 64.8,321.55 65.7,321.41 66.6,321.53 67.5,321.63 68.4,320.7 69.3,317.58 70.2,318.69 71.1,321.05 72,321.23 72.9,321.14 73.8,320.91 74.7,320.93 75.6,320.35 76.5,320.41 77.4,320.55 78.3,320.62 79.2,320.76 80.1,320.72 81,320.6 81.9,320.86 82.8,320.7 83.7,320.71 84.6,320.77 85.5,318.4 86.4,316.64 87.3,319.39 88.2,320.65 89.1,321.02 90,321.23 90.9,320.64 91.8,320.27 92.7,320.77 93.6,320.66 94.5,320.5 95.4,320.08 96.3,320.47 97.2,320.56 98.1,320.65 99,319.52 99.9,317.63 100.8,318.83 101.7,320.13 102.6,320.36 103.5,320.67 104.4,320.43 105.3,320.32 106.2,318.63 107.1,316.64 108,318.16 108.9,320.17 109.8,318.04 110.7,315.58 111.6,320.47 112.5,318.94 113.4,314.51 114.3,318.1 115.2,316.23 116.1,310.51 117,313.3 117.9,318.95 118.8,318.65 119.7,316.12 120.6,318.96 121.5,319.68 122.4,319.61 123.3,320.28 124.2,319.98 125.1,319.03 126,318.08 126.9,317.6 127.8,317.85 128.7,318.22 129.6,318.09 130.5,317.29 131.4,317.24 132.3,318.14 133.2,319.02 134.1,318.04 135,316.61 135.9,317.62 136.8,315.82 137.7,312.18 138.6,315.65 139.5,313.67 140.4,316.53 141.3,312.58 142.2,311.34 143.1,309.86 144,311.32 144.9,316.16 145.8,318.09 146.7,320.5 147.6,320.8 148.5,320.87 149.4,320.75 150.3,320.65 151.2,318.66 152.1,316.75 153,319.46 153.9,320.55 154.8,320.84 155.7,320.86 156.6,321.05 157.5,321.44 158.4,321.54 159.3,321.61 160.2,321.06 161.1,321.12 162,321.06 162.9,320.77 163.8,320.26 164.7,320.29 165.6,320.6 166.5,320.24 167.4,319.7 168.3,319.73 169.2,319.64 170.1,319.3 171,319.61 171.9,318.58 172.8,316.34 173.7,317.38 174.6,318.8 175.5,319.15 176.4,319.99 177.3,320.08 178.2,319.97 179.1,319.94 180,319.73 180.9,320.1 181.8,319.3 182.7,316.63 183.6,317.45 184.5,319.64 185.4,319.53 186.3,319.96 187.2,320.28 188.1,319.79 189,319.27 189.9,319.62 190.8,319.61 191.7,319.45 192.6,319.17 193.5,319.25 194.4,318.45 195.3,318.53 196.2,319.34 197.1,319.54 198,318.75 198.9,317.93 199.8,317.12 200.7,316.28 201.6,317.14 202.5,318.12 203.4,318.42 204.3,318.82 205.2,318.99 206.1,319.05 207,319.66 207.9,319.84 208.8,318.7 209.7,318.23 210.6,319.21 211.5,320.34 212.4,320.61 213.3,320.82 214.2,320.58 215.1,320.26 216,320.17 216.9,318.48 217.8,317.81 218.7,317.98 219.6,318.19 220.5,318.1 221.4,317.84 222.3,317.8 223.2,317.3 224.1,317.16 225,317.47 225.9,317.47 226.8,318.04 227.7,318.32 228.6,318.72 229.5,318.3 230.4,318.36 231.3,318.04 232.2,317.53 233.1,317.76 234,317.91 234.9,318.09 235.8,318.58 236.7,318.54 237.6,318.51 238.5,318.04 239.4,317.22 240.3,317.6 241.2,318.41 242.1,317.94 243,316.84 243.9,316.75 244.8,316.65 245.7,317.31 246.6,317.52 247.5,317.54 248.4,317.76 249.3,317.5 250.2,317.58 251.1,316.68 252,315.25 252.9,315.03 253.8,316.41 254.7,316.95 255.6,316.78 256.5,316.75 257.4,317.69 258.3,319.01 259.2,319.46 260.1,319.69 261,319.1 261.9,318.69 262.8,318.6 263.7,317.93 264.6,317.56 265.5,318.7 266.4,319.55 267.3,319.62 268.2,319.62 269.1,318.91 270,319.43 270.9,320.12 271.8,320.52 272.7,320.55 273.6,320.51 274.5,320.38 275.4,320.64 276.3,320.04 277.2,318.7 278.1,318.48 279,319.64 279.9,320.96 280.8,320.5 281.7,320.04 282.6,319.58 283.5,318.65 284.4,317.42 285.3,316.11 286.2,317.27 287.1,319.02 288,319.47 288.9,319.25 289.8,319.09 290.7,318.81 291.6,318.01 292.5,316.37 293.4,316.5 294.3,319.19 295.2,321.17 296.1,321.02 297,320.01 297.9,318.93 298.8,318.61 299.7,319.4 300.6,319.7 301.5,319.23 302.4,318.45 303.3,317.74 304.2,317.84 305.1,318.39 306,319.1 306.9,319.75 307.8,319.41 308.7,319.09 309.6,319.57 310.5,319.79 311.4,320.27 312.3,320.43 313.2,320.13 314.1,319.89 315,319.59 315.9,318.98 316.8,319.47 317.7,319.91 318.6,320.28 319.5,320.02 320.4,320.2 321.3,320.32 322.2,319.44 323.1,317.22 324,316.98 324.9,318.79 325.8,319.58 326.7,319.34 327.6,317.86 328.5,316.64 329.4,316.46 330.3,317.33 331.2,318.95 332.1,319.68 333,320.38 333.9,320.46 334.8,319.85 335.7,319.1 336.6,319.22" stroke="#9a2aa8" stroke-width="1.5"/>
<polyline points="43.2,320.04 44.1,320.48 45,320.79 45.9,320.79 46.8,320.68 47.7,320.05 48.6,319.98 49.5,320.26 50.4,320.5 51.3,320.15 52.2,320.04 53.1,319.95 54,320.78 54.9,321.16 55.8,321.56 56.7,321.65 57.6,321.67 58.5,321.76 59.4,321.47 60.3,321 61.2,320.27 62.1,316.47 63,317.71 63.9,320.39 64.8,320.37 65.7,320.49 66.6,320.42 67.5,320.41 68.4,319.75 69.3,317.36 70.2,318.19 71.1,319.57 72,319.9 72.9,320.54 73.8,320.63 74.7,320.61 75.6,319.97 76.5,320.16 77.4,320.37 78.3,319.95 79.2,319.75 80.1,319.74 81,320.33 81.9,320.79 82.8,320.79 83.7,320.79 84.6,320.46 85.5,318.35 86.4,316.67 87.3,319.48 88.2,320.51 89.1,320.67 90,320.8 90.9,320.87 91.8,321.1 92.7,321.66 93.6,321.24 94.5,320.47 95.4,320.14 96.3,320.39 97.2,320.53 98.1,320.2 99,319.07 99.9,317.57 100.8,318.49 101.7,319.67 102.6,320.44 103.5,320.56 104.4,320.6 105.3,320.84 106.2,319.03 107.1,316.76 108,318.25 108.9,320.27 109.8,317.75 110.7,315.25 111.6,319.72 112.5,318.41 113.4,314.5 114.3,317.62 115.2,315.77 116.1,310.56 117,313.27 117.9,318.31 118.8,318.06 119.7,316.12 120.6,319.37 121.5,319.81 122.4,319.71 123.3,320.33 124.2,319.9 125.1,319.32 126,318.18 126.9,317.61 127.8,317.89 128.7,318.08 129.6,317.63 130.5,317 131.4,316.96 132.3,317.71 133.2,318.63 134.1,317.83 135,316.7 135.9,317.45 136.8,315.68 137.7,312 138.6,315.45 139.5,313.81 140.4,316.48 141.3,312.63 142.2,311.35 143.1,309.73 144,311.12 144.9,316.18 145.8,318 146.7,320.18 147.6,320.13 148.5,320.19 149.4,320.36 150.3,319.87 151.2,318.11 152.1,316.56 153,318.75 153.9,319.7 154.8,320.01 155.7,320.13 156.6,320.1 157.5,319.92 158.4,320.01 159.3,320.41 160.2,319.57 161.1,319.3 162,319.5 162.9,319.57 163.8,319.24 164.7,318.77 165.6,318.75 166.5,318.75 167.4,318.14 168.3,318.69 169.2,320.15 170.1,320.13 171,319.72 171.9,318.53 172.8,316.2 173.7,317.55 174.6,319.56 175.5,319.48 176.4,319.19 177.3,319.33 178.2,319.61 179.1,319.5 180,319.4 180.9,319.38 181.8,318.58 182.7,316.49 183.6,317.1 184.5,318.92 185.4,318.99 186.3,318.96 187.2,319.05 188.1,319.06 189,318.68 189.9,318.44 190.8,318.07 191.7,318.35 192.6,318.35 193.5,318.1 194.4,317.57 195.3,317.69 196.2,318.08 197.1,318.15 198,318.29 198.9,318.48 199.8,317.73 200.7,316.58 201.6,316.4 202.5,317.53 203.4,318.49 204.3,318.47 205.2,318.04 206.1,317.65 207,317.15 207.9,316.58 208.8,315.72 209.7,315.5 210.6,315.91 211.5,316.79 212.4,317.3 213.3,317.41 214.2,317.49 215.1,317.44 216,317.8 216.9,317.97 217.8,318.69 218.7,318.72 219.6,318.74 220.5,318.05 221.4,317.23 222.3,317.22 223.2,317.13 224.1,316.89 225,316.56 225.9,316.65 226.8,317.46 227.7,318.58 228.6,320.06 229.5,319.72 230.4,319.6 231.3,319.81 232.2,319.41 233.1,318.62 234,318.65 234.9,318.71 235.8,318.89 236.7,319.22 237.6,319.09 238.5,318.32 239.4,317.34 240.3,317.63 241.2,318.52 242.1,318.53 243,318.12 243.9,318.15 244.8,318.13 245.7,318.73 246.6,319.13 247.5,319.46 248.4,319.59 249.3,319.42 250.2,319.39 251.1,318.2 252,317.41 252.9,317.06 253.8,317.5 254.7,317.99 255.6,317.59 256.5,317.42 257.4,317.39 258.3,317.52 259.2,317.98 260.1,318.63 261,318.47 261.9,318.47 262.8,318.1 263.7,317.6 264.6,317.87 265.5,318.92 266.4,319.25 267.3,319.15 268.2,319.46 269.1,318.76 270,319.36 270.9,320.1 271.8,320.57 272.7,320.52 273.6,320.63 274.5,320.26 275.4,320.09 276.3,319.98 277.2,318.71 278.1,318.52 279,319.7 279.9,320.68 280.8,321.03 281.7,321.59 282.6,320.91 283.5,319.85 284.4,318.71 285.3,316.75 286.2,317.3 287.1,318.76 288,319.29 288.9,319.85 289.8,320.56 290.7,320.46 291.6,319.45 292.5,317.63 293.4,317.56 294.3,319.31 295.2,320.43 296.1,320.22 297,319.13 297.9,318.18 298.8,317.76 299.7,318.06 300.6,318.27 301.5,317.89 302.4,317.23 303.3,316.61 304.2,316.41 305.1,317.48 306,318.43 306.9,318.36 307.8,318.38 308.7,318.4 309.6,319.23 310.5,319.88 311.4,320.09 312.3,319.78 313.2,319.24 314.1,318.93 315,319 315.9,318.45 316.8,318.81 317.7,319.22 318.6,319.75 319.5,319.81 320.4,320.6 321.3,321.58 322.2,320.72 323.1,319.21 324,319.13 324.9,320.74 325.8,321.88 326.7,321.58 327.6,320.11 328.5,318.46 329.4,317.56 330.3,318.15 331.2,319.85 332.1,320.81 333,321.15 333.9,320.72 334.8,320.15 335.7,319.64 336.6,319.8" stroke="#c030c8" stroke-width="1.3" stroke-dasharray="2.5 1.5"/>
</g>
<rect x="42.9" y="285.6" width="294.7" height="42.8" fill="none" stroke="#262626" stroke-width="1.3"/>
<text x="46.44" y="295.1" font-size="7.6" text-anchor="start" fill="#262626" textLength="23.21" lengthAdjust="spacingAndGlyphs">Run 5</text>
<text x="25.54" y="288.2" font-size="7.6" text-anchor="start" fill="#262626" style="stroke-width:0.2px" textLength="8.41" lengthAdjust="spacingAndGlyphs">10</text>
<text x="34.52" y="285" font-size="6.4" text-anchor="start" fill="#262626" style="stroke-width:0.15px" textLength="4.97" lengthAdjust="spacingAndGlyphs">8</text>
<text x="25.54" y="332.3" font-size="7.6" text-anchor="start" fill="#262626" style="stroke-width:0.2px" textLength="8.41" lengthAdjust="spacingAndGlyphs">10</text>
<text x="35.32" y="329.3" font-size="6.4" text-anchor="start" fill="#262626" style="stroke-width:0.15px" textLength="4.57" lengthAdjust="spacingAndGlyphs">2</text>
<path d="M42.9 372.62H337.6M42.9 365.48H337.6M42.9 358.35H337.6M42.9 351.22H337.6M42.9 344.08H337.6" stroke="#bdbdbd" stroke-width="0.7" stroke-dasharray="1 1.6"/>
<clipPath id="cl5"><rect x="42.9" y="336.95" width="294.7" height="42.8"/></clipPath>
<g clip-path="url(#cl5)" fill="none" stroke-linejoin="round">
<polyline points="43.2,368.53 44.1,368.49 45,368.67 45.9,368.35 46.8,368.43 47.7,368.92 48.6,368.44 49.5,368.07 50.4,368.69 51.3,368.14 52.2,368.46 53.1,368.55 54,368.2 54.9,368.3 55.8,367.75 56.7,367.66 57.6,367.66 58.5,367.92 59.4,368.34 60.3,368.42 61.2,368.33 62.1,367.41 63,367.69 63.9,368.42 64.8,368.72 65.7,369.38 66.6,369.31 67.5,369.27 68.4,368.78 69.3,368.41 70.2,368.66 71.1,368.86 72,369.15 72.9,369.38 73.8,369.17 74.7,368.91 75.6,369.22 76.5,369.47 77.4,368.99 78.3,368.73 79.2,369.01 80.1,368.42 81,368 81.9,367.65 82.8,367.92 83.7,368.06 84.6,368.12 85.5,367.95 86.4,367.54 87.3,367.96 88.2,368.5 89.1,368.96 90,369.61 90.9,369.23 91.8,369.26 92.7,369 93.6,368.42 94.5,367.92 95.4,367.93 96.3,367.53 97.2,367.67 98.1,368.22 99,368.32 99.9,368.81 100.8,368.44 101.7,368.48 102.6,368.74 103.5,368.99 104.4,369.73 105.3,369.32 106.2,368.56 107.1,367.97 108,368.32 108.9,368.96 109.8,367.62 110.7,366.34 111.6,367.77 112.5,367.48 113.4,365.84 114.3,367.35 115.2,365.37 116.1,361.93 117,363.86 117.9,367.99 118.8,368.35 119.7,367.38 120.6,368.3 121.5,370.16 122.4,370.35 123.3,368.64 124.2,368.7 125.1,368.87 126,368.88 126.9,368.82 127.8,368.82 128.7,368.85 129.6,368.63 130.5,368.39 131.4,368.38 132.3,368.38 133.2,368.06 134.1,367.95 135,367.69 135.9,367.46 136.8,365.58 137.7,363.3 138.6,365.46 139.5,364.78 140.4,365.95 141.3,363.22 142.2,362.29 143.1,360.71 144,361.84 144.9,367.08 145.8,367.92 146.7,368.52 147.6,367.98 148.5,368.29 149.4,368.67 150.3,368.33 151.2,368.05 152.1,367.89 153,367.86 153.9,368.22 154.8,368.06 155.7,368.54 156.6,368.36 157.5,368.73 158.4,369.21 159.3,369.48 160.2,368.82 161.1,368.12 162,368.11 162.9,368.34 163.8,368.39 164.7,368.2 165.6,368.19 166.5,368.35 167.4,368.83 168.3,368.99 169.2,368.76 170.1,368.07 171,367.5 171.9,367.73 172.8,367.56 173.7,367.93 174.6,368.96 175.5,369.03 176.4,368.8 177.3,368.96 178.2,368.78 179.1,368.4 180,368.54 180.9,368.87 181.8,368.73 182.7,367.51 183.6,367.92 184.5,368.63 185.4,368.02 186.3,367.75 187.2,368.22 188.1,368.56 189,368.64 189.9,368.36 190.8,368.4 191.7,369.02 192.6,369.21 193.5,369.02 194.4,368.78 195.3,369.04 196.2,369.02 197.1,368.98 198,368.85 198.9,368.94 199.8,368.46 200.7,368.48 201.6,368.09 202.5,367.79 203.4,367.72 204.3,367.97 205.2,368.6 206.1,368.64 207,368.04 207.9,367.83 208.8,368.19 209.7,368.62 210.6,368.73 211.5,368.95 212.4,369.36 213.3,369.23 214.2,368.99 215.1,369.51 216,369.01 216.9,368.51 217.8,368.17 218.7,367.23 219.6,366.94 220.5,367.5 221.4,368.1 222.3,368.11 223.2,368.14 224.1,368.05 225,366.87 225.9,366.36 226.8,366.86 227.7,367.97 228.6,368.5 229.5,368.55 230.4,368.46 231.3,367.96 232.2,367.99 233.1,368.63 234,369.18 234.9,368.69 235.8,368.1 236.7,367.8 237.6,368.08 238.5,368.65 239.4,368.5 240.3,368.36 241.2,367.91 242.1,367.97 243,367.6 243.9,367.42 244.8,367.86 245.7,368.23 246.6,368.66 247.5,368.89 248.4,368.8 249.3,368.76 250.2,368.37 251.1,368.05 252,368.58 252.9,369.66 253.8,369.72 254.7,368.3 255.6,367.62 256.5,367 257.4,367.23 258.3,368.15 259.2,369.02 260.1,369.05 261,369.12 261.9,368.12 262.8,367.24 263.7,366.85 264.6,367.38 265.5,368.12 266.4,368.7 267.3,368.83 268.2,368.98 269.1,368.85 270,368.65 270.9,368.83 271.8,368.89 272.7,367.51 273.6,365.43 274.5,363.43 275.4,361.75 276.3,358.99 277.2,357.89 278.1,356.15 279,353.51 279.9,350.84 280.8,345.18 281.7,343.56 282.6,342.48 283.5,343.2 284.4,342.83 285.3,343.77 286.2,343.46 287.1,344.49 288,346.41 288.9,348.91 289.8,350.59 290.7,351.83 291.6,353.37 292.5,354.2 293.4,354.02 294.3,354.01 295.2,354.11 296.1,353.94 297,354.46 297.9,353.62 298.8,354.45 299.7,353.93 300.6,354.02 301.5,353.84 302.4,354.36 303.3,354.43 304.2,354.68 305.1,354.52 306,354.84 306.9,355.55 307.8,355.15 308.7,354.91 309.6,355.54 310.5,355.25 311.4,355.6 312.3,355.69 313.2,355.43 314.1,354.98 315,355.63 315.9,356.03 316.8,355.8 317.7,356.17 318.6,356.45 319.5,356.01 320.4,356.72 321.3,356.93 322.2,356.83 323.1,356.94 324,356.99 324.9,357.48 325.8,356.84 326.7,356.85 327.6,357.15 328.5,356.7 329.4,356.55 330.3,356.87 331.2,357.39 332.1,357.51 333,356.89 333.9,356.85 334.8,357.49 335.7,357.62 336.6,357.75" stroke="#1a80c8" stroke-width="1.9" stroke-dasharray="7 1 1.6 1"/>
<polyline points="43.2,370.08 44.1,370.12 45,370.36 45.9,370.65 46.8,370.28 47.7,370.43 48.6,370.54 49.5,370.05 50.4,370.45 51.3,369.84 52.2,369.46 53.1,369.08 54,369.07 54.9,369.39 55.8,368.86 56.7,368.55 57.6,368.57 58.5,369.22 59.4,369.5 60.3,369.71 61.2,369.34 62.1,367.68 63,368.18 63.9,369.72 64.8,369.89 65.7,369.49 66.6,369.26 67.5,369.6 68.4,369.41 69.3,368.62 70.2,368.85 71.1,369.43 72,369.51 72.9,369.26 73.8,369.18 74.7,369.21 75.6,369.48 76.5,369.96 77.4,369.63 78.3,369.31 79.2,369.74 80.1,369.53 81,369.72 81.9,369.48 82.8,369.95 83.7,370.5 84.6,370.22 85.5,368.75 86.4,368.08 87.3,369.39 88.2,370.59 89.1,370.68 90,370.79 90.9,370.38 91.8,370.37 92.7,370.05 93.6,370.09 94.5,370.28 95.4,370.27 96.3,369.6 97.2,369.15 98.1,368.82 99,368.76 99.9,368.85 100.8,369.35 101.7,369.93 102.6,369.68 103.5,370.12 104.4,370.24 105.3,370.03 106.2,369.23 107.1,367.98 108,368.79 108.9,369.88 109.8,368.48 110.7,366.68 111.6,369.2 112.5,368.79 113.4,366.02 114.3,368.19 115.2,366.34 116.1,361.85 117,363.96 117.9,368.46 118.8,369.01 119.7,367.51 120.6,369.22 121.5,370.6 122.4,370.64 123.3,369.31 124.2,368.97 125.1,368.9 126,368.93 126.9,368.82 127.8,368.95 128.7,369.21 129.6,369.07 130.5,368.58 131.4,368.54 132.3,369.05 133.2,369.35 134.1,369.11 135,368.22 135.9,368.32 136.8,366.1 137.7,363.57 138.6,366.01 139.5,364.73 140.4,366.52 141.3,363.55 142.2,362.52 143.1,361.08 144,362.46 144.9,367.26 145.8,368.65 146.7,370.39 147.6,370.34 148.5,369.97 149.4,369.95 150.3,370.1 151.2,368.68 152.1,367.92 153,368.97 153.9,369.41 154.8,369.41 155.7,369.68 156.6,369.31 157.5,369.81 158.4,370.16 159.3,370.31 160.2,370.01 161.1,369.86 162,369.82 162.9,369.4 163.8,369.3 164.7,368.91 165.6,368.59 166.5,368.93 167.4,369.31 168.3,369.35 169.2,368.96 170.1,369.21 171,369.3 171.9,368.36 172.8,367.5 173.7,368.02 174.6,369.51 175.5,370.17 176.4,369.8 177.3,369.89 178.2,369.98 179.1,369.99 180,370.15 180.9,370.13 181.8,369.54 182.7,367.64 183.6,368.22 184.5,369.76 185.4,370.02 186.3,369.6 187.2,369.75 188.1,369.76 189,369.08 189.9,368.49 190.8,368.71 191.7,369.35 192.6,369.59 193.5,369.07 194.4,368.52 195.3,368.67 196.2,368.49 197.1,368.48 198,368.54 198.9,368.63 199.8,368.21 200.7,368.1 201.6,367.36 202.5,367.3 203.4,366.91 204.3,366.76 205.2,367.47 206.1,367.83 207,367.89 207.9,367.83 208.8,368.41 209.7,369.26 210.6,369.1 211.5,368.64 212.4,368.36 213.3,368.4 214.2,368.61 215.1,368.96 216,368.74 216.9,368.51 217.8,368.28 218.7,367.53 219.6,367.24 220.5,367.89 221.4,368.68 222.3,369.08 223.2,368.86 224.1,368.66 225,367.83 225.9,367.51 226.8,368.02 227.7,368.57 228.6,369.02 229.5,368.9 230.4,368.61 231.3,368.33 232.2,368.22 233.1,368.73 234,369.28 234.9,369.12 235.8,368.87 236.7,368.52 237.6,368.64 238.5,368.61 239.4,368.44 240.3,369.15 241.2,368.65 242.1,368.04 243,368.32 243.9,368.64 244.8,368.48 245.7,368.77 246.6,368.58 247.5,368.54 248.4,368.55 249.3,368.45 250.2,368.07 251.1,367.75 252,368.47 252.9,368.67 253.8,368.83 254.7,368.46 255.6,367.88 256.5,367.18 257.4,367.64 258.3,368.25 259.2,369.34 260.1,369.39 261,368.89 261.9,368.37 262.8,367.35 263.7,367.15 264.6,367.96 265.5,368.86 266.4,369.83 267.3,370.34 268.2,370.91 269.1,370.3 270,369.08 270.9,368.46 271.8,369.6 272.7,368.01 273.6,365.77 274.5,363.92 275.4,361.43 276.3,359.72 277.2,359.02 278.1,357.8 279,354.67 279.9,351.48 280.8,346.39 281.7,344.49 282.6,343.42 283.5,343.73 284.4,344.09 285.3,344.13 286.2,343.5 287.1,345.26 288,346.93 288.9,349.14 289.8,350.95 290.7,352.68 291.6,353.61 292.5,355.03 293.4,354.74 294.3,354.46 295.2,354.59 296.1,353.99 297,354.43 297.9,354.66 298.8,354.37 299.7,354.46 300.6,354.57 301.5,354.71 302.4,355.1 303.3,354.87 304.2,354.89 305.1,355.22 306,355.77 306.9,355.14 307.8,355.48 308.7,354.95 309.6,355.91 310.5,355.8 311.4,356.09 312.3,355.76 313.2,355.56 314.1,356.23 315,356.28 315.9,355.88 316.8,355.79 317.7,356.45 318.6,356.36 319.5,357.28 320.4,356.4 321.3,356.51 322.2,356.71 323.1,356.33 324,356.64 324.9,357.48 325.8,357.03 326.7,356.97 327.6,356.85 328.5,357.49 329.4,357.59 330.3,357.55 331.2,357.45 332.1,357.74 333,357.84 333.9,357.61 334.8,358.08 335.7,357.35 336.6,357.68" stroke="#f0b020" stroke-width="1.5" stroke-dasharray="5 1.5 1.5 1.5"/>
<polyline points="43.2,372.62 44.1,372.41 45,372.52 45.9,372.65 46.8,372.79 47.7,372.86 48.6,372.79 49.5,372.12 50.4,372.03 51.3,372.11 52.2,372.08 53.1,371.95 54,372.2 54.9,372.07 55.8,372.02 56.7,372.41 57.6,372.33 58.5,372.28 59.4,372.51 60.3,373.08 61.2,371.79 62.1,367.9 63,369.1 63.9,372.44 64.8,373.08 65.7,372.71 66.6,372.67 67.5,373.1 68.4,372.26 69.3,368.98 70.2,370.1 71.1,372.45 72,372.51 72.9,372.22 73.8,372 74.7,371.87 75.6,372.08 76.5,372.35 77.4,372.65 78.3,372.68 79.2,372.88 80.1,372.79 81,372.97 81.9,372.49 82.8,372.22 83.7,372.12 84.6,371.82 85.5,369.74 86.4,368.25 87.3,371.33 88.2,372.77 89.1,372.32 90,372.8 90.9,372.78 91.8,372.53 92.7,372 93.6,371.86 94.5,371.94 95.4,371.66 96.3,371.37 97.2,371.91 98.1,371.92 99,370.57 99.9,369.08 100.8,370.16 101.7,371.14 102.6,371.53 103.5,372.57 104.4,373.37 105.3,372.96 106.2,371.13 107.1,368.2 108,370.14 108.9,372.51 109.8,369.52 110.7,366.81 111.6,370.47 112.5,369.56 113.4,365.94 114.3,369.42 115.2,367.23 116.1,361.83 117,364.66 117.9,370.48 118.8,370.11 119.7,367.66 120.6,370.86 121.5,371.37 122.4,371.26 123.3,371.94 124.2,371.33 125.1,370.32 126,369.49 126.9,368.94 127.8,369.26 128.7,369.87 129.6,369.65 130.5,368.77 131.4,368.69 132.3,369.7 133.2,370.67 134.1,369.6 135,367.95 135.9,369.45 136.8,367.92 137.7,363.52 138.6,367.52 139.5,365.04 140.4,368.88 141.3,364.48 142.2,362.96 143.1,361.36 144,363 144.9,367.63 145.8,369.94 146.7,372.17 147.6,372.27 148.5,372.31 149.4,372.42 150.3,372.36 151.2,370.19 152.1,368.23 153,370.54 153.9,372.39 154.8,372.66 155.7,372.7 156.6,372.42 157.5,373.04 158.4,373.26 159.3,373.37 160.2,373.04 161.1,372.98 162,372.91 162.9,372.73 163.8,372.24 164.7,371.51 165.6,371.34 166.5,371.57 167.4,371.94 168.3,371.7 169.2,371.96 170.1,371.81 171,371.04 171.9,369.97 172.8,367.64 173.7,369.12 174.6,370.85 175.5,370.82 176.4,370.77 177.3,370.86 178.2,370.92 179.1,370.94 180,371.28 180.9,371.38 181.8,370.68 182.7,367.87 183.6,368.76 184.5,371.04 185.4,370.85 186.3,370.6 187.2,371.03 188.1,370.65 189,369.61 189.9,368.95 190.8,369.15 191.7,369.36 192.6,369.34 193.5,369.62 194.4,369.79 195.3,369.58 196.2,369.49 197.1,369.72 198,369.38 198.9,369.59 199.8,369.21 200.7,369.34 201.6,368.99 202.5,368.59 203.4,368.32 204.3,368.62 205.2,368.82 206.1,368.69 207,368.62 207.9,368.45 208.8,369.24 209.7,369.9 210.6,369.58 211.5,369.95 212.4,370.05 213.3,370.57 214.2,370.86 215.1,370.83 216,371.18 216.9,370.73 217.8,370.04 218.7,369.11 219.6,369.11 220.5,370.05 221.4,370.01 222.3,369.65 223.2,369.46 224.1,369.22 225,368.38 225.9,367.96 226.8,368.63 227.7,369.47 228.6,369.51 229.5,369.58 230.4,369.96 231.3,369.53 232.2,369.07 233.1,369.91 234,370.17 234.9,369.28 235.8,368.99 236.7,368.33 237.6,368.19 238.5,369.22 239.4,369.59 240.3,369.74 241.2,369.11 242.1,368.85 243,369.03 243.9,369.22 244.8,369 245.7,369.53 246.6,370.22 247.5,370.08 248.4,369.73 249.3,369.64 250.2,369.25 251.1,368.77 252,369.77 252.9,370.91 253.8,370.85 254.7,370.2 255.6,369.77 256.5,368.69 257.4,369.04 258.3,369.79 259.2,370.3 260.1,370.15 261,370.29 261.9,369.5 262.8,368.25 263.7,367.9 264.6,368.83 265.5,369.76 266.4,370.34 267.3,370.59 268.2,370.64 269.1,370.74 270,370.64 270.9,370.28 271.8,371.28 272.7,372.42 273.6,373.34 274.5,373.2 275.4,373.54 276.3,373.28 277.2,372.57 278.1,371.11 279,369.93 279.9,371.41 280.8,372.51 281.7,372.67 282.6,371.6 283.5,370.62 284.4,369.42 285.3,368.69 286.2,369.46 287.1,370.98 288,371.93 288.9,372.33 289.8,372.19 290.7,372.37 291.6,371.97 292.5,370.97 293.4,370.63 294.3,371.34 295.2,371.78 296.1,372.05 297,371.88 297.9,371.86 298.8,371.24 299.7,370.3 300.6,370.27 301.5,371.17 302.4,371.68 303.3,371.38 304.2,371.88 305.1,371.97 306,370.79 306.9,369.42 307.8,370.33 308.7,371.57 309.6,371.83 310.5,372.07 311.4,372.36 312.3,372.29 313.2,371.64 314.1,370.09 315,369.04 315.9,369.75 316.8,370.95 317.7,371.8 318.6,371.02 319.5,369.22 320.4,369.33 321.3,370.75 322.2,371.81 323.1,371.75 324,371.4 324.9,370.94 325.8,370.76 326.7,371.02 327.6,371.77 328.5,372.39 329.4,372.69 330.3,373.11 331.2,372.7 332.1,370.84 333,370.04 333.9,371.27 334.8,372.21 335.7,371.4 336.6,370.44" stroke="#f2521c" stroke-width="1.6"/>
<polyline points="43.2,372.11 44.1,372.52 45,372.62 45.9,372.74 46.8,372.76 47.7,372.6 48.6,372.72 49.5,372.62 50.4,372.61 51.3,372.27 52.2,372.48 53.1,372.43 54,372.02 54.9,372.08 55.8,371.57 56.7,370.85 57.6,370.83 58.5,370.86 59.4,370.7 60.3,370.73 61.2,370.08 62.1,367.84 63,369 63.9,372.26 64.8,372.81 65.7,372.48 66.6,372.38 67.5,372.05 68.4,371.09 69.3,368.96 70.2,369.78 71.1,371.8 72,372.31 72.9,372 73.8,371.9 74.7,371.91 75.6,372.17 76.5,372.26 77.4,372.28 78.3,372.48 79.2,372.64 80.1,372.48 81,372.71 81.9,372.44 82.8,372.62 83.7,372.79 84.6,372.48 85.5,369.93 86.4,368.28 87.3,370.45 88.2,371.83 89.1,371.83 90,372.15 90.9,371.66 91.8,371.76 92.7,371.68 93.6,371.5 94.5,371.28 95.4,371.58 96.3,371.87 97.2,371.54 98.1,371.43 99,370.42 99.9,369 100.8,370.02 101.7,371.31 102.6,371.75 103.5,371.98 104.4,372.44 105.3,372.41 106.2,370.64 107.1,368.05 108,369.73 108.9,371.6 109.8,369.29 110.7,366.77 111.6,370.8 112.5,369.74 113.4,365.96 114.3,368.97 115.2,367.18 116.1,361.93 117,364.63 117.9,370.01 118.8,369.82 119.7,367.62 120.6,370.16 121.5,371.15 122.4,371.21 123.3,371.82 124.2,371.05 125.1,370.29 126,369.5 126.9,368.95 127.8,369.28 128.7,369.89 129.6,369.63 130.5,368.58 131.4,368.5 132.3,369.59 133.2,370.65 134.1,369.73 135,368.1 135.9,369.43 136.8,367.42 137.7,363.56 138.6,366.96 139.5,365.09 140.4,368.17 141.3,364.18 142.2,362.89 143.1,361.27 144,362.67 144.9,367.63 145.8,369.82 146.7,372.55 147.6,373.02 148.5,372.84 149.4,372.49 150.3,372.61 151.2,370.43 152.1,368.11 153,371.01 153.9,372.52 154.8,371.78 155.7,371.67 156.6,371.47 157.5,371.47 158.4,371.54 159.3,371.91 160.2,371.93 161.1,371.77 162,371.39 162.9,371.32 163.8,371.23 164.7,371.35 165.6,371.2 166.5,371.1 167.4,371.47 168.3,371.37 169.2,370.95 170.1,370.34 171,370.45 171.9,369.72 172.8,367.36 173.7,368.82 174.6,371.44 175.5,372.16 176.4,372.19 177.3,371.94 178.2,371.98 179.1,371.97 180,372.13 180.9,372.02 181.8,370.72 182.7,367.92 183.6,368.74 184.5,371.02 185.4,370.63 186.3,370.1 187.2,370.14 188.1,369.97 189,369.45 189.9,369 190.8,369.41 191.7,369.83 192.6,369.84 193.5,369.83 194.4,369.62 195.3,369.65 196.2,369.77 197.1,370.04 198,369.48 198.9,369.14 199.8,368.83 200.7,369.56 201.6,369.32 202.5,368.32 203.4,368.09 204.3,368.68 205.2,369.22 206.1,369.08 207,368.64 207.9,368.3 208.8,369.25 209.7,370.36 210.6,370.24 211.5,370.29 212.4,370.32 213.3,370.49 214.2,370.65 215.1,370.83 216,370.5 216.9,370.19 217.8,369.58 218.7,368.23 219.6,367.89 220.5,368.7 221.4,369.36 222.3,369.41 223.2,369.3 224.1,369.46 225,368.02 225.9,366.77 226.8,367.26 227.7,368.3 228.6,368.73 229.5,368.7 230.4,368.8 231.3,368.3 232.2,367.83 233.1,368.46 234,369.26 234.9,369.01 235.8,368.63 236.7,368.69 237.6,369.3 238.5,369.94 239.4,369.82 240.3,370.04 241.2,369.97 242.1,369.9 243,369.54 243.9,369.76 244.8,369.32 245.7,368.71 246.6,368.76 247.5,368.56 248.4,369.16 249.3,369.8 250.2,369.29 251.1,369.1 252,369.57 252.9,370.25 253.8,370.49 254.7,369.86 255.6,369.42 256.5,368.49 257.4,368.16 258.3,368.28 259.2,369.28 260.1,369.14 261,368.71 261.9,368 262.8,367.51 263.7,367.18 264.6,367.6 265.5,368.31 266.4,368.95 267.3,369.76 268.2,370.5 269.1,370.22 270,369.88 270.9,370.06 271.8,370.82 272.7,371.68 273.6,372.72 274.5,373.02 275.4,373.21 276.3,372.73 277.2,370.29 278.1,367.1 279,366.68 279.9,368.86 280.8,370.74 281.7,371.85 282.6,370.74 283.5,369.23 284.4,368.05 285.3,367.79 286.2,368.55 287.1,369.75 288,370.42 288.9,370.84 289.8,370.62 290.7,371.03 291.6,371.25 292.5,370.63 293.4,370.78 294.3,371.82 295.2,372.05 296.1,372.07 297,372.09 297.9,371.84 298.8,370.75 299.7,368.69 300.6,367.88 301.5,368.78 302.4,369.19 303.3,369.5 304.2,369.62 305.1,368.92 306,367.83 306.9,366.49 307.8,367.34 308.7,369.16 309.6,370.1 310.5,370.16 311.4,370.23 312.3,370.21 313.2,370.12 314.1,369.46 315,368.5 315.9,368.89 316.8,370.54 317.7,371.05 318.6,370.27 319.5,368.68 320.4,368.33 321.3,369.95 322.2,370.92 323.1,370.94 324,370.2 324.9,368.89 325.8,368.49 326.7,369.04 327.6,370.08 328.5,371.15 329.4,371.51 330.3,371.43 331.2,371.12 332.1,370.01 333,369.88 333.9,370.83 334.8,371.36 335.7,370.64 336.6,369.78" stroke="#9a2aa8" stroke-width="1.5"/>
<polyline points="43.2,371.25 44.1,370.71 45,370.62 45.9,371.03 46.8,371.34 47.7,370.97 48.6,370.93 49.5,370.67 50.4,370.6 51.3,370.68 52.2,371.1 53.1,371.2 54,371.17 54.9,371.2 55.8,371.26 56.7,371.37 57.6,370.98 58.5,370.85 59.4,370.97 60.3,371.06 61.2,370.18 62.1,367.59 63,368.3 63.9,370.62 64.8,371.08 65.7,370.96 66.6,371.15 67.5,371.88 68.4,371.44 69.3,368.95 70.2,369.65 71.1,371.4 72,371.58 72.9,371.41 73.8,371.6 74.7,371.4 75.6,371.26 76.5,371.66 77.4,371.89 78.3,371.58 79.2,371.93 80.1,371.85 81,371.71 81.9,371.47 82.8,371.69 83.7,371.59 84.6,371.58 85.5,369.35 86.4,367.91 87.3,370.54 88.2,372.2 89.1,372.21 90,372.3 90.9,372.05 91.8,371.88 92.7,371.66 93.6,371.85 94.5,371.52 95.4,371.51 96.3,371.68 97.2,371.65 98.1,371.61 99,370.62 99.9,369.01 100.8,370.4 101.7,371.28 102.6,371.11 103.5,371.14 104.4,371.07 105.3,370.97 106.2,369.85 107.1,368.05 108,369.46 108.9,370.89 109.8,368.99 110.7,366.83 111.6,370.32 112.5,369.56 113.4,365.97 114.3,369.13 115.2,367.19 116.1,361.76 117,364.49 117.9,370 118.8,369.66 119.7,367.55 120.6,370 121.5,370.88 122.4,370.87 123.3,370.57 124.2,370.36 125.1,369.99 126,369.39 126.9,368.99 127.8,369.21 128.7,369.63 129.6,369.3 130.5,368.59 131.4,368.53 132.3,369.36 133.2,370.22 134.1,369.39 135,367.94 135.9,369.07 136.8,366.94 137.7,363.45 138.6,366.81 139.5,365.14 140.4,367.75 141.3,364.11 142.2,362.84 143.1,361.19 144,362.59 144.9,367.5 145.8,369.33 146.7,371.16 147.6,371.29 148.5,371.8 149.4,371.77 150.3,371.61 151.2,369.74 152.1,367.86 153,370.31 153.9,371.74 154.8,371.39 155.7,371.44 156.6,371.12 157.5,371.68 158.4,371.97 159.3,372.22 160.2,371.77 161.1,370.82 162,370.5 162.9,370.33 163.8,369.91 164.7,369.75 165.6,369.93 166.5,370.48 167.4,370.85 168.3,370.39 169.2,370.28 170.1,370.19 171,369.89 171.9,369.32 172.8,367.5 173.7,368.66 174.6,370.36 175.5,370.79 176.4,370.95 177.3,370.57 178.2,370.68 179.1,371.4 180,371.3 180.9,370.89 181.8,370.2 182.7,367.74 183.6,368.61 184.5,370.48 185.4,370.67 186.3,370.43 187.2,370.18 188.1,369.49 189,369 189.9,368.99 190.8,369.05 191.7,369.51 192.6,369.9 193.5,369.8 194.4,369.65 195.3,369.58 196.2,369.35 197.1,369.39 198,369.27 198.9,369.47 199.8,369.17 200.7,369.46 201.6,368.72 202.5,367.79 203.4,367.49 204.3,367.97 205.2,368.42 206.1,368.76 207,368.68 207.9,368.64 208.8,369.42 209.7,369.77 210.6,369.76 211.5,369.8 212.4,369.23 213.3,369.26 214.2,369.37 215.1,369.67 216,369.49 216.9,369 217.8,368.75 218.7,368.04 219.6,368.04 220.5,368.41 221.4,368.47 222.3,368.6 223.2,368.91 224.1,369.05 225,367.95 225.9,367.18 226.8,368.3 227.7,369.68 228.6,370.08 229.5,370.07 230.4,369.63 231.3,368.94 232.2,368.73 233.1,369.17 234,369.58 234.9,369.2 235.8,368.76 236.7,368.62 237.6,368.7 238.5,368.92 239.4,369.05 240.3,369.08 241.2,368.82 242.1,368.91 243,368.45 243.9,368.65 244.8,369.12 245.7,369.09 246.6,369.05 247.5,369.24 248.4,368.9 249.3,368.71 250.2,368.72 251.1,368.46 252,369.03 252.9,369.67 253.8,369.61 254.7,368.92 255.6,368.33 256.5,367.63 257.4,367.83 258.3,368.72 259.2,369.75 260.1,369.07 261,368.74 261.9,368.56 262.8,368.13 263.7,367.93 264.6,368.36 265.5,368.83 266.4,369.04 267.3,368.91 268.2,369.03 269.1,368.68 270,368.76 270.9,368.9 271.8,370.17 272.7,371.17 273.6,371.46 274.5,371.63 275.4,371.96 276.3,371.67 277.2,370.74 278.1,368.83 279,368.16 279.9,370.04 280.8,370.84 281.7,371.14 282.6,370.48 283.5,369.26 284.4,367.7 285.3,367.57 286.2,368.23 287.1,369.4 288,370.1 288.9,370.33 289.8,370.73 290.7,371.08 291.6,370.42 292.5,369.54 293.4,369.8 294.3,371.08 295.2,371.62 296.1,371.49 297,371.37 297.9,371.45 298.8,370.49 299.7,369.26 300.6,369.19 301.5,369.68 302.4,369.74 303.3,369.58 304.2,369.44 305.1,369.37 306,368.97 306.9,367.36 307.8,368.09 308.7,370 309.6,370.46 310.5,370.77 311.4,371.03 312.3,370.99 313.2,370.58 314.1,369.36 315,368.66 315.9,369.04 316.8,370.27 317.7,370.98 318.6,370.24 319.5,368.7 320.4,368.4 321.3,369.69 322.2,371.06 323.1,370.89 324,370.03 324.9,369.18 325.8,369.01 326.7,369.67 327.6,370.32 328.5,370.56 329.4,370.7 330.3,370.86 331.2,370 332.1,368.77 333,369.02 333.9,370.26 334.8,370.94 335.7,369.63 336.6,368.65" stroke="#c030c8" stroke-width="1.3" stroke-dasharray="2.5 1.5"/>
</g>
<rect x="42.9" y="336.95" width="294.7" height="42.8" fill="none" stroke="#262626" stroke-width="1.3"/>
<text x="46.44" y="346.45" font-size="7.6" text-anchor="start" fill="#262626" textLength="23.21" lengthAdjust="spacingAndGlyphs">Run 6</text>
<text x="25.54" y="339.55" font-size="7.6" text-anchor="start" fill="#262626" style="stroke-width:0.2px" textLength="8.41" lengthAdjust="spacingAndGlyphs">10</text>
<text x="34.52" y="336.35" font-size="6.4" text-anchor="start" fill="#262626" style="stroke-width:0.15px" textLength="4.97" lengthAdjust="spacingAndGlyphs">8</text>
<text x="25.54" y="383.65" font-size="7.6" text-anchor="start" fill="#262626" style="stroke-width:0.2px" textLength="8.41" lengthAdjust="spacingAndGlyphs">10</text>
<text x="35.32" y="380.65" font-size="6.4" text-anchor="start" fill="#262626" style="stroke-width:0.15px" textLength="4.57" lengthAdjust="spacingAndGlyphs">2</text>
<path d="M42.9 423.97H337.6M42.9 416.83H337.6M42.9 409.7H337.6M42.9 402.57H337.6M42.9 395.43H337.6" stroke="#bdbdbd" stroke-width="0.7" stroke-dasharray="1 1.6"/>
<clipPath id="cl6"><rect x="42.9" y="388.3" width="294.7" height="42.8"/></clipPath>
<g clip-path="url(#cl6)" fill="none" stroke-linejoin="round">
<polyline points="43.2,426.02 44.1,426.42 45,426.57 45.9,426.48 46.8,426.61 47.7,426.22 48.6,426.24 49.5,426.21 50.4,426.03 51.3,426.27 52.2,425.7 53.1,424.86 54,425.08 54.9,424.66 55.8,423.99 56.7,424.09 57.6,424.51 58.5,424.55 59.4,424.74 60.3,424.67 61.2,423 62.1,419.49 63,421.12 63.9,425.16 64.8,426.09 65.7,426.04 66.6,425.76 67.5,425.57 68.4,424.7 69.3,420.52 70.2,422.21 71.1,425.41 72,425.28 72.9,424.37 73.8,424.74 74.7,424.92 75.6,424.54 76.5,424.73 77.4,424.96 78.3,424.68 79.2,424.34 80.1,424.4 81,425.08 81.9,425.46 82.8,425.24 83.7,424.98 84.6,424.6 85.5,421.59 86.4,419.51 87.3,423.47 88.2,424.98 89.1,425.3 90,425.24 90.9,425.07 91.8,424.66 92.7,424.99 93.6,425.36 94.5,425.24 95.4,425.29 96.3,426.01 97.2,425.85 98.1,425.53 99,423.42 99.9,420.28 100.8,422.53 101.7,425.02 102.6,425.25 103.5,424.92 104.4,424.35 105.3,424.37 106.2,422.21 107.1,419.3 108,421.11 108.9,423.73 109.8,421 110.7,417.98 111.6,421.12 112.5,420.57 113.4,417.2 114.3,419.89 115.2,418.22 116.1,413.08 117,415.65 117.9,421.45 118.8,421.66 119.7,419.01 120.6,422.41 121.5,422.64 122.4,422.34 123.3,421.29 124.2,421.41 125.1,421.09 126,420.66 126.9,420.44 127.8,420.47 128.7,420.53 129.6,420.24 130.5,419.88 131.4,419.86 132.3,420.74 133.2,421.49 134.1,420.57 135,419.38 135.9,420.42 136.8,418.45 137.7,414.84 138.6,418.24 139.5,416.44 140.4,419.8 141.3,415.68 142.2,414.27 143.1,412.79 144,414.35 144.9,418.92 145.8,421.51 146.7,424.52 147.6,424.09 148.5,422.47 149.4,422.17 150.3,422.39 151.2,421.08 152.1,419.41 153,421.39 153.9,422.64 154.8,422.48 155.7,422.31 156.6,423.29 157.5,423.72 158.4,423.87 159.3,423.93 160.2,423 161.1,422.44 162,422.84 162.9,422.97 163.8,422.86 164.7,422.63 165.6,422.63 166.5,422.67 167.4,422.63 168.3,422.1 169.2,422.24 170.1,422.39 171,422.46 171.9,421.54 172.8,418.78 173.7,420.18 174.6,422.19 175.5,422.4 176.4,421.96 177.3,421.99 178.2,421.89 179.1,421.83 180,421.6 180.9,421.59 181.8,421.23 182.7,418.98 183.6,419.85 184.5,422.07 185.4,422.59 186.3,422.43 187.2,422.41 188.1,422.06 189,421.59 189.9,420.98 190.8,421.44 191.7,421.53 192.6,421.57 193.5,421.99 194.4,421.95 195.3,421.4 196.2,421.2 197.1,420.74 198,419.95 198.9,419.8 199.8,420.44 200.7,421.12 201.6,421.05 202.5,420.22 203.4,419.17 204.3,418.99 205.2,420.04 206.1,420.19 207,420.31 207.9,420.13 208.8,419.88 209.7,419.4 210.6,418.76 211.5,419.19 212.4,420.2 213.3,420.39 214.2,420.19 215.1,420.3 216,420.34 216.9,419.39 217.8,418.51 218.7,419.57 219.6,420.27 220.5,420.3 221.4,420.67 222.3,420.92 223.2,421.25 224.1,420.79 225,419.65 225.9,419.77 226.8,421.09 227.7,422.23 228.6,422.4 229.5,421.32 230.4,420.1 231.3,419.49 232.2,419.92 233.1,420.34 234,420.59 234.9,419.87 235.8,419.33 236.7,419.22 237.6,420.07 238.5,420.88 239.4,420.74 240.3,420.72 241.2,420.59 242.1,420.12 243,420.24 243.9,420.22 244.8,421 245.7,421.33 246.6,421.31 247.5,420.63 248.4,420.52 249.3,421.26 250.2,422.19 251.1,422.24 252,421.96 252.9,422.05 253.8,421.93 254.7,421.16 255.6,419.98 256.5,419.83 257.4,420.12 258.3,420.48 259.2,420.99 260.1,420.96 261,419.94 261.9,417.94 262.8,417.63 263.7,419.72 264.6,421.28 265.5,422.88 266.4,423.34 267.3,423.21 268.2,422.05 269.1,420.85 270,421.45 270.9,423.1 271.8,423.89 272.7,423.54 273.6,422.93 274.5,423.01 275.4,422.82 276.3,423.22 277.2,424.6 278.1,425.91 279,426.01 279.9,425.63 280.8,424.4 281.7,422.79 282.6,423.31 283.5,425.1 284.4,426.31 285.3,426.49 286.2,426.23 287.1,424.98 288,423.35 288.9,422.64 289.8,423.43 290.7,425.34 291.6,426.4 292.5,426.46 293.4,425.68 294.3,423.57 295.2,421.87 296.1,421.87 297,423.36 297.9,424.57 298.8,426.07 299.7,426.61 300.6,425.61 301.5,423.58 302.4,423.42 303.3,424.65 304.2,425.43 305.1,425.03 306,424.4 306.9,423.79 307.8,424.33 308.7,425.49 309.6,426.16 310.5,425.87 311.4,424.94 312.3,423.18 313.2,422.07 314.1,422.7 315,423.39 315.9,424.29 316.8,425.26 317.7,425.18 318.6,425.19 319.5,425.53 320.4,425.95 321.3,424.28 322.2,422.04 323.1,421.89 324,423.84 324.9,425.63 325.8,426.23 326.7,426.74 327.6,426.7 328.5,425.32 329.4,423.56 330.3,421.84 331.2,421.92 332.1,423.33 333,425.03 333.9,426.14 334.8,426.21 335.7,425.6 336.6,423.89" stroke="#f2521c" stroke-width="1.6"/>
<polyline points="43.2,421.14 44.1,420.91 45,420.9 45.9,420.46 46.8,420.77 47.7,420.74 48.6,420.29 49.5,420.03 50.4,420.36 51.3,420.54 52.2,420.91 53.1,421.17 54,421.41 54.9,421.28 55.8,421.04 56.7,420.93 57.6,421.07 58.5,421.23 59.4,420.34 60.3,420.12 61.2,419.68 62.1,418.87 63,418.99 63.9,419.67 64.8,419.61 65.7,419.89 66.6,420.09 67.5,419.76 68.4,420.24 69.3,420.06 70.2,420.35 71.1,419.75 72,420.36 72.9,421.32 73.8,421.54 74.7,421.29 75.6,421.44 76.5,421.98 77.4,422.2 78.3,421.77 79.2,421.59 80.1,420.33 81,419.35 81.9,419.4 82.8,418.94 83.7,419.06 84.6,419.42 85.5,419.41 86.4,419.31 87.3,420.02 88.2,420.1 89.1,420.52 90,420.2 90.9,420.47 91.8,420.7 92.7,420.53 93.6,420.59 94.5,420.72 95.4,420.55 96.3,421.79 97.2,422.49 98.1,422.26 99,421.52 99.9,420.26 100.8,421.14 101.7,421.69 102.6,421.69 103.5,422.12 104.4,421.84 105.3,421.65 106.2,420.53 107.1,419.08 108,420.16 108.9,421.54 109.8,419.32 110.7,417.8 111.6,419.24 112.5,419.17 113.4,417.19 114.3,419.28 115.2,417.48 116.1,413.01 117,415.06 117.9,418.94 118.8,419.72 119.7,418.98 120.6,419.78 121.5,421.6 122.4,421.84 123.3,419.45 124.2,419.39 125.1,419.87 126,420.17 126.9,420.33 127.8,420.22 128.7,420.01 129.6,419.97 130.5,419.89 131.4,419.88 132.3,419.89 133.2,419.84 134.1,419.54 135,419.25 135.9,419.28 136.8,417.32 137.7,414.9 138.6,417.07 139.5,416.16 140.4,417.53 141.3,414.77 142.2,413.79 143.1,412.27 144,413.46 144.9,418.34 145.8,419.61 146.7,420.67 147.6,420.88 148.5,420.54 149.4,420.8 150.3,420.95 151.2,420.32 152.1,419.29 153,420.46 153.9,420.93 154.8,420.97 155.7,420.58 156.6,420.81 157.5,421.14 158.4,421.58 159.3,421.39 160.2,421.29 161.1,420.96 162,420.91 162.9,421.25 163.8,420.85 164.7,420.32 165.6,420.49 166.5,420.54 167.4,420.49 168.3,420.37 169.2,420.58 170.1,420.25 171,420.4 171.9,420.29 172.8,419.04 173.7,420 174.6,421.95 175.5,422.36 176.4,422.33 177.3,422.24 178.2,422.16 179.1,422.3 180,422.76 180.9,421.74 181.8,419.95 182.7,418.84 183.6,419.36 184.5,420.51 185.4,420.71 186.3,420.24 187.2,420.25 188.1,420.07 189,420.31 189.9,419.98 190.8,419.89 191.7,420.22 192.6,420.67 193.5,420.54 194.4,420.41 195.3,420.26 196.2,419.84 197.1,419.26 198,418.61 198.9,418.63 199.8,419.24 200.7,419.82 201.6,419.99 202.5,419.26 203.4,419.08 204.3,419.99 205.2,421.29 206.1,421.2 207,421.29 207.9,421.31 208.8,421.74 209.7,421.39 210.6,420.31 211.5,420.88 212.4,421.66 213.3,421.94 214.2,421.82 215.1,421.63 216,421.46 216.9,420.55 217.8,419.85 218.7,420.06 219.6,420.26 220.5,420.72 221.4,420.61 222.3,420.67 223.2,420.66 224.1,419.56 225,418.6 225.9,419.11 226.8,420.35 227.7,421.07 228.6,421.06 229.5,420.19 230.4,419.9 231.3,419.89 232.2,420.65 233.1,420.95 234,420.43 234.9,419.65 235.8,418.75 236.7,418.72 237.6,419.76 238.5,420 239.4,420.28 240.3,420.33 241.2,419.99 242.1,419.23 243,419.52 243.9,420.22 244.8,420.65 245.7,420.59 246.6,420.37 247.5,419.65 248.4,419.74 249.3,419.9 250.2,420.41 251.1,420.88 252,421.09 252.9,421.43 253.8,421.18 254.7,420.39 255.6,419.56 256.5,419.67 257.4,420.28 258.3,420.52 259.2,420.99 260.1,421.29 261,420.55 261.9,418.26 262.8,417.55 263.7,420.08 264.6,421.46 265.5,421.69 266.4,421.57 267.3,421.74 268.2,420.16 269.1,418.98 270,419.42 270.9,420.5 271.8,421.35 272.7,421.44 273.6,420.67 274.5,419.83 275.4,418.51 276.3,418.51 277.2,419.44 278.1,417.91 279,417.08 279.9,414.41 280.8,412.28 281.7,409.38 282.6,409.97 283.5,410.51 284.4,409.88 285.3,410.26 286.2,410.08 287.1,410.46 288,410.5 288.9,410.25 289.8,410.12 290.7,410.41 291.6,410.36 292.5,410.19 293.4,410.54 294.3,410.56 295.2,410.19 296.1,410.45 297,411.39 297.9,410.78 298.8,410.59 299.7,411.34 300.6,410.52 301.5,409.99 302.4,410.24 303.3,410.44 304.2,411.06 305.1,411.35 306,410.49 306.9,411.56 307.8,410.93 308.7,411.46 309.6,411.6 310.5,411.68 311.4,411.64 312.3,411.78 313.2,411.48 314.1,411.99 315,412.29 315.9,412.37 316.8,412.96 317.7,412.59 318.6,412.58 319.5,412.95 320.4,412.6 321.3,412.22 322.2,412 323.1,413.13 324,412.99 324.9,413.15 325.8,412.86 326.7,413.14 327.6,413.67 328.5,413.28 329.4,412.92 330.3,413.21 331.2,413.88 332.1,413.25 333,412.93 333.9,413.13 334.8,413.54 335.7,414.3 336.6,414.21" stroke="#9a2aa8" stroke-width="1.5"/>
<polyline points="43.2,421.38 44.1,421.19 45,421.22 45.9,420.63 46.8,420.92 47.7,421.08 48.6,420.64 49.5,420.67 50.4,420.79 51.3,420.58 52.2,421.04 53.1,421.24 54,421.6 54.9,421.67 55.8,421.34 56.7,421.25 57.6,421.17 58.5,421.02 59.4,420.98 60.3,420.72 61.2,420.07 62.1,419.03 63,419.32 63.9,420.05 64.8,420.27 65.7,420.49 66.6,420.45 67.5,420.65 68.4,420.9 69.3,420.01 70.2,420.41 71.1,420.65 72,420.52 72.9,420.33 73.8,420.13 74.7,419.93 75.6,420.15 76.5,420.51 77.4,420.57 78.3,420.7 79.2,420.93 80.1,421.21 81,421.19 81.9,420.4 82.8,420.39 83.7,420.67 84.6,420.23 85.5,419.77 86.4,419.38 87.3,420.58 88.2,420.98 89.1,420.65 90,420.08 90.9,420.36 91.8,420.17 92.7,420.34 93.6,420.49 94.5,420.06 95.4,419.74 96.3,420.62 97.2,421.52 98.1,421.96 99,421.16 99.9,420.37 100.8,420.65 101.7,421.27 102.6,421.19 103.5,421.49 104.4,421.68 105.3,421.49 106.2,420.51 107.1,419.3 108,419.69 108.9,420.82 109.8,419.56 110.7,418.12 111.6,420.4 112.5,419.8 113.4,417.19 114.3,420 115.2,418.63 116.1,413.32 117,415.66 117.9,419.99 118.8,420.1 119.7,418.99 120.6,419.99 121.5,421.66 122.4,421.85 123.3,420.42 124.2,420.52 125.1,420.67 126,420.36 126.9,420.19 127.8,420.21 128.7,420.35 129.6,420.14 130.5,419.59 131.4,419.55 132.3,420.21 133.2,420.36 134.1,419.6 135,419.18 135.9,419.23 136.8,417.45 137.7,414.99 138.6,417.33 139.5,416.46 140.4,418 141.3,414.67 142.2,413.61 143.1,412.26 144,413.61 144.9,418.62 145.8,419.73 146.7,421 147.6,421.29 148.5,421.07 149.4,421.03 150.3,421.12 151.2,420.58 152.1,419.51 153,420.62 153.9,420.56 154.8,420.53 155.7,420.79 156.6,420.29 157.5,420.47 158.4,421.12 159.3,420.95 160.2,420.73 161.1,420.54 162,420.62 162.9,420.74 163.8,420.74 164.7,420.53 165.6,420.82 166.5,420.87 167.4,420.96 168.3,420.68 169.2,420.52 170.1,420.24 171,420.68 171.9,420.46 172.8,419 173.7,419.83 174.6,421.04 175.5,421.38 176.4,421.13 177.3,420.78 178.2,420.23 179.1,420.07 180,420.23 180.9,420.12 181.8,419.57 182.7,418.77 183.6,419.21 184.5,420.27 185.4,420.92 186.3,420.38 187.2,419.98 188.1,420.08 189,419.66 189.9,418.79 190.8,419.12 191.7,419.32 192.6,419.72 193.5,419.59 194.4,419.53 195.3,419.47 196.2,419.3 197.1,418.68 198,417.8 198.9,417.93 199.8,418.51 200.7,419.51 201.6,419.52 202.5,418.86 203.4,418.36 204.3,418.47 205.2,419.71 206.1,419.94 207,420.3 207.9,420.35 208.8,420.73 209.7,420.1 210.6,419.52 211.5,419.88 212.4,419.96 213.3,420.6 214.2,420.97 215.1,420.49 216,420.42 216.9,419.3 217.8,418.17 218.7,418.98 219.6,419.35 220.5,419.59 221.4,419.85 222.3,420.04 223.2,419.98 224.1,419.04 225,418.33 225.9,418.81 226.8,420 227.7,420.38 228.6,420.26 229.5,419.52 230.4,419.1 231.3,419.4 232.2,419.97 233.1,420.35 234,420.7 234.9,419.93 235.8,419.01 236.7,418.89 237.6,419.55 238.5,419.64 239.4,419.48 240.3,419.35 241.2,418.98 242.1,418.56 243,418.69 243.9,418.96 244.8,419.86 245.7,419.89 246.6,419.2 247.5,418.51 248.4,418.6 249.3,418.91 250.2,419.56 251.1,419.94 252,420.04 252.9,420.2 253.8,420.06 254.7,419.3 255.6,418.29 256.5,418.25 257.4,418.77 258.3,419.12 259.2,419.39 260.1,419.62 261,419.14 261.9,416.95 262.8,416.16 263.7,418.47 264.6,419.67 265.5,420.44 266.4,420.77 267.3,420.63 268.2,419.33 269.1,417.88 270,418.39 270.9,420.15 271.8,421.18 272.7,421.26 273.6,420.74 274.5,419.72 275.4,418 276.3,418.03 277.2,418.7 278.1,417.86 279,416.48 279.9,414 280.8,411.81 281.7,410.05 282.6,409.45 283.5,409.37 284.4,409.84 285.3,409.69 286.2,409.75 287.1,409.55 288,409.8 288.9,409.98 289.8,409.32 290.7,409.44 291.6,410.29 292.5,410.25 293.4,409.88 294.3,409.77 295.2,410.05 296.1,409.79 297,410.08 297.9,410.71 298.8,410.29 299.7,410.64 300.6,410.29 301.5,410.56 302.4,410.96 303.3,410.23 304.2,410.62 305.1,410.76 306,410.98 306.9,411.46 307.8,411.29 308.7,410.72 309.6,411.18 310.5,411.08 311.4,411.16 312.3,412.14 313.2,411.3 314.1,411.78 315,411.59 315.9,412.15 316.8,412.09 317.7,412.11 318.6,412.14 319.5,412.59 320.4,412.05 321.3,412.17 322.2,412.12 323.1,412.92 324,412.49 324.9,412.33 325.8,412.58 326.7,413.52 327.6,412.8 328.5,413.15 329.4,413.1 330.3,413.03 331.2,412.94 332.1,413.15 333,413.25 333.9,412.81 334.8,414.35 335.7,413.96 336.6,413.83" stroke="#f0b020" stroke-width="1.5" stroke-dasharray="5 1.5 1.5 1.5"/>
<polyline points="43.2,419.35 44.1,418.35 45,418.8 45.9,418.99 46.8,418.91 47.7,418.52 48.6,418.52 49.5,418.61 50.4,419.18 51.3,419.84 52.2,419.92 53.1,420.05 54,420.14 54.9,419.45 55.8,419.27 56.7,419.16 57.6,419.14 58.5,419.18 59.4,419.01 60.3,419.01 61.2,419.25 62.1,418.97 63,419.41 63.9,420.13 64.8,419.59 65.7,419.62 66.6,419.66 67.5,419.47 68.4,419.58 69.3,419.99 70.2,420.01 71.1,419.53 72,420.2 72.9,420.22 73.8,420.09 74.7,420.1 75.6,420.02 76.5,419.7 77.4,419.32 78.3,419.19 79.2,419.37 80.1,419.37 81,419.74 81.9,420.07 82.8,419.66 83.7,419.35 84.6,419.4 85.5,419.55 86.4,419.38 87.3,419.86 88.2,419.81 89.1,419.51 90,419.26 90.9,419.49 91.8,419.42 92.7,419.8 93.6,419.87 94.5,419.56 95.4,419.54 96.3,420.11 97.2,419.77 98.1,419.86 99,419.86 99.9,420.38 100.8,419.77 101.7,419.54 102.6,419.49 103.5,419.71 104.4,420.07 105.3,420.14 106.2,419.72 107.1,419.5 108,419.39 108.9,419.03 109.8,418.45 110.7,417.85 111.6,419.37 112.5,419.05 113.4,417.35 114.3,418.82 115.2,417.18 116.1,413.46 117,415.24 117.9,418.88 118.8,419.28 119.7,418.84 120.6,419.89 121.5,421.71 122.4,421.89 123.3,420.41 124.2,420.63 125.1,420.63 126,420.5 126.9,420.48 127.8,420.4 128.7,420.32 129.6,419.96 130.5,419.79 131.4,419.79 132.3,419.83 133.2,419.78 134.1,419.57 135,419.43 135.9,419.4 136.8,417.25 137.7,414.73 138.6,416.76 139.5,416.31 140.4,417.29 141.3,414.68 142.2,413.64 143.1,411.91 144,413.12 144.9,418.22 145.8,418.99 146.7,420.07 147.6,420.31 148.5,419.74 149.4,419.93 150.3,420.12 151.2,419.72 152.1,419.3 153,419.69 153.9,418.99 154.8,418.87 155.7,418.7 156.6,418.8 157.5,419.16 158.4,419.63 159.3,419.28 160.2,418.82 161.1,418.84 162,419.07 162.9,419.33 163.8,419.3 164.7,419.15 165.6,419.44 166.5,419.9 167.4,420.37 168.3,420.1 169.2,420.11 170.1,419.77 171,419.56 171.9,419.55 172.8,418.96 173.7,419.24 174.6,420 175.5,420.37 176.4,420.34 177.3,420.27 178.2,419.76 179.1,419.81 180,419.72 180.9,419.73 181.8,419.84 182.7,418.81 183.6,419.05 184.5,419.43 185.4,420.14 186.3,420.21 187.2,420.46 188.1,420.12 189,419.42 189.9,419.18 190.8,419.78 191.7,420.15 192.6,420.48 193.5,420.43 194.4,419.9 195.3,419.27 196.2,418.98 197.1,418.64 198,417.85 198.9,417.88 199.8,418.5 200.7,418.86 201.6,418.83 202.5,418.27 203.4,418.19 204.3,418.41 205.2,419.2 206.1,419.26 207,419.38 207.9,419.54 208.8,420.23 209.7,419.48 210.6,418.3 211.5,418.48 212.4,418.96 213.3,419.59 214.2,419.71 215.1,419.72 216,419.45 216.9,418.42 217.8,417.83 218.7,418.79 219.6,419.53 220.5,419.31 221.4,419.22 222.3,419.67 223.2,419.77 224.1,418.75 225,417.77 225.9,418.03 226.8,419.16 227.7,420.04 228.6,420.04 229.5,419.17 230.4,418.35 231.3,418.14 232.2,419.01 233.1,419.66 234,419.55 234.9,418.94 235.8,418.37 236.7,418.17 237.6,418.99 238.5,419.12 239.4,419.03 240.3,418.98 241.2,418.72 242.1,418.33 243,418.97 243.9,419.35 244.8,419.39 245.7,419.28 246.6,419.3 247.5,418.71 248.4,418.7 249.3,418.91 250.2,419.49 251.1,420.08 252,420.24 252.9,420.19 253.8,419.63 254.7,418.84 255.6,418.17 256.5,418.07 257.4,418.09 258.3,418.62 259.2,419.46 260.1,419.62 261,419.23 261.9,416.92 262.8,416.06 263.7,418.53 264.6,419.59 265.5,420.11 266.4,419.76 267.3,419.27 268.2,418.37 269.1,417.21 270,417.15 270.9,418.45 271.8,419.3 272.7,419.61 273.6,419.27 274.5,418.28 275.4,417.08 276.3,417.13 277.2,419.64 278.1,416.57 279,416.64 279.9,413.86 280.8,411.83 281.7,409.03 282.6,409.58 283.5,409 284.4,408.85 285.3,409.28 286.2,409.27 287.1,409.04 288,409.12 288.9,409.5 289.8,409.54 290.7,409.16 291.6,409.25 292.5,408.79 293.4,410.06 294.3,409.44 295.2,410.03 296.1,409.75 297,410.33 297.9,410.23 298.8,409.85 299.7,410.3 300.6,409.53 301.5,410.39 302.4,409.52 303.3,410.25 304.2,410.59 305.1,410.39 306,410.27 306.9,410.21 307.8,410.46 308.7,411.04 309.6,411.07 310.5,410.76 311.4,410.5 312.3,411.27 313.2,410.61 314.1,411.02 315,411.04 315.9,411.65 316.8,411.56 317.7,411.73 318.6,411.76 319.5,411.51 320.4,412.02 321.3,412.39 322.2,411.94 323.1,412.24 324,412.04 324.9,412.5 325.8,412.44 326.7,412.58 327.6,412.45 328.5,412.97 329.4,412.33 330.3,412.43 331.2,412.47 332.1,413.02 333,412.72 333.9,412.85 334.8,413.46 335.7,413.74 336.6,413.67" stroke="#1a80c8" stroke-width="1.9" stroke-dasharray="7 1 1.6 1"/>
<polyline points="43.2,420.66 44.1,420.09 45,420.52 45.9,420.85 46.8,420.77 47.7,420.01 48.6,419.98 49.5,420.12 50.4,420.21 51.3,420.61 52.2,420.67 53.1,420.4 54,420.09 54.9,419.49 55.8,419.37 56.7,419.26 57.6,419.03 58.5,419.39 59.4,419.43 60.3,419.49 61.2,419.05 62.1,418.87 63,419.09 63.9,419.98 64.8,420.23 65.7,420.37 66.6,420.4 67.5,419.94 68.4,420.17 69.3,419.84 70.2,420.24 71.1,420.36 72,420.02 72.9,420.02 73.8,420.75 74.7,420.66 75.6,420.16 76.5,420.38 77.4,420.74 78.3,420.63 79.2,420.11 80.1,419.85 81,420.19 81.9,420.45 82.8,419.81 83.7,419.39 84.6,419.68 85.5,419.42 86.4,419.28 87.3,419.6 88.2,419.4 89.1,419.88 90,421.01 90.9,422.08 91.8,421.64 92.7,421.32 93.6,421.45 94.5,421.58 95.4,421.45 96.3,421.21 97.2,420.4 98.1,420.32 99,420.17 99.9,420.4 100.8,420.35 101.7,420.58 102.6,420.28 103.5,420.57 104.4,420.84 105.3,420.61 106.2,419.81 107.1,419.16 108,419.51 108.9,420.4 109.8,419.38 110.7,418.03 111.6,419.86 112.5,419.54 113.4,417.39 114.3,419.43 115.2,417.51 116.1,413.31 117,415.35 117.9,419.12 118.8,419.56 119.7,418.71 120.6,419.98 121.5,421.63 122.4,421.87 123.3,420.43 124.2,420.49 125.1,420.5 126,420.36 126.9,420.26 127.8,420.2 128.7,419.99 129.6,419.77 130.5,419.7 131.4,419.7 132.3,419.98 133.2,419.98 134.1,419.72 135,419.14 135.9,419.26 136.8,417.28 137.7,414.76 138.6,417.13 139.5,416.35 140.4,417.83 141.3,414.68 142.2,413.62 143.1,412.11 144,413.24 144.9,418.29 145.8,419.54 146.7,420.68 147.6,420.64 148.5,420.29 149.4,420.48 150.3,420.7 151.2,420.18 152.1,419.49 153,420.4 153.9,420.16 154.8,419.52 155.7,419.43 156.6,419.47 157.5,419.17 158.4,419.75 159.3,420.47 160.2,420.11 161.1,419.93 162,420.32 162.9,420.59 163.8,420.55 164.7,420.43 165.6,420.41 166.5,420.28 167.4,420.53 168.3,420.29 169.2,420.3 170.1,420.35 171,420.82 171.9,420.39 172.8,418.8 173.7,419.62 174.6,420.42 175.5,420.76 176.4,421.23 177.3,421.36 178.2,421.13 179.1,421.02 180,421.06 180.9,420.89 181.8,420.4 182.7,418.9 183.6,419.59 184.5,421.2 185.4,421.12 186.3,420.92 187.2,420.93 188.1,420.45 189,420.18 189.9,419.47 190.8,419.89 191.7,420.08 192.6,420.48 193.5,420.41 194.4,420.19 195.3,420.62 196.2,420.79 197.1,420.6 198,419.88 198.9,419.97 199.8,420.91 200.7,420.74 201.6,420.05 202.5,419.48 203.4,418.57 204.3,418.7 205.2,420.31 206.1,420.71 207,420.88 207.9,420.43 208.8,420.34 209.7,419.71 210.6,419.47 211.5,420.08 212.4,420.37 213.3,421.01 214.2,421.08 215.1,420.8 216,420.28 216.9,418.82 217.8,417.83 218.7,418.93 219.6,419.64 220.5,419.49 221.4,419.75 222.3,420.2 223.2,420.15 224.1,418.97 225,417.88 225.9,418.28 226.8,420.18 227.7,420.99 228.6,420.71 229.5,419.96 230.4,419.29 231.3,419.43 232.2,419.96 233.1,420.07 234,420.4 234.9,420.61 235.8,420.37 236.7,420.38 237.6,421.13 238.5,421.25 239.4,420.94 240.3,420.14 241.2,420.07 242.1,419.69 243,419.46 243.9,420.3 244.8,421.21 245.7,420.93 246.6,420.23 247.5,419.52 248.4,419.69 249.3,420.33 250.2,420.96 251.1,421.36 252,421.66 252.9,421.71 253.8,421.48 254.7,420.46 255.6,419.05 256.5,419.36 257.4,420.37 258.3,420.23 259.2,420.68 260.1,421.01 261,420.39 261.9,418.41 262.8,417.44 263.7,419.92 264.6,420.93 265.5,420.88 266.4,420.63 267.3,420.75 268.2,419.69 269.1,418.11 270,418.49 270.9,420.21 271.8,421.11 272.7,421.22 273.6,420.7 274.5,419.58 275.4,418.03 276.3,418.13 277.2,419.27 278.1,417.76 279,416.77 279.9,414.35 280.8,411.83 281.7,409.53 282.6,409.41 283.5,410.23 284.4,409.02 285.3,409.81 286.2,409.51 287.1,410.07 288,409.83 288.9,410.06 289.8,410.15 290.7,410.1 291.6,410.38 292.5,409.71 293.4,410.46 294.3,410.15 295.2,410.37 296.1,410.77 297,410.69 297.9,410.99 298.8,409.76 299.7,410.2 300.6,410.84 301.5,410.3 302.4,410.66 303.3,411.31 304.2,411.14 305.1,410.67 306,411.18 306.9,411.31 307.8,411.22 308.7,411.25 309.6,411.41 310.5,410.99 311.4,411.56 312.3,411.32 313.2,411.81 314.1,411.9 315,411.58 315.9,412.11 316.8,412.12 317.7,412.08 318.6,412.39 319.5,412.16 320.4,412.25 321.3,412.43 322.2,412.46 323.1,412.89 324,411.91 324.9,412.6 325.8,412.16 326.7,412.68 327.6,412.98 328.5,412.97 329.4,413.33 330.3,413.23 331.2,412.43 332.1,413.03 333,413.95 333.9,414.07 334.8,413.76 335.7,413.38 336.6,414.62" stroke="#c030c8" stroke-width="1.3" stroke-dasharray="2.5 1.5"/>
</g>
<rect x="42.9" y="388.3" width="294.7" height="42.8" fill="none" stroke="#262626" stroke-width="1.3"/>
<text x="46.44" y="397.8" font-size="7.6" text-anchor="start" fill="#262626" textLength="23.21" lengthAdjust="spacingAndGlyphs">Run 7</text>
<text x="25.54" y="390.9" font-size="7.6" text-anchor="start" fill="#262626" style="stroke-width:0.2px" textLength="8.41" lengthAdjust="spacingAndGlyphs">10</text>
<text x="34.52" y="387.7" font-size="6.4" text-anchor="start" fill="#262626" style="stroke-width:0.15px" textLength="4.97" lengthAdjust="spacingAndGlyphs">8</text>
<text x="25.54" y="435" font-size="7.6" text-anchor="start" fill="#262626" style="stroke-width:0.2px" textLength="8.41" lengthAdjust="spacingAndGlyphs">10</text>
<text x="35.32" y="432" font-size="6.4" text-anchor="start" fill="#262626" style="stroke-width:0.15px" textLength="4.57" lengthAdjust="spacingAndGlyphs">2</text>
<path d="M42.9 475.32H337.6M42.9 468.18H337.6M42.9 461.05H337.6M42.9 453.92H337.6M42.9 446.78H337.6" stroke="#bdbdbd" stroke-width="0.7" stroke-dasharray="1 1.6"/>
<clipPath id="cl7"><rect x="42.9" y="439.65" width="294.7" height="42.8"/></clipPath>
<g clip-path="url(#cl7)" fill="none" stroke-linejoin="round">
<polyline points="43.2,476.7 44.1,476.65 45,476.68 45.9,476.85 46.8,476.63 47.7,477.27 48.6,477.43 49.5,477.33 50.4,477.45 51.3,477.04 52.2,476.44 53.1,476.61 54,476.68 54.9,476.64 55.8,476.78 56.7,476.47 57.6,476.59 58.5,476.36 59.4,477.05 60.3,477.92 61.2,476.35 62.1,470.94 63,472.64 63.9,477.49 64.8,478.46 65.7,478.16 66.6,476.87 67.5,475.91 68.4,475.82 69.3,471.84 70.2,472.5 71.1,474.56 72,474.45 72.9,474.37 73.8,474.26 74.7,473.78 75.6,473.76 76.5,474.41 77.4,474.13 78.3,473.75 79.2,473.76 80.1,473.83 81,474.35 81.9,474.31 82.8,474.23 83.7,474.11 84.6,473.73 85.5,471.95 86.4,470.8 87.3,472.59 88.2,473.01 89.1,473.89 90,474.21 90.9,474.52 91.8,474.92 92.7,474.64 93.6,475.52 94.5,475.64 95.4,475.5 96.3,475.45 97.2,475.6 98.1,475.61 99,474.33 99.9,471.6 100.8,473.67 101.7,475 102.6,475.1 103.5,475.23 104.4,475.58 105.3,475.33 106.2,473.25 107.1,470.67 108,472.42 108.9,474.71 109.8,471.98 110.7,469.33 111.6,473.34 112.5,472.78 113.4,468.88 114.3,472.53 115.2,470.73 116.1,464.9 117,467.98 117.9,473.52 118.8,472.46 119.7,470 120.6,473.26 121.5,474.02 122.4,473.98 123.3,474.22 124.2,473.57 125.1,473.01 126,472.15 126.9,471.65 127.8,472.01 128.7,472.89 129.6,472.47 130.5,471.5 131.4,471.41 132.3,472.58 133.2,473.72 134.1,472.53 135,470.73 135.9,471.98 136.8,470.04 137.7,466.53 138.6,469.81 139.5,467.72 140.4,470.81 141.3,466.85 142.2,465.49 143.1,463.89 144,465.45 144.9,470.4 145.8,472.49 146.7,475.11 147.6,474.86 148.5,475.06 149.4,474.78 150.3,474.07 151.2,472.27 152.1,470.52 153,473.04 153.9,474.26 154.8,473.67 155.7,473.79 156.6,474.36 157.5,475.08 158.4,475.33 159.3,475.35 160.2,475.24 161.1,475.02 162,475.19 162.9,475.1 163.8,475.34 164.7,474.95 165.6,474.17 166.5,473.48 167.4,473.84 168.3,473.81 169.2,473.84 170.1,474.2 171,474.03 171.9,472.75 172.8,470.26 173.7,471.63 174.6,473.74 175.5,474.55 176.4,474.4 177.3,474.23 178.2,474.01 179.1,474.03 180,473.88 180.9,473.43 181.8,472.66 182.7,470.18 183.6,470.91 184.5,473.27 185.4,474.13 186.3,473.67 187.2,473.42 188.1,473.25 189,472.53 189.9,472.36 190.8,472.58 191.7,473.23 192.6,473.3 193.5,473.27 194.4,473.27 195.3,473.11 196.2,472.83 197.1,471.65 198,471.21 198.9,471.66 199.8,472.78 200.7,473.02 201.6,473.04 202.5,472.22 203.4,472 204.3,472.1 205.2,472.61 206.1,473.08 207,473.07 207.9,472.34 208.8,472.05 209.7,472.42 210.6,472.78 211.5,472.68 212.4,472.92 213.3,471.96 214.2,471.03 215.1,470.38 216,471.15 216.9,471.68 217.8,472.26 218.7,472.62 219.6,472.75 220.5,472.1 221.4,471.08 222.3,471.44 223.2,472.21 224.1,472.52 225,472.3 225.9,471.51 226.8,471.08 227.7,471.27 228.6,472.15 229.5,472.75 230.4,472.12 231.3,472.4 232.2,471.9 233.1,471.63 234,471.5 234.9,472.28 235.8,472.64 236.7,473.02 237.6,472.08 238.5,470.76 239.4,470.1 240.3,470.17 241.2,470.82 242.1,471.22 243,471.08 243.9,470.39 244.8,470.73 245.7,471.47 246.6,471.92 247.5,473.08 248.4,473.37 249.3,473.35 250.2,473.16 251.1,472.93 252,471.92 252.9,471.59 253.8,471.93 254.7,472.17 255.6,472.47 256.5,472.55 257.4,472.29 258.3,472.36 259.2,471.82 260.1,471.63 261,471.37 261.9,471.72 262.8,472.58 263.7,473.27 264.6,473.39 265.5,473.38 266.4,473.82 267.3,473.65 268.2,472.68 269.1,473.19 270,475.24 270.9,476.8 271.8,477.16 272.7,476.59 273.6,476.19 274.5,476.62 275.4,476.13 276.3,474.66 277.2,474.27 278.1,475.57 279,476.33 279.9,475.93 280.8,474.25 281.7,472.32 282.6,472.52 283.5,473.76 284.4,474.55 285.3,475.96 286.2,476.67 287.1,475.78 288,474.05 288.9,473 289.8,473.9 290.7,475.21 291.6,475.82 292.5,475.85 293.4,474.89 294.3,474.46 295.2,474.02 296.1,473.89 297,473.46 297.9,474.3 298.8,474.89 299.7,474.04 300.6,471.71 301.5,470.42 302.4,471.45 303.3,473.67 304.2,475.19 305.1,474.62 306,472.64 306.9,472.97 307.8,474.58 308.7,474 309.6,474.5 310.5,476.27 311.4,477.1 312.3,476.9 313.2,476.18 314.1,476.18 315,476.74 315.9,476.27 316.8,475.95 317.7,476.15 318.6,477.43 319.5,477.17 320.4,475.84 321.3,476.31 322.2,477.59 323.1,478.45 324,478.07 324.9,474.98 325.8,472.91 326.7,472.32 327.6,473.2 328.5,474.79 329.4,475.49 330.3,475.58 331.2,475.17 332.1,475.12 333,475.27 333.9,474.24 334.8,473.36 335.7,474.44 336.6,474.82" stroke="#f2521c" stroke-width="1.6"/>
<polyline points="43.2,472.38 44.1,472.45 45,472.01 45.9,472.35 46.8,472.24 47.7,472.07 48.6,472.1 49.5,472.4 50.4,472.71 51.3,472.38 52.2,472.02 53.1,471.97 54,472.19 54.9,472.26 55.8,472.08 56.7,472.48 57.6,473.02 58.5,472.66 59.4,472.62 60.3,472.6 61.2,472.25 62.1,470.37 63,470.94 63.9,472.46 64.8,472.81 65.7,472.69 66.6,472.67 67.5,472.37 68.4,471.99 69.3,471.34 70.2,471.81 71.1,472.4 72,472.44 72.9,472.83 73.8,472.75 74.7,472.37 75.6,472.61 76.5,472.63 77.4,472.18 78.3,472.14 79.2,472.25 80.1,472.18 81,472.52 81.9,472.82 82.8,473.05 83.7,473.18 84.6,473 85.5,471.61 86.4,470.84 87.3,471.86 88.2,471.81 89.1,472.31 90,472.57 90.9,472.74 91.8,472.9 92.7,472.77 93.6,473.07 94.5,472.53 95.4,472.14 96.3,472.28 97.2,472.48 98.1,472.37 99,472.2 99.9,471.57 100.8,472.19 101.7,472.31 102.6,472.2 103.5,472.26 104.4,472.28 105.3,472.1 106.2,471.56 107.1,470.72 108,471.43 108.9,472.04 109.8,470.66 110.7,469.39 111.6,471.82 112.5,471.25 113.4,468.47 114.3,471.06 115.2,469.32 116.1,464.45 117,466.93 117.9,471.76 118.8,471.73 119.7,470.21 120.6,471.67 121.5,473.11 122.4,473.25 123.3,472.3 124.2,471.97 125.1,471.91 126,471.74 126.9,471.72 127.8,471.66 128.7,471.4 129.6,471.14 130.5,471.09 131.4,471.08 132.3,471.5 133.2,472.45 134.1,471.73 135,470.59 135.9,471.25 136.8,469.64 137.7,466.48 138.6,469.13 139.5,467.82 140.4,469.76 141.3,466.43 142.2,465.28 143.1,463.68 144,464.94 144.9,469.72 145.8,470.97 146.7,472.14 147.6,472.02 148.5,472.44 149.4,472.12 150.3,471.84 151.2,471.27 152.1,470.71 153,472.32 153.9,473.23 154.8,473.24 155.7,473.43 156.6,472.74 157.5,472.39 158.4,472.45 159.3,472.59 160.2,472.76 161.1,472.12 162,471.47 162.9,471.25 163.8,471.54 164.7,471.26 165.6,471.67 166.5,471.74 167.4,472.54 168.3,473.3 169.2,473.48 170.1,473.45 171,473.32 171.9,472.47 172.8,470.21 173.7,471.45 174.6,473.01 175.5,472.79 176.4,472.13 177.3,472.13 178.2,472.06 179.1,472.15 180,471.99 180.9,472.02 181.8,471.6 182.7,470.24 183.6,470.73 184.5,471.84 185.4,471.97 186.3,472.13 187.2,471.88 188.1,471.52 189,471.37 189.9,471.24 190.8,471.41 191.7,472.1 192.6,473.08 193.5,473.83 194.4,473.82 195.3,473.96 196.2,473.6 197.1,472.51 198,472.37 198.9,472.63 199.8,473.02 200.7,472.95 201.6,473.04 202.5,471.67 203.4,471.56 204.3,471.75 205.2,471.4 206.1,471.98 207,471.84 207.9,470.68 208.8,469.97 209.7,470.51 210.6,471.46 211.5,470.98 212.4,471.07 213.3,470.73 214.2,469.96 215.1,469.71 216,470.99 216.9,471.6 217.8,472.33 218.7,472.45 219.6,472.65 220.5,472.42 221.4,471.62 222.3,471.67 223.2,472.32 224.1,472.8 225,472.7 225.9,471.84 226.8,471.8 227.7,471.81 228.6,472.21 229.5,472.2 230.4,471.08 231.3,471.32 232.2,470.74 233.1,470.65 234,470.74 234.9,471.48 235.8,471.63 236.7,471.97 237.6,471.53 238.5,470.73 239.4,470.43 240.3,470.66 241.2,471.25 242.1,471.8 243,471.61 243.9,470.89 244.8,470.54 245.7,470.77 246.6,470.97 247.5,471.63 248.4,472.03 249.3,472.56 250.2,472.19 251.1,471.48 252,471.13 252.9,471.15 253.8,470.79 254.7,470.57 255.6,470.99 256.5,471.7 257.4,471.81 258.3,471.7 259.2,471.63 260.1,471.5 261,470.86 261.9,471.06 262.8,471.81 263.7,472.64 264.6,472.27 265.5,471.8 266.4,471.98 267.3,471.22 268.2,469.52 269.1,469.72 270,471.15 270.9,471.98 271.8,469.61 272.7,468.75 273.6,468.18 274.5,467.21 275.4,465.49 276.3,465.33 277.2,464.12 278.1,462.9 279,460.36 279.9,457.5 280.8,454.9 281.7,451.54 282.6,451.07 283.5,451.01 284.4,450.86 285.3,452.53 286.2,454.28 287.1,455.05 288,456.1 288.9,456.65 289.8,457.56 290.7,457.47 291.6,457.95 292.5,457.38 293.4,458.16 294.3,457.89 295.2,458.53 296.1,457.34 297,457.83 297.9,457.5 298.8,457.87 299.7,458.07 300.6,457.67 301.5,457.52 302.4,457.43 303.3,458.02 304.2,458.33 305.1,458.3 306,457.96 306.9,457.66 307.8,457.84 308.7,457.5 309.6,457.48 310.5,458.3 311.4,457.96 312.3,458.21 313.2,458.09 314.1,458.63 315,458.73 315.9,458.13 316.8,458.32 317.7,458.29 318.6,458.95 319.5,458.99 320.4,458.58 321.3,459.4 322.2,458.77 323.1,458.44 324,458.24 324.9,458.85 325.8,459.04 326.7,458.81 327.6,459.14 328.5,459.43 329.4,459.1 330.3,459.41 331.2,459.7 332.1,459.38 333,459.1 333.9,459.44 334.8,459.5 335.7,460.02 336.6,459.28" stroke="#9a2aa8" stroke-width="1.5"/>
<polyline points="43.2,472.76 44.1,473.16 45,473.07 45.9,473.7 46.8,473.27 47.7,473.24 48.6,473.24 49.5,473.24 50.4,472.82 51.3,472.23 52.2,472.16 53.1,472.07 54,472.58 54.9,472.42 55.8,472.09 56.7,472.05 57.6,471.99 58.5,471.7 59.4,471.58 60.3,471.83 61.2,471.35 62.1,470.41 63,471.01 63.9,472.53 64.8,472.44 65.7,472.24 66.6,472.42 67.5,472.11 68.4,472.25 69.3,471.4 70.2,471.74 71.1,472.12 72,472.17 72.9,472.38 73.8,472.48 74.7,472.38 75.6,472.32 76.5,472.65 77.4,472.75 78.3,472.37 79.2,472.64 80.1,472.95 81,473.26 81.9,473.26 82.8,473.38 83.7,472.71 84.6,471.83 85.5,471.06 86.4,470.55 87.3,471.14 88.2,471.26 89.1,472.19 90,472.35 90.9,472.33 91.8,473.49 92.7,473.68 93.6,473.14 94.5,472.37 95.4,472.54 96.3,472.53 97.2,472.78 98.1,472.78 99,472.31 99.9,471.66 100.8,472.54 101.7,473.01 102.6,473.08 103.5,473.17 104.4,473.23 105.3,472.45 106.2,471.52 107.1,470.76 108,471.49 108.9,472.44 109.8,470.88 110.7,469.36 111.6,471.29 112.5,470.84 113.4,468.57 114.3,470.81 115.2,469.47 116.1,464.77 117,467.35 117.9,472.17 118.8,471.76 119.7,470.23 120.6,472.49 121.5,473.42 122.4,473.34 123.3,472.49 124.2,471.93 125.1,471.88 126,471.81 126.9,471.67 127.8,471.65 128.7,471.68 129.6,471.52 130.5,471.26 131.4,471.24 132.3,471.56 133.2,471.87 134.1,471.31 135,470.8 135.9,470.75 136.8,468.61 137.7,466.32 138.6,468.68 139.5,467.82 140.4,469.73 141.3,466.34 142.2,465.15 143.1,463.8 144,465.09 144.9,470.01 145.8,471.32 146.7,472.75 147.6,472.41 148.5,472.43 149.4,472.25 150.3,471.87 151.2,471.12 152.1,470.58 153,471.13 153.9,471.28 154.8,471.42 155.7,471.75 156.6,472.21 157.5,472.85 158.4,472.9 159.3,472.77 160.2,472.88 161.1,472.74 162,472.72 162.9,472.29 163.8,472.67 164.7,473.46 165.6,473.85 166.5,473.79 167.4,474.11 168.3,473.4 169.2,472.7 170.1,472.4 171,472.37 171.9,471.71 172.8,470.36 173.7,471.12 174.6,472 175.5,472.12 176.4,472.35 177.3,472.51 178.2,471.9 179.1,471.74 180,471.97 180.9,471.52 181.8,470.76 182.7,470.1 183.6,470.13 184.5,470.36 185.4,470.97 186.3,470.82 187.2,470.75 188.1,470.89 189,470.32 189.9,469.97 190.8,470.46 191.7,471.25 192.6,471.6 193.5,471.98 194.4,471.96 195.3,472.04 196.2,471.17 197.1,470.07 198,469.97 198.9,469.97 199.8,471.22 200.7,471.41 201.6,470.87 202.5,470.26 203.4,470.58 204.3,470.81 205.2,471.32 206.1,472.08 207,472.34 207.9,471.67 208.8,471.16 209.7,470.83 210.6,471.45 211.5,471.62 212.4,471.44 213.3,470.98 214.2,470.29 215.1,469.27 216,469.9 216.9,470.82 217.8,471.4 218.7,471.45 219.6,471.85 220.5,471.15 221.4,469.88 222.3,470.07 223.2,471.03 224.1,470.96 225,470.67 225.9,470.49 226.8,469.53 227.7,469.25 228.6,470.05 229.5,470.13 230.4,469.37 231.3,469.9 232.2,469.85 233.1,469.74 234,469.7 234.9,470.54 235.8,470.83 236.7,470.85 237.6,470.39 238.5,469.55 239.4,468.98 240.3,469.24 241.2,469.48 242.1,469.5 243,469.8 243.9,469.45 244.8,468.61 245.7,468.57 246.6,468.67 247.5,469.26 248.4,470.66 249.3,471.94 250.2,471.58 251.1,471.46 252,470.82 252.9,470.42 253.8,470.84 254.7,471.12 255.6,471.24 256.5,471.53 257.4,471.85 258.3,472 259.2,471.51 260.1,471.39 261,470.68 261.9,470.95 262.8,471.76 263.7,472.15 264.6,472.11 265.5,472.13 266.4,471.93 267.3,470.49 268.2,469.08 269.1,469.9 270,471.53 270.9,472.25 271.8,470.39 272.7,469.29 273.6,469.13 274.5,469.03 275.4,468.23 276.3,468.44 277.2,467.73 278.1,467.95 279,467.51 279.9,466.59 280.8,465.65 281.7,465.7 282.6,464.99 283.5,464.66 284.4,464.61 285.3,464.86 286.2,464.42 287.1,464.38 288,463.89 288.9,464.27 289.8,464.03 290.7,464.61 291.6,464.29 292.5,464.44 293.4,464.44 294.3,464.39 295.2,464.74 296.1,464.6 297,464.35 297.9,464.5 298.8,464.62 299.7,464.86 300.6,464.47 301.5,464.84 302.4,464.2 303.3,464.28 304.2,463.88 305.1,464.54 306,463.96 306.9,463.93 307.8,464.47 308.7,464.03 309.6,463.94 310.5,464.46 311.4,464.16 312.3,464.54 313.2,464.19 314.1,464.57 315,464.72 315.9,464.47 316.8,465.03 317.7,464.42 318.6,464.52 319.5,464.65 320.4,464.96 321.3,464.58 322.2,464.54 323.1,464.76 324,465.07 324.9,464.58 325.8,464.33 326.7,464.69 327.6,464.92 328.5,464.58 329.4,464.79 330.3,464.21 331.2,464.78 332.1,464.82 333,464.99 333.9,464.9 334.8,465.05 335.7,464.53 336.6,465.04" stroke="#f0b020" stroke-width="1.5" stroke-dasharray="5 1.5 1.5 1.5"/>
<polyline points="43.2,471.88 44.1,472.13 45,471.57 45.9,471.27 46.8,471.22 47.7,471.3 48.6,470.81 49.5,470.9 50.4,471.04 51.3,470.9 52.2,470.41 53.1,470.27 54,470.45 54.9,470.46 55.8,470.77 56.7,470.84 57.6,471.02 58.5,471.26 59.4,471.53 60.3,471.41 61.2,471.27 62.1,470.24 63,470.54 63.9,471.4 64.8,471.22 65.7,470.95 66.6,471.45 67.5,471.25 68.4,470.97 69.3,471.22 70.2,471.06 71.1,470.73 72,470.94 72.9,471.22 73.8,470.77 74.7,471.11 75.6,471.45 76.5,472.01 77.4,472.59 78.3,472.14 79.2,472.32 80.1,472.36 81,472.44 81.9,472.69 82.8,472.69 83.7,471.35 84.6,470.81 85.5,470.89 86.4,470.65 87.3,470.64 88.2,470.18 89.1,470.59 90,470.63 90.9,470.35 91.8,471.04 92.7,471.35 93.6,471.49 94.5,471.15 95.4,470.7 96.3,470.24 97.2,470.39 98.1,471.12 99,471.54 99.9,471.89 100.8,471.47 101.7,470.91 102.6,470.83 103.5,470.68 104.4,470.76 105.3,471.2 106.2,471.34 107.1,470.7 108,470.96 108.9,471.43 109.8,470.15 110.7,469.34 111.6,470.62 112.5,470.39 113.4,468.78 114.3,470.41 115.2,468.55 116.1,464.59 117,466.57 117.9,470.47 118.8,470.92 119.7,470.25 120.6,471.38 121.5,473.12 122.4,473.29 123.3,471.97 124.2,471.36 125.1,471.46 126,471.69 126.9,471.71 127.8,471.59 128.7,471.37 129.6,471.17 130.5,470.96 131.4,470.94 132.3,470.94 133.2,470.91 134.1,470.79 135,470.53 135.9,470.35 136.8,468.55 137.7,466.27 138.6,468.6 139.5,467.65 140.4,469.2 141.3,466.37 142.2,465.27 143.1,463.61 144,464.74 144.9,469.74 145.8,470.59 146.7,471.65 147.6,471.58 148.5,471.45 149.4,471.39 150.3,471.26 151.2,470.75 152.1,470.58 153,470.7 153.9,471.12 154.8,471.14 155.7,471.3 156.6,471.57 157.5,471.66 158.4,471.28 159.3,471.14 160.2,470.9 161.1,470.69 162,471.19 162.9,470.91 163.8,471.22 164.7,470.71 165.6,470.3 166.5,470.37 167.4,470.13 168.3,469.54 169.2,469.97 170.1,470.49 171,470.78 171.9,470.44 172.8,470.26 173.7,470.59 174.6,471.55 175.5,471.65 176.4,471.45 177.3,471.8 178.2,471.88 179.1,471.27 180,470.32 180.9,470.22 181.8,470.78 182.7,470.22 183.6,470.27 184.5,470.71 185.4,470.95 186.3,471.02 187.2,471.08 188.1,471.13 189,470.68 189.9,470.17 190.8,470.02 191.7,470.52 192.6,470.6 193.5,470.92 194.4,471.15 195.3,471.2 196.2,470.84 197.1,469.77 198,469.79 198.9,470.37 199.8,471.33 200.7,471.15 201.6,470.7 202.5,470.3 203.4,470.41 204.3,470.44 205.2,471.22 206.1,471.34 207,470.66 207.9,470.32 208.8,470.1 209.7,470.16 210.6,470.77 211.5,470.78 212.4,471.05 213.3,470.72 214.2,469.73 215.1,468.75 216,469.45 216.9,470.36 217.8,471.04 218.7,470.93 219.6,471.11 220.5,470.52 221.4,469.77 222.3,469.57 223.2,469.91 224.1,470.01 225,470.23 225.9,470.01 226.8,469.51 227.7,470.32 228.6,471.07 229.5,471.35 230.4,471.27 231.3,471.49 232.2,470.68 233.1,469.92 234,469.66 234.9,470.34 235.8,470.23 236.7,470.62 237.6,470.72 238.5,470.35 239.4,469.61 240.3,469.53 241.2,470.26 242.1,470.54 243,469.85 243.9,469.46 244.8,468.65 245.7,467.93 246.6,468.52 247.5,469.96 248.4,470.45 249.3,470.3 250.2,470.28 251.1,470.91 252,470.74 252.9,470.78 253.8,471.5 254.7,471.47 255.6,471.31 256.5,471.69 257.4,471.46 258.3,471.01 259.2,470.6 260.1,469.94 261,469.42 261.9,470.31 262.8,470.81 263.7,471 264.6,470.95 265.5,470.68 266.4,470.8 267.3,470.47 268.2,469.38 269.1,469.51 270,470.6 270.9,471.28 271.8,469.85 272.7,468.09 273.6,466.81 274.5,465.45 275.4,465.47 276.3,465.15 277.2,463.84 278.1,462.91 279,460.21 279.9,456.66 280.8,454.91 281.7,451.2 282.6,450.97 283.5,451.66 284.4,450.93 285.3,451.72 286.2,453.07 287.1,454.86 288,454.84 288.9,456.2 289.8,457.86 290.7,457.54 291.6,457.4 292.5,457.63 293.4,457.66 294.3,457.59 295.2,457.76 296.1,456.99 297,457.8 297.9,457.37 298.8,457.9 299.7,457.64 300.6,457.3 301.5,457.62 302.4,457.3 303.3,458 304.2,457.64 305.1,457.95 306,457.26 306.9,458.22 307.8,457.54 308.7,458.13 309.6,457.95 310.5,457.3 311.4,457.88 312.3,457.64 313.2,458.05 314.1,458.48 315,458.29 315.9,458.5 316.8,457.78 317.7,458.34 318.6,458.46 319.5,458.79 320.4,458.25 321.3,458.71 322.2,458.71 323.1,458.07 324,458.29 324.9,458.85 325.8,458.33 326.7,458.36 327.6,459.14 328.5,458.97 329.4,458.84 330.3,458.99 331.2,458.84 332.1,458.82 333,458.87 333.9,459.19 334.8,459.54 335.7,458.94 336.6,459.1" stroke="#1a80c8" stroke-width="1.9" stroke-dasharray="7 1 1.6 1"/>
<polyline points="43.2,472.87 44.1,473.1 45,472.41 45.9,472.75 46.8,472.66 47.7,472.86 48.6,473.21 49.5,473.25 50.4,473.34 51.3,473.01 52.2,472.65 53.1,472.99 54,473.16 54.9,473.21 55.8,473.37 56.7,473.39 57.6,473.22 58.5,472.7 59.4,472.85 60.3,473.06 61.2,472.42 62.1,470.28 63,470.87 63.9,472.6 64.8,472.58 65.7,471.92 66.6,471.71 67.5,471.45 68.4,471.49 69.3,471.28 70.2,471.56 71.1,471.91 72,472.04 72.9,472.4 73.8,472.65 74.7,472.44 75.6,472.23 76.5,472.23 77.4,472.26 78.3,472.69 79.2,472.68 80.1,472.45 81,472.88 81.9,473.11 82.8,472.73 83.7,472.92 84.6,473.57 85.5,471.86 86.4,470.7 87.3,472.32 88.2,472.83 89.1,472.92 90,472.32 90.9,472.23 91.8,472.57 92.7,472.79 93.6,473.21 94.5,472.61 95.4,472.56 96.3,472.92 97.2,473.17 98.1,473.13 99,472.64 99.9,471.88 100.8,472.65 101.7,472.9 102.6,472.63 103.5,472.07 104.4,472.33 105.3,472.18 106.2,471.65 107.1,470.71 108,471.52 108.9,472.67 109.8,470.93 110.7,469.47 111.6,471.91 112.5,471.57 113.4,468.72 114.3,471.37 115.2,469.51 116.1,464.63 117,467.1 117.9,471.72 118.8,471.69 119.7,470.46 120.6,472.7 121.5,473.75 122.4,473.77 123.3,473.85 124.2,473.23 125.1,472.67 126,472.16 126.9,471.83 127.8,471.97 128.7,471.96 129.6,471.52 130.5,471.26 131.4,471.24 132.3,471.47 133.2,471.52 134.1,471.07 135,470.66 135.9,470.75 136.8,468.89 137.7,466.32 138.6,468.72 139.5,467.46 140.4,469.67 141.3,466.27 142.2,465.17 143.1,463.83 144,465.15 144.9,469.84 145.8,471 146.7,472.53 147.6,472.97 148.5,473.37 149.4,473.22 150.3,472.9 151.2,471.69 152.1,470.73 153,471.67 153.9,472.27 154.8,472.35 155.7,472.63 156.6,472.66 157.5,472.31 158.4,471.57 159.3,471.76 160.2,471.84 161.1,472.15 162,472.94 162.9,472.36 163.8,472.16 164.7,472.69 165.6,473.71 166.5,473.77 167.4,474.11 168.3,473.77 169.2,473.65 170.1,473.94 171,473.94 171.9,472.81 172.8,470.36 173.7,471.82 174.6,473.34 175.5,472.85 176.4,472.8 177.3,472.84 178.2,472.1 179.1,471.85 180,472.35 180.9,472.57 181.8,471.87 182.7,470.23 183.6,470.75 184.5,472.25 185.4,472.62 186.3,472.73 187.2,472.59 188.1,472.27 189,471.97 189.9,471.52 190.8,471.51 191.7,472.33 192.6,472.52 193.5,472.57 194.4,472.41 195.3,472.77 196.2,473.25 197.1,472.44 198,471.86 198.9,471.94 199.8,472.56 200.7,472.27 201.6,472.53 202.5,471.91 203.4,471.92 204.3,472.2 205.2,472.44 206.1,472.78 207,472.69 207.9,472.06 208.8,471.41 209.7,470.63 210.6,470.48 211.5,471.36 212.4,471.73 213.3,470.65 214.2,470.18 215.1,469.93 216,470.57 216.9,471.07 217.8,471.7 218.7,471.31 219.6,471.25 220.5,470.78 221.4,469.85 222.3,469.8 223.2,470.51 224.1,470.97 225,470.94 225.9,470.89 226.8,470.3 227.7,469.89 228.6,470.64 229.5,471.11 230.4,470.72 231.3,470.91 232.2,469.97 233.1,470.39 234,471.02 234.9,471.5 235.8,471.82 236.7,472.03 237.6,471.73 238.5,471.19 239.4,470.61 240.3,470.56 241.2,471.28 242.1,472.12 243,471.48 243.9,470.5 244.8,469.76 245.7,469.48 246.6,469.69 247.5,470.3 248.4,470.85 249.3,471.52 250.2,471.29 251.1,471.02 252,470.64 252.9,470.35 253.8,470.26 254.7,471.41 255.6,472.46 256.5,472.74 257.4,472.83 258.3,472.56 259.2,472.22 260.1,472.22 261,471.63 261.9,471.51 262.8,472.19 263.7,471.32 264.6,470.17 265.5,470.46 266.4,470.64 267.3,470.66 268.2,469.56 269.1,470.1 270,471.46 270.9,471.87 271.8,469.64 272.7,469.02 273.6,467.93 274.5,466.77 275.4,466.13 276.3,465.12 277.2,464.45 278.1,462.68 279,459.84 279.9,457.16 280.8,454.03 281.7,452.07 282.6,451.14 283.5,450.84 284.4,451.67 285.3,452.11 286.2,453.79 287.1,455.18 288,455.71 288.9,456.52 289.8,457.37 290.7,457.24 291.6,457.48 292.5,457.86 293.4,457.71 294.3,457.35 295.2,458.36 296.1,457.36 297,457.88 297.9,457.93 298.8,458.11 299.7,457.49 300.6,457.76 301.5,457.69 302.4,458.09 303.3,457.87 304.2,457.88 305.1,457.92 306,458.34 306.9,457.96 307.8,458.02 308.7,457.48 309.6,457.97 310.5,457.43 311.4,458.16 312.3,457.99 313.2,457.75 314.1,457.75 315,458.14 315.9,458.28 316.8,458.14 317.7,458.29 318.6,458.36 319.5,458.37 320.4,458.53 321.3,458.72 322.2,459.07 323.1,458.92 324,458.6 324.9,459.3 325.8,459.22 326.7,458.83 327.6,459.26 328.5,458.84 329.4,458.82 330.3,458.88 331.2,459.61 332.1,459.21 333,459.3 333.9,459.26 334.8,459.16 335.7,459.46 336.6,459.55" stroke="#c030c8" stroke-width="1.3" stroke-dasharray="2.5 1.5"/>
</g>
<rect x="42.9" y="439.65" width="294.7" height="42.8" fill="none" stroke="#262626" stroke-width="1.3"/>
<text x="46.44" y="449.15" font-size="7.6" text-anchor="start" fill="#262626" textLength="23.21" lengthAdjust="spacingAndGlyphs">Run 8</text>
<text x="25.54" y="442.25" font-size="7.6" text-anchor="start" fill="#262626" style="stroke-width:0.2px" textLength="8.41" lengthAdjust="spacingAndGlyphs">10</text>
<text x="34.52" y="439.05" font-size="6.4" text-anchor="start" fill="#262626" style="stroke-width:0.15px" textLength="4.97" lengthAdjust="spacingAndGlyphs">8</text>
<text x="25.54" y="486.35" font-size="7.6" text-anchor="start" fill="#262626" style="stroke-width:0.2px" textLength="8.41" lengthAdjust="spacingAndGlyphs">10</text>
<text x="35.32" y="483.35" font-size="6.4" text-anchor="start" fill="#262626" style="stroke-width:0.15px" textLength="4.57" lengthAdjust="spacingAndGlyphs">2</text>
<path d="M86.56 80.2v2.5M86.56 123v-2.5M130.22 80.2v2.5M130.22 123v-2.5M173.88 80.2v2.5M173.88 123v-2.5M217.54 80.2v2.5M217.54 123v-2.5M261.2 80.2v2.5M261.2 123v-2.5M304.86 80.2v2.5M304.86 123v-2.5M42.9 115.87h2M337.6 115.87h-2M42.9 108.73h2M337.6 108.73h-2M42.9 101.6h2M337.6 101.6h-2M42.9 94.47h2M337.6 94.47h-2M42.9 87.33h2M337.6 87.33h-2M86.56 131.55v2.5M86.56 174.35v-2.5M130.22 131.55v2.5M130.22 174.35v-2.5M173.88 131.55v2.5M173.88 174.35v-2.5M217.54 131.55v2.5M217.54 174.35v-2.5M261.2 131.55v2.5M261.2 174.35v-2.5M304.86 131.55v2.5M304.86 174.35v-2.5M42.9 167.22h2M337.6 167.22h-2M42.9 160.08h2M337.6 160.08h-2M42.9 152.95h2M337.6 152.95h-2M42.9 145.82h2M337.6 145.82h-2M42.9 138.68h2M337.6 138.68h-2M86.56 182.9v2.5M86.56 225.7v-2.5M130.22 182.9v2.5M130.22 225.7v-2.5M173.88 182.9v2.5M173.88 225.7v-2.5M217.54 182.9v2.5M217.54 225.7v-2.5M261.2 182.9v2.5M261.2 225.7v-2.5M304.86 182.9v2.5M304.86 225.7v-2.5M42.9 218.57h2M337.6 218.57h-2M42.9 211.43h2M337.6 211.43h-2M42.9 204.3h2M337.6 204.3h-2M42.9 197.17h2M337.6 197.17h-2M42.9 190.03h2M337.6 190.03h-2M86.56 234.25v2.5M86.56 277.05v-2.5M130.22 234.25v2.5M130.22 277.05v-2.5M173.88 234.25v2.5M173.88 277.05v-2.5M217.54 234.25v2.5M217.54 277.05v-2.5M261.2 234.25v2.5M261.2 277.05v-2.5M304.86 234.25v2.5M304.86 277.05v-2.5M42.9 269.92h2M337.6 269.92h-2M42.9 262.78h2M337.6 262.78h-2M42.9 255.65h2M337.6 255.65h-2M42.9 248.52h2M337.6 248.52h-2M42.9 241.38h2M337.6 241.38h-2M86.56 285.6v2.5M86.56 328.4v-2.5M130.22 285.6v2.5M130.22 328.4v-2.5M173.88 285.6v2.5M173.88 328.4v-2.5M217.54 285.6v2.5M217.54 328.4v-2.5M261.2 285.6v2.5M261.2 328.4v-2.5M304.86 285.6v2.5M304.86 328.4v-2.5M42.9 321.27h2M337.6 321.27h-2M42.9 314.13h2M337.6 314.13h-2M42.9 307h2M337.6 307h-2M42.9 299.87h2M337.6 299.87h-2M42.9 292.73h2M337.6 292.73h-2M86.56 336.95v2.5M86.56 379.75v-2.5M130.22 336.95v2.5M130.22 379.75v-2.5M173.88 336.95v2.5M173.88 379.75v-2.5M217.54 336.95v2.5M217.54 379.75v-2.5M261.2 336.95v2.5M261.2 379.75v-2.5M304.86 336.95v2.5M304.86 379.75v-2.5M42.9 372.62h2M337.6 372.62h-2M42.9 365.48h2M337.6 365.48h-2M42.9 358.35h2M337.6 358.35h-2M42.9 351.22h2M337.6 351.22h-2M42.9 344.08h2M337.6 344.08h-2M86.56 388.3v2.5M86.56 431.1v-2.5M130.22 388.3v2.5M130.22 431.1v-2.5M173.88 388.3v2.5M173.88 431.1v-2.5M217.54 388.3v2.5M217.54 431.1v-2.5M261.2 388.3v2.5M261.2 431.1v-2.5M304.86 388.3v2.5M304.86 431.1v-2.5M42.9 423.97h2M337.6 423.97h-2M42.9 416.83h2M337.6 416.83h-2M42.9 409.7h2M337.6 409.7h-2M42.9 402.57h2M337.6 402.57h-2M42.9 395.43h2M337.6 395.43h-2M86.56 439.65v2.5M86.56 482.45v-2.5M130.22 439.65v2.5M130.22 482.45v-2.5M173.88 439.65v2.5M173.88 482.45v-2.5M217.54 439.65v2.5M217.54 482.45v-2.5M261.2 439.65v2.5M261.2 482.45v-2.5M304.86 439.65v2.5M304.86 482.45v-2.5M42.9 475.32h2M337.6 475.32h-2M42.9 468.18h2M337.6 468.18h-2M42.9 461.05h2M337.6 461.05h-2M42.9 453.92h2M337.6 453.92h-2M42.9 446.78h2M337.6 446.78h-2" stroke="#262626" stroke-width="0.9"/>
<path d="M362.6 117.65H492.4M362.6 112.3H492.4M362.6 101.6H492.4M362.6 96.25H492.4M362.6 90.9H492.4M362.6 85.55H492.4" stroke="#bdbdbd" stroke-width="0.7" stroke-dasharray="1 1.6"/>
<path d="M362.6 106.95H492.4" stroke="#d9d9d9" stroke-width="0.7"/>
<path d="M369 80.2V123M407.85 80.2V123M446.7 80.2V123M485.55 80.2V123" stroke="#d9d9d9" stroke-width="0.7"/>
<circle cx="363.11" cy="115.35" r="1.5" fill="#f2521c"/>
<circle cx="367.25" cy="115.35" r="1.5" fill="#f2521c"/>
<circle cx="369.83" cy="114.83" r="1.5" fill="#f2521c"/>
<circle cx="375.01" cy="112.24" r="1.5" fill="#f2521c"/>
<circle cx="382.77" cy="115.35" r="1.5" fill="#f2521c"/>
<circle cx="387.17" cy="114.83" r="1.5" fill="#f2521c"/>
<circle cx="392.35" cy="115.35" r="1.5" fill="#f2521c"/>
<circle cx="394.94" cy="116.13" r="1.5" fill="#f2521c"/>
<circle cx="398.82" cy="115.61" r="1.5" fill="#f2521c"/>
<circle cx="404.51" cy="111.47" r="1.5" fill="#f2521c"/>
<circle cx="407.1" cy="115.61" r="1.5" fill="#f2521c"/>
<circle cx="415.64" cy="114.83" r="1.5" fill="#f2521c"/>
<circle cx="422.11" cy="114.31" r="1.5" fill="#f2521c"/>
<circle cx="431.17" cy="114.31" r="1.5" fill="#f2521c"/>
<circle cx="440.75" cy="115.61" r="1.5" fill="#f2521c"/>
<circle cx="446.7" cy="114.83" r="1.5" fill="#f2521c"/>
<circle cx="450.06" cy="114.83" r="1.5" fill="#f2521c"/>
<circle cx="455.76" cy="110.95" r="1.5" fill="#f2521c"/>
<circle cx="363.11" cy="116.82" r="1.9" fill="#f2521c"/>
<circle cx="367.76" cy="117.34" r="1.9" fill="#f2521c"/>
<circle cx="369.83" cy="116.82" r="1.9" fill="#f2521c"/>
<circle cx="382.77" cy="115.53" r="1.9" fill="#f2521c"/>
<circle cx="394.94" cy="116.3" r="1.9" fill="#f2521c"/>
<circle cx="407.1" cy="115.53" r="1.9" fill="#f2521c"/>
<circle cx="431.95" cy="115.53" r="1.9" fill="#f2521c"/>
<circle cx="440.75" cy="116.3" r="1.9" fill="#f2521c"/>
<circle cx="447.47" cy="116.3" r="1.9" fill="#f2521c"/>
<circle cx="450.06" cy="116.82" r="1.9" fill="#f2521c"/>
<circle cx="455.76" cy="116.82" r="1.9" fill="#f2521c"/>
<circle cx="458.34" cy="116.82" r="1.9" fill="#f2521c"/>
<circle cx="460.41" cy="116.82" r="1.9" fill="#f2521c"/>
<circle cx="464.81" cy="115.53" r="1.9" fill="#f2521c"/>
<circle cx="466.11" cy="115.01" r="1.9" fill="#f2521c"/>
<circle cx="470.77" cy="116.82" r="1.9" fill="#f2521c"/>
<circle cx="472.58" cy="116.3" r="1.9" fill="#f2521c"/>
<circle cx="475.17" cy="115.53" r="1.9" fill="#f2521c"/>
<rect x="361.91" y="113.55" width="2.4" height="2.4" fill="none" stroke="#1a80c8" stroke-width="1.1"/>
<rect x="366.05" y="113.55" width="2.4" height="2.4" fill="none" stroke="#1a80c8" stroke-width="1.1"/>
<rect x="368.63" y="113.03" width="2.4" height="2.4" fill="none" stroke="#1a80c8" stroke-width="1.1"/>
<rect x="373.81" y="110.44" width="2.4" height="2.4" fill="none" stroke="#1a80c8" stroke-width="1.1"/>
<rect x="381.57" y="113.55" width="2.4" height="2.4" fill="none" stroke="#1a80c8" stroke-width="1.1"/>
<rect x="385.97" y="113.03" width="2.4" height="2.4" fill="none" stroke="#1a80c8" stroke-width="1.1"/>
<rect x="391.15" y="113.55" width="2.4" height="2.4" fill="none" stroke="#1a80c8" stroke-width="1.1"/>
<rect x="393.74" y="114.33" width="2.4" height="2.4" fill="none" stroke="#1a80c8" stroke-width="1.1"/>
<rect x="397.62" y="113.81" width="2.4" height="2.4" fill="none" stroke="#1a80c8" stroke-width="1.1"/>
<rect x="403.31" y="109.67" width="2.4" height="2.4" fill="none" stroke="#1a80c8" stroke-width="1.1"/>
<rect x="405.9" y="113.81" width="2.4" height="2.4" fill="none" stroke="#1a80c8" stroke-width="1.1"/>
<rect x="414.44" y="113.03" width="2.4" height="2.4" fill="none" stroke="#1a80c8" stroke-width="1.1"/>
<rect x="420.91" y="112.51" width="2.4" height="2.4" fill="none" stroke="#1a80c8" stroke-width="1.1"/>
<rect x="429.97" y="112.51" width="2.4" height="2.4" fill="none" stroke="#1a80c8" stroke-width="1.1"/>
<rect x="439.55" y="113.81" width="2.4" height="2.4" fill="none" stroke="#1a80c8" stroke-width="1.1"/>
<rect x="445.5" y="113.03" width="2.4" height="2.4" fill="none" stroke="#1a80c8" stroke-width="1.1"/>
<rect x="448.86" y="113.03" width="2.4" height="2.4" fill="none" stroke="#1a80c8" stroke-width="1.1"/>
<rect x="454.56" y="109.15" width="2.4" height="2.4" fill="none" stroke="#1a80c8" stroke-width="1.1"/>
<rect x="456.63" y="105.27" width="2.4" height="2.4" fill="none" stroke="#1a80c8" stroke-width="1.1"/>
<rect x="458.44" y="103.97" width="2.4" height="2.4" fill="none" stroke="#1a80c8" stroke-width="1.1"/>
<rect x="462.84" y="99.57" width="2.4" height="2.4" fill="none" stroke="#1a80c8" stroke-width="1.1"/>
<rect x="465.43" y="95.43" width="2.4" height="2.4" fill="none" stroke="#1a80c8" stroke-width="1.1"/>
<rect x="469.57" y="92.85" width="2.4" height="2.4" fill="none" stroke="#1a80c8" stroke-width="1.1"/>
<rect x="472.15" y="92.85" width="2.4" height="2.4" fill="none" stroke="#1a80c8" stroke-width="1.1"/>
<rect x="473.97" y="92.85" width="2.4" height="2.4" fill="none" stroke="#1a80c8" stroke-width="1.1"/>
<rect x="362.6" y="80.2" width="129.8" height="42.8" fill="none" stroke="#262626" stroke-width="1.3"/>
<text x="495.34" y="82.8" font-size="7.6" text-anchor="start" fill="#262626" style="stroke-width:0.2px" textLength="9.11" lengthAdjust="spacingAndGlyphs">10</text>
<text x="504.82" y="79.7" font-size="6.4" text-anchor="start" fill="#262626" style="stroke-width:0.15px" textLength="7.27" lengthAdjust="spacingAndGlyphs">10</text>
<text x="495.34" y="110.35" font-size="7.6" text-anchor="start" fill="#262626" style="stroke-width:0.2px" textLength="9.11" lengthAdjust="spacingAndGlyphs">10</text>
<text x="504.82" y="107.2" font-size="6.4" text-anchor="start" fill="#262626" style="stroke-width:0.15px" textLength="4.47" lengthAdjust="spacingAndGlyphs">5</text>
<path d="M362.6 169H492.4M362.6 163.65H492.4M362.6 152.95H492.4M362.6 147.6H492.4M362.6 142.25H492.4M362.6 136.9H492.4" stroke="#bdbdbd" stroke-width="0.7" stroke-dasharray="1 1.6"/>
<path d="M362.6 158.3H492.4" stroke="#d9d9d9" stroke-width="0.7"/>
<path d="M369 131.55V174.35M407.85 131.55V174.35M446.7 131.55V174.35M485.55 131.55V174.35" stroke="#d9d9d9" stroke-width="0.7"/>
<circle cx="370.35" cy="167.13" r="1.5" fill="#f2521c"/>
<circle cx="372.42" cy="167.13" r="1.5" fill="#f2521c"/>
<circle cx="374.23" cy="167.13" r="1.5" fill="#f2521c"/>
<circle cx="376.05" cy="167.13" r="1.5" fill="#f2521c"/>
<circle cx="384.59" cy="163.76" r="1.5" fill="#f2521c"/>
<circle cx="392.35" cy="167.13" r="1.5" fill="#f2521c"/>
<circle cx="397.53" cy="166.35" r="1.5" fill="#f2521c"/>
<circle cx="404" cy="166.61" r="1.5" fill="#f2521c"/>
<circle cx="406.58" cy="167.13" r="1.5" fill="#f2521c"/>
<circle cx="410.47" cy="167.13" r="1.5" fill="#f2521c"/>
<circle cx="415.64" cy="161.95" r="1.5" fill="#f2521c"/>
<circle cx="417.45" cy="167.64" r="1.5" fill="#f2521c"/>
<circle cx="425.99" cy="166.61" r="1.5" fill="#f2521c"/>
<circle cx="432.98" cy="165.83" r="1.5" fill="#f2521c"/>
<circle cx="442.3" cy="166.61" r="1.5" fill="#f2521c"/>
<circle cx="451.87" cy="167.13" r="1.5" fill="#f2521c"/>
<circle cx="455.76" cy="167.13" r="1.5" fill="#f2521c"/>
<circle cx="458.86" cy="164.54" r="1.5" fill="#f2521c"/>
<circle cx="465.59" cy="161.17" r="1.5" fill="#f2521c"/>
<circle cx="369.83" cy="169.11" r="1.9" fill="#f2521c"/>
<circle cx="372.42" cy="169.11" r="1.9" fill="#f2521c"/>
<circle cx="374.23" cy="168.6" r="1.9" fill="#f2521c"/>
<circle cx="376.05" cy="167.82" r="1.9" fill="#f2521c"/>
<circle cx="406.58" cy="167.3" r="1.9" fill="#f2521c"/>
<circle cx="417.45" cy="167.82" r="1.9" fill="#f2521c"/>
<circle cx="451.87" cy="167.82" r="1.9" fill="#f2521c"/>
<circle cx="455.76" cy="167.82" r="1.9" fill="#f2521c"/>
<circle cx="465.59" cy="166.53" r="1.9" fill="#f2521c"/>
<circle cx="466.63" cy="167.82" r="1.9" fill="#f2521c"/>
<circle cx="471.28" cy="167.82" r="1.9" fill="#f2521c"/>
<circle cx="475.68" cy="166.53" r="1.9" fill="#f2521c"/>
<circle cx="479.05" cy="167.82" r="1.9" fill="#f2521c"/>
<circle cx="480.34" cy="168.34" r="1.9" fill="#f2521c"/>
<circle cx="484.22" cy="167.3" r="1.9" fill="#f2521c"/>
<rect x="369.15" y="165.33" width="2.4" height="2.4" fill="none" stroke="#1a80c8" stroke-width="1.1"/>
<rect x="371.22" y="165.33" width="2.4" height="2.4" fill="none" stroke="#1a80c8" stroke-width="1.1"/>
<rect x="373.03" y="165.33" width="2.4" height="2.4" fill="none" stroke="#1a80c8" stroke-width="1.1"/>
<rect x="374.85" y="165.33" width="2.4" height="2.4" fill="none" stroke="#1a80c8" stroke-width="1.1"/>
<rect x="383.39" y="161.96" width="2.4" height="2.4" fill="none" stroke="#1a80c8" stroke-width="1.1"/>
<rect x="391.15" y="165.33" width="2.4" height="2.4" fill="none" stroke="#1a80c8" stroke-width="1.1"/>
<rect x="396.33" y="164.55" width="2.4" height="2.4" fill="none" stroke="#1a80c8" stroke-width="1.1"/>
<rect x="402.8" y="164.81" width="2.4" height="2.4" fill="none" stroke="#1a80c8" stroke-width="1.1"/>
<rect x="405.38" y="165.33" width="2.4" height="2.4" fill="none" stroke="#1a80c8" stroke-width="1.1"/>
<rect x="409.27" y="165.33" width="2.4" height="2.4" fill="none" stroke="#1a80c8" stroke-width="1.1"/>
<rect x="414.44" y="160.15" width="2.4" height="2.4" fill="none" stroke="#1a80c8" stroke-width="1.1"/>
<rect x="416.25" y="165.84" width="2.4" height="2.4" fill="none" stroke="#1a80c8" stroke-width="1.1"/>
<rect x="424.79" y="164.81" width="2.4" height="2.4" fill="none" stroke="#1a80c8" stroke-width="1.1"/>
<rect x="431.78" y="164.03" width="2.4" height="2.4" fill="none" stroke="#1a80c8" stroke-width="1.1"/>
<rect x="441.1" y="164.81" width="2.4" height="2.4" fill="none" stroke="#1a80c8" stroke-width="1.1"/>
<rect x="450.67" y="165.33" width="2.4" height="2.4" fill="none" stroke="#1a80c8" stroke-width="1.1"/>
<rect x="454.56" y="165.33" width="2.4" height="2.4" fill="none" stroke="#1a80c8" stroke-width="1.1"/>
<rect x="457.66" y="162.74" width="2.4" height="2.4" fill="none" stroke="#1a80c8" stroke-width="1.1"/>
<rect x="464.39" y="153.68" width="2.4" height="2.4" fill="none" stroke="#1a80c8" stroke-width="1.1"/>
<rect x="465.43" y="152.39" width="2.4" height="2.4" fill="none" stroke="#1a80c8" stroke-width="1.1"/>
<rect x="464.39" y="159.37" width="2.4" height="2.4" fill="none" stroke="#1a80c8" stroke-width="1.1"/>
<rect x="470.08" y="146.43" width="2.4" height="2.4" fill="none" stroke="#1a80c8" stroke-width="1.1"/>
<rect x="474.48" y="144.62" width="2.4" height="2.4" fill="none" stroke="#1a80c8" stroke-width="1.1"/>
<rect x="477.85" y="143.85" width="2.4" height="2.4" fill="none" stroke="#1a80c8" stroke-width="1.1"/>
<rect x="483.54" y="142.81" width="2.4" height="2.4" fill="none" stroke="#1a80c8" stroke-width="1.1"/>
<rect x="362.6" y="131.55" width="129.8" height="42.8" fill="none" stroke="#262626" stroke-width="1.3"/>
<text x="495.34" y="134.15" font-size="7.6" text-anchor="start" fill="#262626" style="stroke-width:0.2px" textLength="9.11" lengthAdjust="spacingAndGlyphs">10</text>
<text x="504.82" y="131.05" font-size="6.4" text-anchor="start" fill="#262626" style="stroke-width:0.15px" textLength="7.27" lengthAdjust="spacingAndGlyphs">10</text>
<text x="495.34" y="161.7" font-size="7.6" text-anchor="start" fill="#262626" style="stroke-width:0.2px" textLength="9.11" lengthAdjust="spacingAndGlyphs">10</text>
<text x="504.82" y="158.55" font-size="6.4" text-anchor="start" fill="#262626" style="stroke-width:0.15px" textLength="4.47" lengthAdjust="spacingAndGlyphs">5</text>
<path d="M362.6 220.35H492.4M362.6 215H492.4M362.6 204.3H492.4M362.6 198.95H492.4M362.6 193.6H492.4M362.6 188.25H492.4" stroke="#bdbdbd" stroke-width="0.7" stroke-dasharray="1 1.6"/>
<path d="M362.6 209.65H492.4" stroke="#d9d9d9" stroke-width="0.7"/>
<path d="M369 182.9V225.7M407.85 182.9V225.7M446.7 182.9V225.7M485.55 182.9V225.7" stroke="#d9d9d9" stroke-width="0.7"/>
<circle cx="370.35" cy="219.13" r="1.5" fill="#f2521c"/>
<circle cx="372.94" cy="218.61" r="1.5" fill="#f2521c"/>
<circle cx="375.01" cy="219.13" r="1.5" fill="#f2521c"/>
<circle cx="376.82" cy="219.13" r="1.5" fill="#f2521c"/>
<circle cx="384.59" cy="215.24" r="1.5" fill="#f2521c"/>
<circle cx="393.13" cy="218.35" r="1.5" fill="#f2521c"/>
<circle cx="398.3" cy="218.35" r="1.5" fill="#f2521c"/>
<circle cx="403.48" cy="217.83" r="1.5" fill="#f2521c"/>
<circle cx="406.07" cy="217.83" r="1.5" fill="#f2521c"/>
<circle cx="410.47" cy="217.31" r="1.5" fill="#f2521c"/>
<circle cx="415.64" cy="213.17" r="1.5" fill="#f2521c"/>
<circle cx="417.45" cy="218.61" r="1.5" fill="#f2521c"/>
<circle cx="425.22" cy="217.83" r="1.5" fill="#f2521c"/>
<circle cx="431.95" cy="217.06" r="1.5" fill="#f2521c"/>
<circle cx="441.52" cy="218.35" r="1.5" fill="#f2521c"/>
<circle cx="450.58" cy="219.13" r="1.5" fill="#f2521c"/>
<circle cx="455.76" cy="219.13" r="1.5" fill="#f2521c"/>
<circle cx="369.83" cy="221.11" r="1.9" fill="#f2521c"/>
<circle cx="372.42" cy="221.11" r="1.9" fill="#f2521c"/>
<circle cx="375.01" cy="219.82" r="1.9" fill="#f2521c"/>
<circle cx="376.82" cy="219.82" r="1.9" fill="#f2521c"/>
<circle cx="393.13" cy="218.53" r="1.9" fill="#f2521c"/>
<circle cx="417.45" cy="219.3" r="1.9" fill="#f2521c"/>
<circle cx="450.58" cy="219.82" r="1.9" fill="#f2521c"/>
<circle cx="463.52" cy="218.53" r="1.9" fill="#f2521c"/>
<circle cx="465.59" cy="219.3" r="1.9" fill="#f2521c"/>
<circle cx="469.99" cy="218.53" r="1.9" fill="#f2521c"/>
<circle cx="473.87" cy="218.53" r="1.9" fill="#f2521c"/>
<circle cx="477.75" cy="219.3" r="1.9" fill="#f2521c"/>
<circle cx="479.57" cy="219.82" r="1.9" fill="#f2521c"/>
<circle cx="483.71" cy="218.53" r="1.9" fill="#f2521c"/>
<rect x="369.15" y="217.33" width="2.4" height="2.4" fill="none" stroke="#1a80c8" stroke-width="1.1"/>
<rect x="371.74" y="216.81" width="2.4" height="2.4" fill="none" stroke="#1a80c8" stroke-width="1.1"/>
<rect x="373.81" y="217.33" width="2.4" height="2.4" fill="none" stroke="#1a80c8" stroke-width="1.1"/>
<rect x="375.62" y="217.33" width="2.4" height="2.4" fill="none" stroke="#1a80c8" stroke-width="1.1"/>
<rect x="383.39" y="213.44" width="2.4" height="2.4" fill="none" stroke="#1a80c8" stroke-width="1.1"/>
<rect x="391.93" y="216.55" width="2.4" height="2.4" fill="none" stroke="#1a80c8" stroke-width="1.1"/>
<rect x="397.1" y="216.55" width="2.4" height="2.4" fill="none" stroke="#1a80c8" stroke-width="1.1"/>
<rect x="402.28" y="216.03" width="2.4" height="2.4" fill="none" stroke="#1a80c8" stroke-width="1.1"/>
<rect x="404.87" y="216.03" width="2.4" height="2.4" fill="none" stroke="#1a80c8" stroke-width="1.1"/>
<rect x="409.27" y="215.51" width="2.4" height="2.4" fill="none" stroke="#1a80c8" stroke-width="1.1"/>
<rect x="414.44" y="211.37" width="2.4" height="2.4" fill="none" stroke="#1a80c8" stroke-width="1.1"/>
<rect x="416.25" y="216.81" width="2.4" height="2.4" fill="none" stroke="#1a80c8" stroke-width="1.1"/>
<rect x="424.02" y="216.03" width="2.4" height="2.4" fill="none" stroke="#1a80c8" stroke-width="1.1"/>
<rect x="430.75" y="215.26" width="2.4" height="2.4" fill="none" stroke="#1a80c8" stroke-width="1.1"/>
<rect x="440.32" y="216.55" width="2.4" height="2.4" fill="none" stroke="#1a80c8" stroke-width="1.1"/>
<rect x="449.38" y="217.33" width="2.4" height="2.4" fill="none" stroke="#1a80c8" stroke-width="1.1"/>
<rect x="454.56" y="217.33" width="2.4" height="2.4" fill="none" stroke="#1a80c8" stroke-width="1.1"/>
<rect x="462.32" y="206.97" width="2.4" height="2.4" fill="none" stroke="#1a80c8" stroke-width="1.1"/>
<rect x="464.39" y="206.2" width="2.4" height="2.4" fill="none" stroke="#1a80c8" stroke-width="1.1"/>
<rect x="468.79" y="204.39" width="2.4" height="2.4" fill="none" stroke="#1a80c8" stroke-width="1.1"/>
<rect x="472.67" y="202.57" width="2.4" height="2.4" fill="none" stroke="#1a80c8" stroke-width="1.1"/>
<rect x="476.55" y="200.5" width="2.4" height="2.4" fill="none" stroke="#1a80c8" stroke-width="1.1"/>
<rect x="477.33" y="197.4" width="2.4" height="2.4" fill="none" stroke="#1a80c8" stroke-width="1.1"/>
<rect x="478.37" y="199.21" width="2.4" height="2.4" fill="none" stroke="#1a80c8" stroke-width="1.1"/>
<rect x="482.51" y="195.85" width="2.4" height="2.4" fill="none" stroke="#1a80c8" stroke-width="1.1"/>
<rect x="362.6" y="182.9" width="129.8" height="42.8" fill="none" stroke="#262626" stroke-width="1.3"/>
<text x="495.34" y="185.5" font-size="7.6" text-anchor="start" fill="#262626" style="stroke-width:0.2px" textLength="9.11" lengthAdjust="spacingAndGlyphs">10</text>
<text x="504.82" y="182.4" font-size="6.4" text-anchor="start" fill="#262626" style="stroke-width:0.15px" textLength="7.27" lengthAdjust="spacingAndGlyphs">10</text>
<text x="495.34" y="213.05" font-size="7.6" text-anchor="start" fill="#262626" style="stroke-width:0.2px" textLength="9.11" lengthAdjust="spacingAndGlyphs">10</text>
<text x="504.82" y="209.9" font-size="6.4" text-anchor="start" fill="#262626" style="stroke-width:0.15px" textLength="4.47" lengthAdjust="spacingAndGlyphs">5</text>
<path d="M362.6 271.7H492.4M362.6 266.35H492.4M362.6 255.65H492.4M362.6 250.3H492.4M362.6 244.95H492.4M362.6 239.6H492.4" stroke="#bdbdbd" stroke-width="0.7" stroke-dasharray="1 1.6"/>
<path d="M362.6 261H492.4" stroke="#d9d9d9" stroke-width="0.7"/>
<path d="M369 234.25V277.05M407.85 234.25V277.05M446.7 234.25V277.05M485.55 234.25V277.05" stroke="#d9d9d9" stroke-width="0.7"/>
<circle cx="370.35" cy="269.35" r="1.5" fill="#f2521c"/>
<circle cx="372.94" cy="268.83" r="1.5" fill="#f2521c"/>
<circle cx="375.01" cy="269.35" r="1.5" fill="#f2521c"/>
<circle cx="376.82" cy="269.35" r="1.5" fill="#f2521c"/>
<circle cx="384.59" cy="265.73" r="1.5" fill="#f2521c"/>
<circle cx="393.13" cy="268.83" r="1.5" fill="#f2521c"/>
<circle cx="398.3" cy="268.83" r="1.5" fill="#f2521c"/>
<circle cx="403.48" cy="268.31" r="1.5" fill="#f2521c"/>
<circle cx="406.07" cy="268.31" r="1.5" fill="#f2521c"/>
<circle cx="410.47" cy="269.35" r="1.5" fill="#f2521c"/>
<circle cx="416.94" cy="264.43" r="1.5" fill="#f2521c"/>
<circle cx="418.23" cy="269.35" r="1.5" fill="#f2521c"/>
<circle cx="425.22" cy="268.83" r="1.5" fill="#f2521c"/>
<circle cx="432.46" cy="268.31" r="1.5" fill="#f2521c"/>
<circle cx="441.52" cy="269.35" r="1.5" fill="#f2521c"/>
<circle cx="450.58" cy="269.61" r="1.5" fill="#f2521c"/>
<circle cx="455.76" cy="268.83" r="1.5" fill="#f2521c"/>
<circle cx="457.05" cy="268.31" r="1.5" fill="#f2521c"/>
<circle cx="473.87" cy="266.24" r="1.5" fill="#f2521c"/>
<circle cx="369.83" cy="272.11" r="1.9" fill="#f2521c"/>
<circle cx="372.42" cy="272.11" r="1.9" fill="#f2521c"/>
<circle cx="375.01" cy="270.82" r="1.9" fill="#f2521c"/>
<circle cx="376.82" cy="270.82" r="1.9" fill="#f2521c"/>
<circle cx="406.07" cy="269.53" r="1.9" fill="#f2521c"/>
<circle cx="418.23" cy="270.3" r="1.9" fill="#f2521c"/>
<circle cx="450.58" cy="270.82" r="1.9" fill="#f2521c"/>
<circle cx="455.76" cy="270.3" r="1.9" fill="#f2521c"/>
<circle cx="463.52" cy="271.34" r="1.9" fill="#f2521c"/>
<circle cx="468.7" cy="270.3" r="1.9" fill="#f2521c"/>
<circle cx="473.87" cy="270.3" r="1.9" fill="#f2521c"/>
<circle cx="476.46" cy="270.82" r="1.9" fill="#f2521c"/>
<circle cx="477.75" cy="271.34" r="1.9" fill="#f2521c"/>
<circle cx="482.93" cy="270.3" r="1.9" fill="#f2521c"/>
<rect x="369.15" y="267.55" width="2.4" height="2.4" fill="none" stroke="#1a80c8" stroke-width="1.1"/>
<rect x="371.74" y="267.03" width="2.4" height="2.4" fill="none" stroke="#1a80c8" stroke-width="1.1"/>
<rect x="373.81" y="267.55" width="2.4" height="2.4" fill="none" stroke="#1a80c8" stroke-width="1.1"/>
<rect x="375.62" y="267.55" width="2.4" height="2.4" fill="none" stroke="#1a80c8" stroke-width="1.1"/>
<rect x="383.39" y="263.93" width="2.4" height="2.4" fill="none" stroke="#1a80c8" stroke-width="1.1"/>
<rect x="391.93" y="267.03" width="2.4" height="2.4" fill="none" stroke="#1a80c8" stroke-width="1.1"/>
<rect x="397.1" y="267.03" width="2.4" height="2.4" fill="none" stroke="#1a80c8" stroke-width="1.1"/>
<rect x="402.28" y="266.51" width="2.4" height="2.4" fill="none" stroke="#1a80c8" stroke-width="1.1"/>
<rect x="404.87" y="266.51" width="2.4" height="2.4" fill="none" stroke="#1a80c8" stroke-width="1.1"/>
<rect x="409.27" y="267.55" width="2.4" height="2.4" fill="none" stroke="#1a80c8" stroke-width="1.1"/>
<rect x="415.74" y="262.63" width="2.4" height="2.4" fill="none" stroke="#1a80c8" stroke-width="1.1"/>
<rect x="417.03" y="267.55" width="2.4" height="2.4" fill="none" stroke="#1a80c8" stroke-width="1.1"/>
<rect x="424.02" y="267.03" width="2.4" height="2.4" fill="none" stroke="#1a80c8" stroke-width="1.1"/>
<rect x="431.26" y="266.51" width="2.4" height="2.4" fill="none" stroke="#1a80c8" stroke-width="1.1"/>
<rect x="440.32" y="267.55" width="2.4" height="2.4" fill="none" stroke="#1a80c8" stroke-width="1.1"/>
<rect x="449.38" y="267.81" width="2.4" height="2.4" fill="none" stroke="#1a80c8" stroke-width="1.1"/>
<rect x="454.56" y="267.03" width="2.4" height="2.4" fill="none" stroke="#1a80c8" stroke-width="1.1"/>
<rect x="455.85" y="266.51" width="2.4" height="2.4" fill="none" stroke="#1a80c8" stroke-width="1.1"/>
<rect x="461.03" y="259.79" width="2.4" height="2.4" fill="none" stroke="#1a80c8" stroke-width="1.1"/>
<rect x="463.61" y="257.97" width="2.4" height="2.4" fill="none" stroke="#1a80c8" stroke-width="1.1"/>
<rect x="466.98" y="257.2" width="2.4" height="2.4" fill="none" stroke="#1a80c8" stroke-width="1.1"/>
<rect x="472.67" y="264.44" width="2.4" height="2.4" fill="none" stroke="#1a80c8" stroke-width="1.1"/>
<rect x="475.26" y="255.39" width="2.4" height="2.4" fill="none" stroke="#1a80c8" stroke-width="1.1"/>
<rect x="476.55" y="254.09" width="2.4" height="2.4" fill="none" stroke="#1a80c8" stroke-width="1.1"/>
<rect x="481.73" y="250.99" width="2.4" height="2.4" fill="none" stroke="#1a80c8" stroke-width="1.1"/>
<rect x="362.6" y="234.25" width="129.8" height="42.8" fill="none" stroke="#262626" stroke-width="1.3"/>
<text x="495.34" y="236.85" font-size="7.6" text-anchor="start" fill="#262626" style="stroke-width:0.2px" textLength="9.11" lengthAdjust="spacingAndGlyphs">10</text>
<text x="504.82" y="233.75" font-size="6.4" text-anchor="start" fill="#262626" style="stroke-width:0.15px" textLength="7.27" lengthAdjust="spacingAndGlyphs">10</text>
<text x="495.34" y="264.4" font-size="7.6" text-anchor="start" fill="#262626" style="stroke-width:0.2px" textLength="9.11" lengthAdjust="spacingAndGlyphs">10</text>
<text x="504.82" y="261.25" font-size="6.4" text-anchor="start" fill="#262626" style="stroke-width:0.15px" textLength="4.47" lengthAdjust="spacingAndGlyphs">5</text>
<path d="M362.6 323.05H492.4M362.6 317.7H492.4M362.6 307H492.4M362.6 301.65H492.4M362.6 296.3H492.4M362.6 290.95H492.4" stroke="#bdbdbd" stroke-width="0.7" stroke-dasharray="1 1.6"/>
<path d="M362.6 312.35H492.4" stroke="#d9d9d9" stroke-width="0.7"/>
<path d="M369 285.6V328.4M407.85 285.6V328.4M446.7 285.6V328.4M485.55 285.6V328.4" stroke="#d9d9d9" stroke-width="0.7"/>
<circle cx="363.11" cy="320.83" r="1.5" fill="#f2521c"/>
<circle cx="366.47" cy="320.83" r="1.5" fill="#f2521c"/>
<circle cx="368.28" cy="321.35" r="1.5" fill="#f2521c"/>
<circle cx="375.53" cy="318.24" r="1.5" fill="#f2521c"/>
<circle cx="382.77" cy="320.31" r="1.5" fill="#f2521c"/>
<circle cx="387.17" cy="320.83" r="1.5" fill="#f2521c"/>
<circle cx="392.35" cy="320.06" r="1.5" fill="#f2521c"/>
<circle cx="394.94" cy="320.83" r="1.5" fill="#f2521c"/>
<circle cx="398.82" cy="321.35" r="1.5" fill="#f2521c"/>
<circle cx="406.07" cy="316.17" r="1.5" fill="#f2521c"/>
<circle cx="406.58" cy="320.83" r="1.5" fill="#f2521c"/>
<circle cx="414.87" cy="320.31" r="1.5" fill="#f2521c"/>
<circle cx="421.59" cy="319.02" r="1.5" fill="#f2521c"/>
<circle cx="430.39" cy="320.31" r="1.5" fill="#f2521c"/>
<circle cx="440.23" cy="320.83" r="1.5" fill="#f2521c"/>
<circle cx="445.4" cy="320.83" r="1.5" fill="#f2521c"/>
<circle cx="453.69" cy="320.83" r="1.5" fill="#f2521c"/>
<circle cx="453.17" cy="316.95" r="1.5" fill="#f2521c"/>
<circle cx="455.76" cy="315.66" r="1.5" fill="#f2521c"/>
<circle cx="462.23" cy="320.31" r="1.5" fill="#f2521c"/>
<circle cx="471.28" cy="318.24" r="1.5" fill="#f2521c"/>
<circle cx="363.11" cy="322.82" r="1.9" fill="#f2521c"/>
<circle cx="367.76" cy="323.34" r="1.9" fill="#f2521c"/>
<circle cx="387.17" cy="322.3" r="1.9" fill="#f2521c"/>
<circle cx="394.94" cy="321.53" r="1.9" fill="#f2521c"/>
<circle cx="406.58" cy="321.53" r="1.9" fill="#f2521c"/>
<circle cx="453.69" cy="322.3" r="1.9" fill="#f2521c"/>
<circle cx="458.34" cy="320.23" r="1.9" fill="#f2521c"/>
<circle cx="462.23" cy="320.23" r="1.9" fill="#f2521c"/>
<circle cx="467.4" cy="322.3" r="1.9" fill="#f2521c"/>
<circle cx="469.99" cy="321.53" r="1.9" fill="#f2521c"/>
<circle cx="471.28" cy="321.01" r="1.9" fill="#f2521c"/>
<rect x="361.91" y="319.03" width="2.4" height="2.4" fill="none" stroke="#1a80c8" stroke-width="1.1"/>
<rect x="365.27" y="319.03" width="2.4" height="2.4" fill="none" stroke="#1a80c8" stroke-width="1.1"/>
<rect x="367.08" y="319.55" width="2.4" height="2.4" fill="none" stroke="#1a80c8" stroke-width="1.1"/>
<rect x="374.33" y="316.44" width="2.4" height="2.4" fill="none" stroke="#1a80c8" stroke-width="1.1"/>
<rect x="381.57" y="318.51" width="2.4" height="2.4" fill="none" stroke="#1a80c8" stroke-width="1.1"/>
<rect x="385.97" y="319.03" width="2.4" height="2.4" fill="none" stroke="#1a80c8" stroke-width="1.1"/>
<rect x="391.15" y="318.26" width="2.4" height="2.4" fill="none" stroke="#1a80c8" stroke-width="1.1"/>
<rect x="393.74" y="319.03" width="2.4" height="2.4" fill="none" stroke="#1a80c8" stroke-width="1.1"/>
<rect x="397.62" y="319.55" width="2.4" height="2.4" fill="none" stroke="#1a80c8" stroke-width="1.1"/>
<rect x="404.87" y="314.37" width="2.4" height="2.4" fill="none" stroke="#1a80c8" stroke-width="1.1"/>
<rect x="405.38" y="319.03" width="2.4" height="2.4" fill="none" stroke="#1a80c8" stroke-width="1.1"/>
<rect x="413.67" y="318.51" width="2.4" height="2.4" fill="none" stroke="#1a80c8" stroke-width="1.1"/>
<rect x="420.39" y="317.22" width="2.4" height="2.4" fill="none" stroke="#1a80c8" stroke-width="1.1"/>
<rect x="429.19" y="318.51" width="2.4" height="2.4" fill="none" stroke="#1a80c8" stroke-width="1.1"/>
<rect x="439.03" y="319.03" width="2.4" height="2.4" fill="none" stroke="#1a80c8" stroke-width="1.1"/>
<rect x="444.2" y="319.03" width="2.4" height="2.4" fill="none" stroke="#1a80c8" stroke-width="1.1"/>
<rect x="452.49" y="319.03" width="2.4" height="2.4" fill="none" stroke="#1a80c8" stroke-width="1.1"/>
<rect x="451.97" y="315.15" width="2.4" height="2.4" fill="none" stroke="#1a80c8" stroke-width="1.1"/>
<rect x="454.56" y="313.86" width="2.4" height="2.4" fill="none" stroke="#1a80c8" stroke-width="1.1"/>
<rect x="457.66" y="313.34" width="2.4" height="2.4" fill="none" stroke="#1a80c8" stroke-width="1.1"/>
<rect x="461.03" y="318.51" width="2.4" height="2.4" fill="none" stroke="#1a80c8" stroke-width="1.1"/>
<rect x="466.2" y="313.34" width="2.4" height="2.4" fill="none" stroke="#1a80c8" stroke-width="1.1"/>
<rect x="467.5" y="312.56" width="2.4" height="2.4" fill="none" stroke="#1a80c8" stroke-width="1.1"/>
<rect x="470.08" y="316.44" width="2.4" height="2.4" fill="none" stroke="#1a80c8" stroke-width="1.1"/>
<rect x="362.6" y="285.6" width="129.8" height="42.8" fill="none" stroke="#262626" stroke-width="1.3"/>
<text x="495.34" y="288.2" font-size="7.6" text-anchor="start" fill="#262626" style="stroke-width:0.2px" textLength="9.11" lengthAdjust="spacingAndGlyphs">10</text>
<text x="504.82" y="285.1" font-size="6.4" text-anchor="start" fill="#262626" style="stroke-width:0.15px" textLength="7.27" lengthAdjust="spacingAndGlyphs">10</text>
<text x="495.34" y="315.75" font-size="7.6" text-anchor="start" fill="#262626" style="stroke-width:0.2px" textLength="9.11" lengthAdjust="spacingAndGlyphs">10</text>
<text x="504.82" y="312.6" font-size="6.4" text-anchor="start" fill="#262626" style="stroke-width:0.15px" textLength="4.47" lengthAdjust="spacingAndGlyphs">5</text>
<path d="M362.6 374.4H492.4M362.6 369.05H492.4M362.6 358.35H492.4M362.6 353H492.4M362.6 347.65H492.4M362.6 342.3H492.4" stroke="#bdbdbd" stroke-width="0.7" stroke-dasharray="1 1.6"/>
<path d="M362.6 363.7H492.4" stroke="#d9d9d9" stroke-width="0.7"/>
<path d="M369 336.95V379.75M407.85 336.95V379.75M446.7 336.95V379.75M485.55 336.95V379.75" stroke="#d9d9d9" stroke-width="0.7"/>
<circle cx="370.35" cy="373.13" r="1.5" fill="#f2521c"/>
<circle cx="372.94" cy="372.35" r="1.5" fill="#f2521c"/>
<circle cx="375.01" cy="373.13" r="1.5" fill="#f2521c"/>
<circle cx="377.6" cy="372.61" r="1.5" fill="#f2521c"/>
<circle cx="385.88" cy="369.24" r="1.5" fill="#f2521c"/>
<circle cx="394.16" cy="372.35" r="1.5" fill="#f2521c"/>
<circle cx="398.82" cy="371.83" r="1.5" fill="#f2521c"/>
<circle cx="405.29" cy="372.35" r="1.5" fill="#f2521c"/>
<circle cx="407.88" cy="372.61" r="1.5" fill="#f2521c"/>
<circle cx="411.76" cy="373.13" r="1.5" fill="#f2521c"/>
<circle cx="417.45" cy="367.95" r="1.5" fill="#f2521c"/>
<circle cx="419.01" cy="373.13" r="1.5" fill="#f2521c"/>
<circle cx="426.77" cy="372.35" r="1.5" fill="#f2521c"/>
<circle cx="434.53" cy="371.31" r="1.5" fill="#f2521c"/>
<circle cx="443.33" cy="371.83" r="1.5" fill="#f2521c"/>
<circle cx="453.17" cy="373.13" r="1.5" fill="#f2521c"/>
<circle cx="458.34" cy="373.13" r="1.5" fill="#f2521c"/>
<circle cx="475.17" cy="370.54" r="1.5" fill="#f2521c"/>
<circle cx="369.83" cy="375.11" r="1.9" fill="#f2521c"/>
<circle cx="372.42" cy="375.11" r="1.9" fill="#f2521c"/>
<circle cx="375.01" cy="374.34" r="1.9" fill="#f2521c"/>
<circle cx="377.6" cy="373.82" r="1.9" fill="#f2521c"/>
<circle cx="405.29" cy="372.53" r="1.9" fill="#f2521c"/>
<circle cx="419.01" cy="373.3" r="1.9" fill="#f2521c"/>
<circle cx="453.17" cy="373.3" r="1.9" fill="#f2521c"/>
<circle cx="464.81" cy="371.23" r="1.9" fill="#f2521c"/>
<circle cx="467.4" cy="372.53" r="1.9" fill="#f2521c"/>
<circle cx="471.28" cy="372.01" r="1.9" fill="#f2521c"/>
<circle cx="475.17" cy="371.23" r="1.9" fill="#f2521c"/>
<circle cx="477.75" cy="372.53" r="1.9" fill="#f2521c"/>
<circle cx="479.57" cy="373.3" r="1.9" fill="#f2521c"/>
<circle cx="481.12" cy="373.82" r="1.9" fill="#f2521c"/>
<circle cx="484.74" cy="372.01" r="1.9" fill="#f2521c"/>
<rect x="369.15" y="371.33" width="2.4" height="2.4" fill="none" stroke="#1a80c8" stroke-width="1.1"/>
<rect x="371.74" y="370.55" width="2.4" height="2.4" fill="none" stroke="#1a80c8" stroke-width="1.1"/>
<rect x="373.81" y="371.33" width="2.4" height="2.4" fill="none" stroke="#1a80c8" stroke-width="1.1"/>
<rect x="376.4" y="370.81" width="2.4" height="2.4" fill="none" stroke="#1a80c8" stroke-width="1.1"/>
<rect x="384.68" y="367.44" width="2.4" height="2.4" fill="none" stroke="#1a80c8" stroke-width="1.1"/>
<rect x="392.96" y="370.55" width="2.4" height="2.4" fill="none" stroke="#1a80c8" stroke-width="1.1"/>
<rect x="397.62" y="370.03" width="2.4" height="2.4" fill="none" stroke="#1a80c8" stroke-width="1.1"/>
<rect x="404.09" y="370.55" width="2.4" height="2.4" fill="none" stroke="#1a80c8" stroke-width="1.1"/>
<rect x="406.68" y="370.81" width="2.4" height="2.4" fill="none" stroke="#1a80c8" stroke-width="1.1"/>
<rect x="410.56" y="371.33" width="2.4" height="2.4" fill="none" stroke="#1a80c8" stroke-width="1.1"/>
<rect x="416.25" y="366.15" width="2.4" height="2.4" fill="none" stroke="#1a80c8" stroke-width="1.1"/>
<rect x="417.81" y="371.33" width="2.4" height="2.4" fill="none" stroke="#1a80c8" stroke-width="1.1"/>
<rect x="425.57" y="370.55" width="2.4" height="2.4" fill="none" stroke="#1a80c8" stroke-width="1.1"/>
<rect x="433.33" y="369.51" width="2.4" height="2.4" fill="none" stroke="#1a80c8" stroke-width="1.1"/>
<rect x="442.13" y="370.03" width="2.4" height="2.4" fill="none" stroke="#1a80c8" stroke-width="1.1"/>
<rect x="451.97" y="371.33" width="2.4" height="2.4" fill="none" stroke="#1a80c8" stroke-width="1.1"/>
<rect x="457.14" y="371.33" width="2.4" height="2.4" fill="none" stroke="#1a80c8" stroke-width="1.1"/>
<rect x="463.61" y="361.75" width="2.4" height="2.4" fill="none" stroke="#1a80c8" stroke-width="1.1"/>
<rect x="466.98" y="360.97" width="2.4" height="2.4" fill="none" stroke="#1a80c8" stroke-width="1.1"/>
<rect x="470.08" y="360.97" width="2.4" height="2.4" fill="none" stroke="#1a80c8" stroke-width="1.1"/>
<rect x="473.97" y="368.74" width="2.4" height="2.4" fill="none" stroke="#1a80c8" stroke-width="1.1"/>
<rect x="477.33" y="360.2" width="2.4" height="2.4" fill="none" stroke="#1a80c8" stroke-width="1.1"/>
<rect x="479.14" y="359.68" width="2.4" height="2.4" fill="none" stroke="#1a80c8" stroke-width="1.1"/>
<rect x="483.54" y="360.97" width="2.4" height="2.4" fill="none" stroke="#1a80c8" stroke-width="1.1"/>
<rect x="362.6" y="336.95" width="129.8" height="42.8" fill="none" stroke="#262626" stroke-width="1.3"/>
<text x="495.34" y="339.55" font-size="7.6" text-anchor="start" fill="#262626" style="stroke-width:0.2px" textLength="9.11" lengthAdjust="spacingAndGlyphs">10</text>
<text x="504.82" y="336.45" font-size="6.4" text-anchor="start" fill="#262626" style="stroke-width:0.15px" textLength="7.27" lengthAdjust="spacingAndGlyphs">10</text>
<text x="495.34" y="367.1" font-size="7.6" text-anchor="start" fill="#262626" style="stroke-width:0.2px" textLength="9.11" lengthAdjust="spacingAndGlyphs">10</text>
<text x="504.82" y="363.95" font-size="6.4" text-anchor="start" fill="#262626" style="stroke-width:0.15px" textLength="4.47" lengthAdjust="spacingAndGlyphs">5</text>
<path d="M362.6 425.75H492.4M362.6 420.4H492.4M362.6 409.7H492.4M362.6 404.35H492.4M362.6 399H492.4M362.6 393.65H492.4" stroke="#bdbdbd" stroke-width="0.7" stroke-dasharray="1 1.6"/>
<path d="M362.6 415.05H492.4" stroke="#d9d9d9" stroke-width="0.7"/>
<path d="M369 388.3V431.1M407.85 388.3V431.1M446.7 388.3V431.1M485.55 388.3V431.1" stroke="#d9d9d9" stroke-width="0.7"/>
<circle cx="369.83" cy="424.13" r="1.5" fill="#f2521c"/>
<circle cx="371.65" cy="422.83" r="1.5" fill="#f2521c"/>
<circle cx="373.46" cy="422.83" r="1.5" fill="#f2521c"/>
<circle cx="376.05" cy="423.35" r="1.5" fill="#f2521c"/>
<circle cx="383.81" cy="420.24" r="1.5" fill="#f2521c"/>
<circle cx="391.57" cy="422.83" r="1.5" fill="#f2521c"/>
<circle cx="396.23" cy="422.83" r="1.5" fill="#f2521c"/>
<circle cx="400.89" cy="422.83" r="1.5" fill="#f2521c"/>
<circle cx="403.48" cy="422.83" r="1.5" fill="#f2521c"/>
<circle cx="407.1" cy="422.83" r="1.5" fill="#f2521c"/>
<circle cx="414.35" cy="418.17" r="1.5" fill="#f2521c"/>
<circle cx="415.64" cy="423.35" r="1.5" fill="#f2521c"/>
<circle cx="421.59" cy="422.83" r="1.5" fill="#f2521c"/>
<circle cx="428.58" cy="422.06" r="1.5" fill="#f2521c"/>
<circle cx="437.64" cy="422.83" r="1.5" fill="#f2521c"/>
<circle cx="445.92" cy="423.35" r="1.5" fill="#f2521c"/>
<circle cx="451.87" cy="423.35" r="1.5" fill="#f2521c"/>
<circle cx="456.27" cy="418.95" r="1.5" fill="#f2521c"/>
<circle cx="458.86" cy="418.43" r="1.5" fill="#f2521c"/>
<circle cx="469.99" cy="423.35" r="1.5" fill="#f2521c"/>
<circle cx="477.75" cy="420.76" r="1.5" fill="#f2521c"/>
<circle cx="369.83" cy="426.11" r="1.9" fill="#f2521c"/>
<circle cx="371.65" cy="425.34" r="1.9" fill="#f2521c"/>
<circle cx="373.46" cy="424.82" r="1.9" fill="#f2521c"/>
<circle cx="376.05" cy="424.82" r="1.9" fill="#f2521c"/>
<circle cx="407.1" cy="424.3" r="1.9" fill="#f2521c"/>
<circle cx="415.64" cy="424.82" r="1.9" fill="#f2521c"/>
<circle cx="421.59" cy="423.53" r="1.9" fill="#f2521c"/>
<circle cx="437.64" cy="423.53" r="1.9" fill="#f2521c"/>
<circle cx="445.92" cy="424.3" r="1.9" fill="#f2521c"/>
<circle cx="451.87" cy="424.82" r="1.9" fill="#f2521c"/>
<circle cx="456.27" cy="422.75" r="1.9" fill="#f2521c"/>
<circle cx="458.86" cy="424.3" r="1.9" fill="#f2521c"/>
<circle cx="462.23" cy="423.53" r="1.9" fill="#f2521c"/>
<circle cx="463.52" cy="423.53" r="1.9" fill="#f2521c"/>
<circle cx="469.99" cy="423.53" r="1.9" fill="#f2521c"/>
<circle cx="471.8" cy="424.82" r="1.9" fill="#f2521c"/>
<circle cx="473.87" cy="424.82" r="1.9" fill="#f2521c"/>
<circle cx="477.75" cy="423.53" r="1.9" fill="#f2521c"/>
<rect x="368.63" y="422.33" width="2.4" height="2.4" fill="none" stroke="#1a80c8" stroke-width="1.1"/>
<rect x="370.45" y="421.03" width="2.4" height="2.4" fill="none" stroke="#1a80c8" stroke-width="1.1"/>
<rect x="372.26" y="421.03" width="2.4" height="2.4" fill="none" stroke="#1a80c8" stroke-width="1.1"/>
<rect x="374.85" y="421.55" width="2.4" height="2.4" fill="none" stroke="#1a80c8" stroke-width="1.1"/>
<rect x="382.61" y="418.44" width="2.4" height="2.4" fill="none" stroke="#1a80c8" stroke-width="1.1"/>
<rect x="390.37" y="421.03" width="2.4" height="2.4" fill="none" stroke="#1a80c8" stroke-width="1.1"/>
<rect x="395.03" y="421.03" width="2.4" height="2.4" fill="none" stroke="#1a80c8" stroke-width="1.1"/>
<rect x="399.69" y="421.03" width="2.4" height="2.4" fill="none" stroke="#1a80c8" stroke-width="1.1"/>
<rect x="402.28" y="421.03" width="2.4" height="2.4" fill="none" stroke="#1a80c8" stroke-width="1.1"/>
<rect x="405.9" y="421.03" width="2.4" height="2.4" fill="none" stroke="#1a80c8" stroke-width="1.1"/>
<rect x="413.15" y="416.37" width="2.4" height="2.4" fill="none" stroke="#1a80c8" stroke-width="1.1"/>
<rect x="414.44" y="421.55" width="2.4" height="2.4" fill="none" stroke="#1a80c8" stroke-width="1.1"/>
<rect x="420.39" y="421.03" width="2.4" height="2.4" fill="none" stroke="#1a80c8" stroke-width="1.1"/>
<rect x="427.38" y="420.26" width="2.4" height="2.4" fill="none" stroke="#1a80c8" stroke-width="1.1"/>
<rect x="436.44" y="421.03" width="2.4" height="2.4" fill="none" stroke="#1a80c8" stroke-width="1.1"/>
<rect x="444.72" y="421.55" width="2.4" height="2.4" fill="none" stroke="#1a80c8" stroke-width="1.1"/>
<rect x="450.67" y="421.55" width="2.4" height="2.4" fill="none" stroke="#1a80c8" stroke-width="1.1"/>
<rect x="455.07" y="417.15" width="2.4" height="2.4" fill="none" stroke="#1a80c8" stroke-width="1.1"/>
<rect x="457.66" y="416.63" width="2.4" height="2.4" fill="none" stroke="#1a80c8" stroke-width="1.1"/>
<rect x="462.32" y="415.86" width="2.4" height="2.4" fill="none" stroke="#1a80c8" stroke-width="1.1"/>
<rect x="468.79" y="421.55" width="2.4" height="2.4" fill="none" stroke="#1a80c8" stroke-width="1.1"/>
<rect x="470.6" y="415.34" width="2.4" height="2.4" fill="none" stroke="#1a80c8" stroke-width="1.1"/>
<rect x="476.55" y="418.96" width="2.4" height="2.4" fill="none" stroke="#1a80c8" stroke-width="1.1"/>
<rect x="362.6" y="388.3" width="129.8" height="42.8" fill="none" stroke="#262626" stroke-width="1.3"/>
<text x="495.34" y="390.9" font-size="7.6" text-anchor="start" fill="#262626" style="stroke-width:0.2px" textLength="9.11" lengthAdjust="spacingAndGlyphs">10</text>
<text x="504.82" y="387.8" font-size="6.4" text-anchor="start" fill="#262626" style="stroke-width:0.15px" textLength="7.27" lengthAdjust="spacingAndGlyphs">10</text>
<text x="495.34" y="418.45" font-size="7.6" text-anchor="start" fill="#262626" style="stroke-width:0.2px" textLength="9.11" lengthAdjust="spacingAndGlyphs">10</text>
<text x="504.82" y="415.3" font-size="6.4" text-anchor="start" fill="#262626" style="stroke-width:0.15px" textLength="4.47" lengthAdjust="spacingAndGlyphs">5</text>
<path d="M362.6 477.1H492.4M362.6 471.75H492.4M362.6 461.05H492.4M362.6 455.7H492.4M362.6 450.35H492.4M362.6 445H492.4" stroke="#bdbdbd" stroke-width="0.7" stroke-dasharray="1 1.6"/>
<path d="M362.6 466.4H492.4" stroke="#d9d9d9" stroke-width="0.7"/>
<path d="M369 439.65V482.45M407.85 439.65V482.45M446.7 439.65V482.45M485.55 439.65V482.45" stroke="#d9d9d9" stroke-width="0.7"/>
<circle cx="370.35" cy="475.13" r="1.5" fill="#f2521c"/>
<circle cx="372.42" cy="474.61" r="1.5" fill="#f2521c"/>
<circle cx="374.23" cy="473.83" r="1.5" fill="#f2521c"/>
<circle cx="376.05" cy="475.13" r="1.5" fill="#f2521c"/>
<circle cx="378.63" cy="475.13" r="1.5" fill="#f2521c"/>
<circle cx="387.17" cy="471.24" r="1.5" fill="#f2521c"/>
<circle cx="394.94" cy="473.83" r="1.5" fill="#f2521c"/>
<circle cx="399.34" cy="473.83" r="1.5" fill="#f2521c"/>
<circle cx="406.58" cy="473.83" r="1.5" fill="#f2521c"/>
<circle cx="409.17" cy="474.35" r="1.5" fill="#f2521c"/>
<circle cx="413.83" cy="475.13" r="1.5" fill="#f2521c"/>
<circle cx="419.01" cy="469.95" r="1.5" fill="#f2521c"/>
<circle cx="422.11" cy="475.13" r="1.5" fill="#f2521c"/>
<circle cx="429.36" cy="474.35" r="1.5" fill="#f2521c"/>
<circle cx="437.12" cy="473.83" r="1.5" fill="#f2521c"/>
<circle cx="446.7" cy="474.35" r="1.5" fill="#f2521c"/>
<circle cx="455.76" cy="475.13" r="1.5" fill="#f2521c"/>
<circle cx="460.41" cy="475.13" r="1.5" fill="#f2521c"/>
<circle cx="461.45" cy="475.9" r="1.5" fill="#f2521c"/>
<circle cx="477.75" cy="473.83" r="1.5" fill="#f2521c"/>
<circle cx="369.83" cy="477.11" r="1.9" fill="#f2521c"/>
<circle cx="372.42" cy="477.11" r="1.9" fill="#f2521c"/>
<circle cx="375.01" cy="475.82" r="1.9" fill="#f2521c"/>
<circle cx="378.12" cy="475.82" r="1.9" fill="#f2521c"/>
<circle cx="394.94" cy="475.3" r="1.9" fill="#f2521c"/>
<circle cx="406.58" cy="475.3" r="1.9" fill="#f2521c"/>
<circle cx="409.17" cy="475.82" r="1.9" fill="#f2521c"/>
<circle cx="422.11" cy="475.82" r="1.9" fill="#f2521c"/>
<circle cx="429.36" cy="475.82" r="1.9" fill="#f2521c"/>
<circle cx="455.76" cy="475.82" r="1.9" fill="#f2521c"/>
<circle cx="460.93" cy="475.82" r="1.9" fill="#f2521c"/>
<circle cx="466.63" cy="474.01" r="1.9" fill="#f2521c"/>
<circle cx="468.7" cy="475.3" r="1.9" fill="#f2521c"/>
<circle cx="473.87" cy="475.3" r="1.9" fill="#f2521c"/>
<circle cx="478.53" cy="474.53" r="1.9" fill="#f2521c"/>
<circle cx="481.64" cy="475.82" r="1.9" fill="#f2521c"/>
<circle cx="482.93" cy="476.34" r="1.9" fill="#f2521c"/>
<circle cx="486.81" cy="474.53" r="1.9" fill="#f2521c"/>
<rect x="369.15" y="473.33" width="2.4" height="2.4" fill="none" stroke="#1a80c8" stroke-width="1.1"/>
<rect x="371.22" y="472.81" width="2.4" height="2.4" fill="none" stroke="#1a80c8" stroke-width="1.1"/>
<rect x="373.03" y="472.03" width="2.4" height="2.4" fill="none" stroke="#1a80c8" stroke-width="1.1"/>
<rect x="374.85" y="473.33" width="2.4" height="2.4" fill="none" stroke="#1a80c8" stroke-width="1.1"/>
<rect x="377.43" y="473.33" width="2.4" height="2.4" fill="none" stroke="#1a80c8" stroke-width="1.1"/>
<rect x="385.97" y="469.44" width="2.4" height="2.4" fill="none" stroke="#1a80c8" stroke-width="1.1"/>
<rect x="393.74" y="472.03" width="2.4" height="2.4" fill="none" stroke="#1a80c8" stroke-width="1.1"/>
<rect x="398.14" y="472.03" width="2.4" height="2.4" fill="none" stroke="#1a80c8" stroke-width="1.1"/>
<rect x="405.38" y="472.03" width="2.4" height="2.4" fill="none" stroke="#1a80c8" stroke-width="1.1"/>
<rect x="407.97" y="472.55" width="2.4" height="2.4" fill="none" stroke="#1a80c8" stroke-width="1.1"/>
<rect x="412.63" y="473.33" width="2.4" height="2.4" fill="none" stroke="#1a80c8" stroke-width="1.1"/>
<rect x="417.81" y="468.15" width="2.4" height="2.4" fill="none" stroke="#1a80c8" stroke-width="1.1"/>
<rect x="420.91" y="473.33" width="2.4" height="2.4" fill="none" stroke="#1a80c8" stroke-width="1.1"/>
<rect x="428.16" y="472.55" width="2.4" height="2.4" fill="none" stroke="#1a80c8" stroke-width="1.1"/>
<rect x="435.92" y="472.03" width="2.4" height="2.4" fill="none" stroke="#1a80c8" stroke-width="1.1"/>
<rect x="445.5" y="472.55" width="2.4" height="2.4" fill="none" stroke="#1a80c8" stroke-width="1.1"/>
<rect x="454.56" y="473.33" width="2.4" height="2.4" fill="none" stroke="#1a80c8" stroke-width="1.1"/>
<rect x="459.21" y="473.33" width="2.4" height="2.4" fill="none" stroke="#1a80c8" stroke-width="1.1"/>
<rect x="460.25" y="474.1" width="2.4" height="2.4" fill="none" stroke="#1a80c8" stroke-width="1.1"/>
<rect x="465.43" y="464.27" width="2.4" height="2.4" fill="none" stroke="#1a80c8" stroke-width="1.1"/>
<rect x="467.5" y="464.27" width="2.4" height="2.4" fill="none" stroke="#1a80c8" stroke-width="1.1"/>
<rect x="472.67" y="462.97" width="2.4" height="2.4" fill="none" stroke="#1a80c8" stroke-width="1.1"/>
<rect x="476.55" y="472.03" width="2.4" height="2.4" fill="none" stroke="#1a80c8" stroke-width="1.1"/>
<rect x="479.92" y="462.97" width="2.4" height="2.4" fill="none" stroke="#1a80c8" stroke-width="1.1"/>
<rect x="481.73" y="462.46" width="2.4" height="2.4" fill="none" stroke="#1a80c8" stroke-width="1.1"/>
<rect x="485.61" y="466.34" width="2.4" height="2.4" fill="none" stroke="#1a80c8" stroke-width="1.1"/>
<rect x="362.6" y="439.65" width="129.8" height="42.8" fill="none" stroke="#262626" stroke-width="1.3"/>
<text x="495.34" y="442.25" font-size="7.6" text-anchor="start" fill="#262626" style="stroke-width:0.2px" textLength="9.11" lengthAdjust="spacingAndGlyphs">10</text>
<text x="504.82" y="439.15" font-size="6.4" text-anchor="start" fill="#262626" style="stroke-width:0.15px" textLength="7.27" lengthAdjust="spacingAndGlyphs">10</text>
<text x="495.34" y="469.8" font-size="7.6" text-anchor="start" fill="#262626" style="stroke-width:0.2px" textLength="9.11" lengthAdjust="spacingAndGlyphs">10</text>
<text x="504.82" y="466.65" font-size="6.4" text-anchor="start" fill="#262626" style="stroke-width:0.15px" textLength="4.47" lengthAdjust="spacingAndGlyphs">5</text>
<path d="M369 80.2v2.5M369 123v-2.5M407.85 80.2v2.5M407.85 123v-2.5M446.7 80.2v2.5M446.7 123v-2.5M485.55 80.2v2.5M485.55 123v-2.5M362.6 117.65h2M492.4 117.65h-2M362.6 112.3h2M492.4 112.3h-2M362.6 106.95h2M492.4 106.95h-2M362.6 101.6h2M492.4 101.6h-2M362.6 96.25h2M492.4 96.25h-2M362.6 90.9h2M492.4 90.9h-2M362.6 85.55h2M492.4 85.55h-2M369 131.55v2.5M369 174.35v-2.5M407.85 131.55v2.5M407.85 174.35v-2.5M446.7 131.55v2.5M446.7 174.35v-2.5M485.55 131.55v2.5M485.55 174.35v-2.5M362.6 169h2M492.4 169h-2M362.6 163.65h2M492.4 163.65h-2M362.6 158.3h2M492.4 158.3h-2M362.6 152.95h2M492.4 152.95h-2M362.6 147.6h2M492.4 147.6h-2M362.6 142.25h2M492.4 142.25h-2M362.6 136.9h2M492.4 136.9h-2M369 182.9v2.5M369 225.7v-2.5M407.85 182.9v2.5M407.85 225.7v-2.5M446.7 182.9v2.5M446.7 225.7v-2.5M485.55 182.9v2.5M485.55 225.7v-2.5M362.6 220.35h2M492.4 220.35h-2M362.6 215h2M492.4 215h-2M362.6 209.65h2M492.4 209.65h-2M362.6 204.3h2M492.4 204.3h-2M362.6 198.95h2M492.4 198.95h-2M362.6 193.6h2M492.4 193.6h-2M362.6 188.25h2M492.4 188.25h-2M369 234.25v2.5M369 277.05v-2.5M407.85 234.25v2.5M407.85 277.05v-2.5M446.7 234.25v2.5M446.7 277.05v-2.5M485.55 234.25v2.5M485.55 277.05v-2.5M362.6 271.7h2M492.4 271.7h-2M362.6 266.35h2M492.4 266.35h-2M362.6 261h2M492.4 261h-2M362.6 255.65h2M492.4 255.65h-2M362.6 250.3h2M492.4 250.3h-2M362.6 244.95h2M492.4 244.95h-2M362.6 239.6h2M492.4 239.6h-2M369 285.6v2.5M369 328.4v-2.5M407.85 285.6v2.5M407.85 328.4v-2.5M446.7 285.6v2.5M446.7 328.4v-2.5M485.55 285.6v2.5M485.55 328.4v-2.5M362.6 323.05h2M492.4 323.05h-2M362.6 317.7h2M492.4 317.7h-2M362.6 312.35h2M492.4 312.35h-2M362.6 307h2M492.4 307h-2M362.6 301.65h2M492.4 301.65h-2M362.6 296.3h2M492.4 296.3h-2M362.6 290.95h2M492.4 290.95h-2M369 336.95v2.5M369 379.75v-2.5M407.85 336.95v2.5M407.85 379.75v-2.5M446.7 336.95v2.5M446.7 379.75v-2.5M485.55 336.95v2.5M485.55 379.75v-2.5M362.6 374.4h2M492.4 374.4h-2M362.6 369.05h2M492.4 369.05h-2M362.6 363.7h2M492.4 363.7h-2M362.6 358.35h2M492.4 358.35h-2M362.6 353h2M492.4 353h-2M362.6 347.65h2M492.4 347.65h-2M362.6 342.3h2M492.4 342.3h-2M369 388.3v2.5M369 431.1v-2.5M407.85 388.3v2.5M407.85 431.1v-2.5M446.7 388.3v2.5M446.7 431.1v-2.5M485.55 388.3v2.5M485.55 431.1v-2.5M362.6 425.75h2M492.4 425.75h-2M362.6 420.4h2M492.4 420.4h-2M362.6 415.05h2M492.4 415.05h-2M362.6 409.7h2M492.4 409.7h-2M362.6 404.35h2M492.4 404.35h-2M362.6 399h2M492.4 399h-2M362.6 393.65h2M492.4 393.65h-2M369 439.65v2.5M369 482.45v-2.5M407.85 439.65v2.5M407.85 482.45v-2.5M446.7 439.65v2.5M446.7 482.45v-2.5M485.55 439.65v2.5M485.55 482.45v-2.5M362.6 477.1h2M492.4 477.1h-2M362.6 471.75h2M492.4 471.75h-2M362.6 466.4h2M492.4 466.4h-2M362.6 461.05h2M492.4 461.05h-2M362.6 455.7h2M492.4 455.7h-2M362.6 450.35h2M492.4 450.35h-2M362.6 445h2M492.4 445h-2" stroke="#262626" stroke-width="0.9"/>
<rect x="385" y="54.2" width="107.5" height="22.6" fill="#fff" stroke="#262626" stroke-width="1"/>
<circle cx="399" cy="60.9" r="2.1" fill="#f2521c"/>
<rect x="397.2" y="69.7" width="4" height="4" fill="none" stroke="#1a80c8" stroke-width="1"/>
<text x="412.56" y="61.7" font-size="7.4" text-anchor="start" fill="#262626" textLength="21.89" lengthAdjust="spacingAndGlyphs">CPC2</text>
<text x="435.13" y="64.9" font-size="6.1" text-anchor="start" fill="#262626" style="stroke-width:0.15px" textLength="47.53" lengthAdjust="spacingAndGlyphs">10 nm, with CS</text>
<text x="412.56" y="72.9" font-size="7.4" text-anchor="start" fill="#262626" textLength="21.89" lengthAdjust="spacingAndGlyphs">EEPS</text>
<text x="435.13" y="75.9" font-size="6.1" text-anchor="start" fill="#262626" style="stroke-width:0.15px" textLength="54.73" lengthAdjust="spacingAndGlyphs">6 nm, without CS</text>
<text x="39.79" y="491.9" font-size="7.6" text-anchor="start" fill="#262626" textLength="6.21" lengthAdjust="spacingAndGlyphs">0</text>
<text x="77.95" y="491.9" font-size="7.6" text-anchor="start" fill="#262626" textLength="17.21" lengthAdjust="spacingAndGlyphs">200</text>
<text x="121.61" y="491.9" font-size="7.6" text-anchor="start" fill="#262626" textLength="17.21" lengthAdjust="spacingAndGlyphs">400</text>
<text x="165.27" y="491.9" font-size="7.6" text-anchor="start" fill="#262626" textLength="17.21" lengthAdjust="spacingAndGlyphs">600</text>
<text x="208.93" y="491.9" font-size="7.6" text-anchor="start" fill="#262626" textLength="17.21" lengthAdjust="spacingAndGlyphs">800</text>
<text x="250.39" y="491.9" font-size="7.6" text-anchor="start" fill="#262626" textLength="21.61" lengthAdjust="spacingAndGlyphs">1000</text>
<text x="295.15" y="491.9" font-size="7.6" text-anchor="start" fill="#262626" textLength="19.41" lengthAdjust="spacingAndGlyphs">1200</text>
<text x="361.74" y="491.8" font-size="7.6" text-anchor="start" fill="#262626" textLength="15.71" lengthAdjust="spacingAndGlyphs">100</text>
<text x="401.14" y="491.8" font-size="7.6" text-anchor="start" fill="#262626" textLength="15.11" lengthAdjust="spacingAndGlyphs">150</text>
<text x="437.84" y="491.8" font-size="7.6" text-anchor="start" fill="#262626" textLength="15.91" lengthAdjust="spacingAndGlyphs">200</text>
<text x="476.14" y="491.8" font-size="7.6" text-anchor="start" fill="#262626" textLength="15.91" lengthAdjust="spacingAndGlyphs">250</text>
<text x="172.37" y="501.2" font-size="8.9" text-anchor="start" fill="#262626" textLength="36.57" lengthAdjust="spacingAndGlyphs">Time [s]</text>
<text x="386.04" y="502.7" font-size="9.4" text-anchor="start" fill="#262626" textLength="5.73" lengthAdjust="spacingAndGlyphs">T</text>
<text x="392.07" y="505.8" font-size="7.2" text-anchor="start" fill="#262626" textLength="15.16" lengthAdjust="spacingAndGlyphs">Disc</text>
<text x="406.96" y="509" font-size="5.6" text-anchor="start" fill="#262626" style="stroke-width:0.15px" textLength="40.97" lengthAdjust="spacingAndGlyphs">Stop averaged</text>
<text x="448.96" y="501.6" font-size="9" text-anchor="start" fill="#262626" textLength="19.18" lengthAdjust="spacingAndGlyphs">[°C]</text>
<text transform="translate(18.9,294.55) rotate(-90)" font-size="9.2" text-anchor="start" fill="#262626" textLength="77.5" lengthAdjust="spacingAndGlyphs">tot. Conc [#/cm<tspan font-size="6" dy="-3.2">3</tspan><tspan dy="3.2">]</tspan></text>
<text transform="translate(528.6,320.23) rotate(-90)" font-size="8.8" text-anchor="start" fill="#262626" textLength="45.56" lengthAdjust="spacingAndGlyphs">tot. Conc.</text>
<text transform="translate(534.2,275.55) rotate(-90)" font-size="5.8" text-anchor="start" fill="#262626" style="stroke-width:0.15px" textLength="42.6" lengthAdjust="spacingAndGlyphs">Stop averaged</text>
<text transform="translate(527.4,231.23) rotate(-90)" font-size="8.8" text-anchor="start" fill="#262626" textLength="37.86" lengthAdjust="spacingAndGlyphs">[#/cm<tspan font-size="6" dy="-3.2">3</tspan><tspan dy="3.2">]</tspan></text>
<rect x="34.6" y="530.6" width="451.4" height="12.6" fill="#fff" stroke="#262626" stroke-width="1.1"/>
<line x1="37" y1="536.5" x2="59.6" y2="536.5" stroke="#1a80c8" stroke-width="1.4" stroke-dasharray="3.5 1.3 1.2 1.3"/>
<text x="62.44" y="538" font-size="7.6" text-anchor="start" fill="#262626" textLength="21.61" lengthAdjust="spacingAndGlyphs">EEPS</text>
<text x="85.13" y="541.5" font-size="6.1" text-anchor="start" fill="#262626" style="stroke-width:0.15px" textLength="40.43" lengthAdjust="spacingAndGlyphs">6 nm, wo CS</text>
<line x1="128.3" y1="536.5" x2="150.9" y2="536.5" stroke="#f0b020" stroke-width="1.4" stroke-dasharray="3.5 1.3 1.2 1.3"/>
<text x="153.24" y="538" font-size="7.6" text-anchor="start" fill="#262626" textLength="20.31" lengthAdjust="spacingAndGlyphs">CPC1</text>
<text x="174.13" y="541.5" font-size="6.1" text-anchor="start" fill="#262626" style="stroke-width:0.15px" textLength="43.63" lengthAdjust="spacingAndGlyphs">10 nm, wo CS</text>
<line x1="220.5" y1="536.5" x2="243.7" y2="536.5" stroke="#f2521c" stroke-width="1.4"/>
<text x="245.04" y="538" font-size="7.6" text-anchor="start" fill="#262626" textLength="22.51" lengthAdjust="spacingAndGlyphs">CPC2</text>
<text x="268.23" y="541.5" font-size="6.1" text-anchor="start" fill="#262626" style="stroke-width:0.15px" textLength="38.63" lengthAdjust="spacingAndGlyphs">10 nm, w CS</text>
<line x1="310.5" y1="536.5" x2="333.7" y2="536.5" stroke="#9a2aa8" stroke-width="1.4"/>
<text x="335.04" y="538" font-size="7.6" text-anchor="start" fill="#262626" textLength="22.51" lengthAdjust="spacingAndGlyphs">CPC3</text>
<text x="358.23" y="541.5" font-size="6.1" text-anchor="start" fill="#262626" style="stroke-width:0.15px" textLength="34.03" lengthAdjust="spacingAndGlyphs">4nm, w CS</text>
<line x1="395.5" y1="536.5" x2="418.7" y2="536.5" stroke="#c030c8" stroke-width="1.3" stroke-dasharray="2.5 1.5"/>
<text x="420.04" y="538" font-size="7.6" text-anchor="start" fill="#262626" textLength="22.51" lengthAdjust="spacingAndGlyphs">CPC3</text>
<text x="443.23" y="541.5" font-size="6.1" text-anchor="start" fill="#262626" style="stroke-width:0.15px" textLength="39.53" lengthAdjust="spacingAndGlyphs">4 nm, wo CS</text>
</svg>
</body></html>
